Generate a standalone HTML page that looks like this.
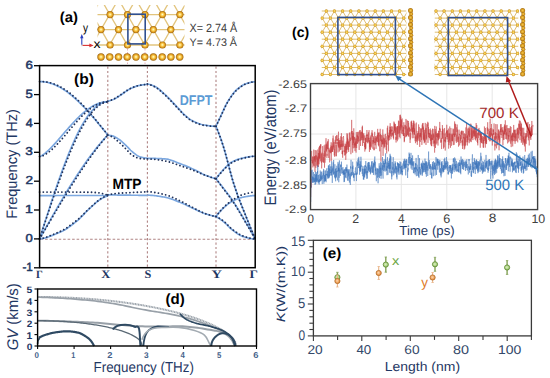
<!DOCTYPE html>
<html><head><meta charset="utf-8"><style>
html,body{margin:0;padding:0;background:#fff;}
svg{display:block;font-family:"Liberation Sans", sans-serif;text-rendering:geometricPrecision;}
</style></head><body>
<svg width="550" height="378" viewBox="0 0 550 378">
<rect width="550" height="378" fill="#fff"/>
<defs><radialGradient id="au" cx="0.5" cy="0.5" r="0.5" fx="0.5" fy="0.48"><stop offset="0" stop-color="#fffbe0"/><stop offset="0.28" stop-color="#fde070"/><stop offset="0.6" stop-color="#eeac2c"/><stop offset="0.85" stop-color="#c08216"/><stop offset="1" stop-color="#9a620e"/></radialGradient></defs>
<g stroke="#e2c47c" stroke-width="1.3" fill="none">
<line x1="145.0" y1="48.5" x2="145.0" y2="64" stroke="#e0a0b0" stroke-width="0.8" stroke-dasharray="2 1.5"/>
<line x1="127.5" y1="48.5" x2="127.5" y2="64" stroke="#e0a0b0" stroke-width="0.8" stroke-dasharray="2 1.5"/>
<line x1="97.5" y1="57" x2="184" y2="57" stroke="#e8d8a8" stroke-width="1"/>
<line x1="97.5" y1="14.6" x2="184.5" y2="14.6"/>
<line x1="97.5" y1="29.6" x2="184.5" y2="29.6"/>
<line x1="97.5" y1="45.0" x2="184.5" y2="45.0"/>
</g>
<clipPath id="aclip"><rect x="97.5" y="5" width="87" height="40"/></clipPath>
<g stroke="#e2c47c" stroke-width="1.3" clip-path="url(#aclip)">
<line x1="-3.7" y1="90.4" x2="66.1" y2="-31.2"/>
<line x1="-3.7" y1="-31.2" x2="66.1" y2="90.4"/>
<line x1="13.8" y1="90.4" x2="83.6" y2="-31.2"/>
<line x1="13.8" y1="-31.2" x2="83.6" y2="90.4"/>
<line x1="31.2" y1="90.4" x2="101.0" y2="-31.2"/>
<line x1="31.2" y1="-31.2" x2="101.0" y2="90.4"/>
<line x1="48.6" y1="90.4" x2="118.4" y2="-31.2"/>
<line x1="48.6" y1="-31.2" x2="118.4" y2="90.4"/>
<line x1="66.1" y1="90.4" x2="135.9" y2="-31.2"/>
<line x1="66.1" y1="-31.2" x2="135.9" y2="90.4"/>
<line x1="83.6" y1="90.4" x2="153.3" y2="-31.2"/>
<line x1="83.6" y1="-31.2" x2="153.3" y2="90.4"/>
<line x1="101.0" y1="90.4" x2="170.8" y2="-31.2"/>
<line x1="101.0" y1="-31.2" x2="170.8" y2="90.4"/>
<line x1="118.4" y1="90.4" x2="188.2" y2="-31.2"/>
<line x1="118.4" y1="-31.2" x2="188.2" y2="90.4"/>
<line x1="135.9" y1="90.4" x2="205.7" y2="-31.2"/>
<line x1="135.9" y1="-31.2" x2="205.7" y2="90.4"/>
<line x1="153.3" y1="90.4" x2="223.2" y2="-31.2"/>
<line x1="153.3" y1="-31.2" x2="223.2" y2="90.4"/>
<line x1="170.8" y1="90.4" x2="240.6" y2="-31.2"/>
<line x1="170.8" y1="-31.2" x2="240.6" y2="90.4"/>
<line x1="188.2" y1="90.4" x2="258.0" y2="-31.2"/>
<line x1="188.2" y1="-31.2" x2="258.0" y2="90.4"/>
</g>
<circle cx="110.1" cy="14.6" r="3.6" fill="url(#au)"/>
<circle cx="127.5" cy="14.6" r="3.6" fill="url(#au)"/>
<circle cx="145.0" cy="14.6" r="3.6" fill="url(#au)"/>
<circle cx="162.4" cy="14.6" r="3.6" fill="url(#au)"/>
<circle cx="179.9" cy="14.6" r="3.6" fill="url(#au)"/>
<circle cx="101.0" cy="29.6" r="3.6" fill="url(#au)"/>
<circle cx="118.5" cy="29.6" r="3.6" fill="url(#au)"/>
<circle cx="135.9" cy="29.6" r="3.6" fill="url(#au)"/>
<circle cx="153.3" cy="29.6" r="3.6" fill="url(#au)"/>
<circle cx="170.8" cy="29.6" r="3.6" fill="url(#au)"/>
<circle cx="110.1" cy="45.0" r="3.6" fill="url(#au)"/>
<circle cx="127.5" cy="45.0" r="3.6" fill="url(#au)"/>
<circle cx="145.0" cy="45.0" r="3.6" fill="url(#au)"/>
<circle cx="162.4" cy="45.0" r="3.6" fill="url(#au)"/>
<circle cx="179.9" cy="45.0" r="3.6" fill="url(#au)"/>
<circle cx="101.0" cy="57.0" r="3.7" fill="url(#au)"/>
<circle cx="109.7" cy="57.0" r="3.7" fill="url(#au)"/>
<circle cx="118.5" cy="57.0" r="3.7" fill="url(#au)"/>
<circle cx="127.2" cy="57.0" r="3.7" fill="url(#au)"/>
<circle cx="136.0" cy="57.0" r="3.7" fill="url(#au)"/>
<circle cx="144.7" cy="57.0" r="3.7" fill="url(#au)"/>
<circle cx="153.4" cy="57.0" r="3.7" fill="url(#au)"/>
<circle cx="162.2" cy="57.0" r="3.7" fill="url(#au)"/>
<circle cx="170.9" cy="57.0" r="3.7" fill="url(#au)"/>
<circle cx="179.7" cy="57.0" r="3.7" fill="url(#au)"/>
<rect x="127.9" y="14.2" width="17.3" height="29.7" fill="none" stroke="#2f4f8f" stroke-width="1.6"/>
<line x1="81.8" y1="45.4" x2="81.8" y2="37.5" stroke="#2840c0" stroke-width="1.1"/><path d="M80.1,38.2 L81.8,33.9 L83.5,38.2Z" fill="#2840c0"/>
<line x1="81.8" y1="45.4" x2="90" y2="45.4" stroke="#d83030" stroke-width="1.1"/><path d="M89.4,43.6 L93.6,45.4 L89.4,47.2Z" fill="#d83030"/><circle cx="81.8" cy="45.4" r="0.9" fill="#ddd"/>
<line x1="107.8" y1="66.5" x2="107.8" y2="267" stroke="#b08484" stroke-width="1.1" stroke-dasharray="2.2 2.2"/>
<line x1="147.4" y1="66.5" x2="147.4" y2="267" stroke="#b08484" stroke-width="1.1" stroke-dasharray="2.2 2.2"/>
<line x1="216.0" y1="66.5" x2="216.0" y2="267" stroke="#b08484" stroke-width="1.1" stroke-dasharray="2.2 2.2"/>
<line x1="40.6" y1="239.3" x2="255.2" y2="239.3" stroke="#b08484" stroke-width="1.1" stroke-dasharray="2.6 1.9"/>
<path d="M39.60,81.56 L40.99,81.59 L42.38,81.67 L43.78,81.81 L45.17,82.00 L46.56,82.24 L47.95,82.54 L49.34,82.90 L50.73,83.31 L52.13,83.77 L53.52,84.28 L54.91,84.84 L56.30,85.46 L57.69,86.13 L59.09,86.85 L60.48,87.62 L61.87,88.43 L63.26,89.30 L64.65,90.21 L66.04,91.16 L67.44,92.16 L68.83,93.21 L70.22,94.30 L71.61,95.43 L73.00,96.60 L74.40,97.81 L75.79,99.06 L77.18,100.35 L78.57,101.67 L79.96,103.02 L81.36,104.41 L82.75,105.83 L84.14,107.28 L85.53,108.76 L86.92,110.26 L88.31,111.79 L89.71,113.35 L91.10,114.93 L92.49,116.52 L93.88,118.14 L95.27,119.77 L96.67,121.42 L98.06,123.08 L99.45,124.76 L100.84,126.44 L102.23,128.14 L103.62,129.84 L105.02,131.55 L106.41,133.26 L107.80,134.97" fill="none" stroke="#7ca8e0" stroke-width="1.7"/>
<path d="M39.60,156.62 L40.99,156.09 L42.38,155.28 L43.78,154.30 L45.17,153.21 L46.56,152.01 L47.95,150.74 L49.34,149.41 L50.73,148.01 L52.13,146.57 L53.52,145.08 L54.91,143.56 L56.30,142.01 L57.69,140.44 L59.09,138.85 L60.48,137.25 L61.87,135.64 L63.26,134.03 L64.65,132.42 L66.04,130.81 L67.44,129.21 L68.83,127.63 L70.22,126.07 L71.61,124.53 L73.00,123.01 L74.40,121.52 L75.79,120.07 L77.18,118.65 L78.57,117.27 L79.96,115.94 L81.36,114.65 L82.75,113.40 L84.14,112.21 L85.53,111.08 L86.92,109.99 L88.31,108.97 L89.71,108.01 L91.10,107.11 L92.49,106.27 L93.88,105.51 L95.27,104.81 L96.67,104.18 L98.06,103.62 L99.45,103.13 L100.84,102.71 L102.23,102.37 L103.62,102.11 L105.02,101.92 L106.41,101.81 L107.80,101.77" fill="none" stroke="#7ca8e0" stroke-width="1.7"/>
<path d="M39.60,238.90 L40.99,234.50 L42.38,230.11 L43.78,225.73 L45.17,221.36 L46.56,217.01 L47.95,212.69 L49.34,208.39 L50.73,204.12 L52.13,199.88 L53.52,195.69 L54.91,191.54 L56.30,187.44 L57.69,183.39 L59.09,179.40 L60.48,175.47 L61.87,171.61 L63.26,167.81 L64.65,164.09 L66.04,160.44 L67.44,156.88 L68.83,153.40 L70.22,150.01 L71.61,146.71 L73.00,143.50 L74.40,140.39 L75.79,137.38 L77.18,134.48 L78.57,131.69 L79.96,129.00 L81.36,126.43 L82.75,123.97 L84.14,121.63 L85.53,119.41 L86.92,117.32 L88.31,115.35 L89.71,113.50 L91.10,111.79 L92.49,110.21 L93.88,108.75 L95.27,107.44 L96.67,106.25 L98.06,105.21 L99.45,104.30 L100.84,103.53 L102.23,102.89 L103.62,102.40 L105.02,102.05 L106.41,101.84 L107.80,101.77" fill="none" stroke="#7ca8e0" stroke-width="1.7"/>
<path d="M39.60,238.90 L40.99,236.42 L42.38,233.93 L43.78,231.45 L45.17,228.97 L46.56,226.50 L47.95,224.03 L49.34,221.57 L50.73,219.11 L52.13,216.67 L53.52,214.23 L54.91,211.80 L56.30,209.38 L57.69,206.98 L59.09,204.59 L60.48,202.21 L61.87,199.84 L63.26,197.50 L64.65,195.17 L66.04,192.85 L67.44,190.56 L68.83,188.28 L70.22,186.02 L71.61,183.79 L73.00,181.58 L74.40,179.38 L75.79,177.22 L77.18,175.07 L78.57,172.95 L79.96,170.85 L81.36,168.79 L82.75,166.74 L84.14,164.73 L85.53,162.74 L86.92,160.77 L88.31,158.84 L89.71,156.94 L91.10,155.06 L92.49,153.22 L93.88,151.40 L95.27,149.62 L96.67,147.87 L98.06,146.14 L99.45,144.45 L100.84,142.79 L102.23,141.16 L103.62,139.57 L105.02,138.00 L106.41,136.47 L107.80,134.97" fill="none" stroke="#7ca8e0" stroke-width="1.7"/>
<path d="M39.60,195.60 L40.76,195.59 L41.91,195.59 L43.07,195.58 L44.22,195.58 L45.38,195.57 L46.54,195.57 L47.69,195.56 L48.85,195.56 L50.00,195.55 L51.16,195.55 L52.32,195.54 L53.47,195.54 L54.63,195.53 L55.78,195.53 L56.94,195.52 L58.09,195.52 L59.25,195.52 L60.41,195.51 L61.56,195.51 L62.72,195.51 L63.87,195.51 L65.03,195.50 L66.19,195.50 L67.34,195.50 L68.50,195.50 L69.65,195.50 L70.81,195.50 L71.97,195.50 L73.12,195.50 L74.28,195.50 L75.43,195.50 L76.59,195.50 L77.75,195.50 L78.90,195.50 L80.06,195.50 L81.21,195.50 L82.37,195.50 L83.53,195.50 L84.68,195.50 L85.84,195.50 L86.99,195.50 L88.15,195.50 L89.31,195.50 L90.46,195.50 L91.62,195.50 L92.77,195.50 L93.93,195.50 L95.08,195.50 L96.24,195.50 L97.40,195.50 L98.55,195.50 L99.71,195.50 L100.86,195.50 L102.02,195.50 L103.18,195.50 L104.33,195.50 L105.49,195.50 L106.64,195.50 L107.80,195.50" fill="none" stroke="#7ca8e0" stroke-width="1.7"/>
<path d="M39.60,238.90 L40.76,238.75 L41.91,238.59 L43.07,238.40 L44.22,238.18 L45.38,237.90 L46.54,237.57 L47.69,237.19 L48.85,236.78 L50.00,236.33 L51.16,235.86 L52.32,235.39 L53.47,234.91 L54.63,234.42 L55.78,233.93 L56.94,233.45 L58.09,232.96 L59.25,232.47 L60.41,231.98 L61.56,231.46 L62.72,230.91 L63.87,230.32 L65.03,229.68 L66.19,228.97 L67.34,228.21 L68.50,227.40 L69.65,226.56 L70.81,225.70 L71.97,224.83 L73.12,223.96 L74.28,223.08 L75.43,222.19 L76.59,221.27 L77.75,220.30 L78.90,219.27 L80.06,218.17 L81.21,217.01 L82.37,215.81 L83.53,214.59 L84.68,213.37 L85.84,212.17 L86.99,211.00 L88.15,209.88 L89.31,208.79 L90.46,207.71 L91.62,206.65 L92.77,205.60 L93.93,204.54 L95.08,203.49 L96.24,202.47 L97.40,201.49 L98.55,200.57 L99.71,199.72 L100.86,198.95 L102.02,198.26 L103.18,197.66 L104.33,197.15 L105.49,196.70 L106.64,196.29 L107.80,195.90" fill="none" stroke="#7ca8e0" stroke-width="1.7"/>
<path d="M107.80,101.10 L108.47,100.98 L109.14,100.83 L109.81,100.66 L110.48,100.47 L111.16,100.26 L111.83,100.03 L112.50,99.79 L113.17,99.53 L113.84,99.25 L114.51,98.92 L115.18,98.56 L115.85,98.17 L116.53,97.76 L117.20,97.33 L117.87,96.90 L118.54,96.45 L119.21,96.01 L119.88,95.58 L120.55,95.14 L121.22,94.68 L121.89,94.20 L122.57,93.71 L123.24,93.22 L123.91,92.73 L124.58,92.25 L125.25,91.79 L125.92,91.35 L126.59,90.93 L127.26,90.51 L127.94,90.09 L128.61,89.68 L129.28,89.28 L129.95,88.90 L130.62,88.55 L131.29,88.22 L131.96,87.92 L132.63,87.64 L133.31,87.36 L133.98,87.10 L134.65,86.84 L135.32,86.60 L135.99,86.36 L136.66,86.14 L137.33,85.93 L138.00,85.75 L138.67,85.58 L139.35,85.43 L140.02,85.30 L140.69,85.18 L141.36,85.07 L142.03,84.96 L142.70,84.85 L143.37,84.75 L144.04,84.67 L144.72,84.59 L145.39,84.52 L146.06,84.46 L146.73,84.42 L147.40,84.40" fill="none" stroke="#7ca8e0" stroke-width="1.7"/>
<path d="M107.80,135.20 L108.47,135.22 L109.14,135.28 L109.81,135.38 L110.48,135.49 L111.16,135.62 L111.83,135.76 L112.50,135.92 L113.17,136.14 L113.84,136.40 L114.51,136.70 L115.18,137.05 L115.85,137.42 L116.53,137.82 L117.20,138.24 L117.87,138.67 L118.54,139.10 L119.21,139.54 L119.88,140.01 L120.55,140.53 L121.22,141.08 L121.89,141.66 L122.57,142.26 L123.24,142.88 L123.91,143.52 L124.58,144.16 L125.25,144.79 L125.92,145.43 L126.59,146.07 L127.26,146.75 L127.94,147.46 L128.61,148.18 L129.28,148.89 L129.95,149.59 L130.62,150.26 L131.29,150.89 L131.96,151.47 L132.63,152.01 L133.31,152.56 L133.98,153.11 L134.65,153.65 L135.32,154.17 L135.99,154.67 L136.66,155.14 L137.33,155.58 L138.00,155.97 L138.67,156.30 L139.35,156.59 L140.02,156.80 L140.69,156.99 L141.36,157.17 L142.03,157.33 L142.70,157.49 L143.37,157.64 L144.04,157.77 L144.72,157.88 L145.39,157.97 L146.06,158.04 L146.73,158.09 L147.40,158.10" fill="none" stroke="#7ca8e0" stroke-width="1.7"/>
<path d="M107.80,194.80 L108.47,194.82 L109.14,194.84 L109.81,194.85 L110.48,194.87 L111.16,194.89 L111.83,194.91 L112.50,194.92 L113.17,194.94 L113.84,194.96 L114.51,194.97 L115.18,194.99 L115.85,195.00 L116.53,195.02 L117.20,195.03 L117.87,195.05 L118.54,195.06 L119.21,195.07 L119.88,195.09 L120.55,195.10 L121.22,195.11 L121.89,195.12 L122.57,195.13 L123.24,195.14 L123.91,195.15 L124.58,195.16 L125.25,195.17 L125.92,195.18 L126.59,195.19 L127.26,195.19 L127.94,195.20 L128.61,195.20 L129.28,195.21 L129.95,195.22 L130.62,195.22 L131.29,195.23 L131.96,195.23 L132.63,195.24 L133.31,195.24 L133.98,195.25 L134.65,195.25 L135.32,195.26 L135.99,195.26 L136.66,195.26 L137.33,195.27 L138.00,195.27 L138.67,195.28 L139.35,195.28 L140.02,195.28 L140.69,195.28 L141.36,195.29 L142.03,195.29 L142.70,195.29 L143.37,195.29 L144.04,195.30 L144.72,195.30 L145.39,195.30 L146.06,195.30 L146.73,195.30 L147.40,195.30" fill="none" stroke="#7ca8e0" stroke-width="1.7"/>
<path d="M147.40,84.00 L148.56,84.21 L149.73,84.51 L150.89,84.88 L152.05,85.31 L153.21,85.79 L154.38,86.31 L155.54,86.87 L156.70,87.55 L157.86,88.36 L159.03,89.26 L160.19,90.22 L161.35,91.24 L162.52,92.27 L163.68,93.29 L164.84,94.33 L166.00,95.43 L167.17,96.57 L168.33,97.75 L169.49,98.94 L170.65,100.14 L171.82,101.35 L172.98,102.58 L174.14,103.84 L175.31,105.10 L176.47,106.36 L177.63,107.61 L178.79,108.85 L179.96,110.12 L181.12,111.40 L182.28,112.65 L183.44,113.84 L184.61,114.95 L185.77,115.97 L186.93,116.96 L188.09,117.92 L189.26,118.82 L190.42,119.64 L191.58,120.37 L192.75,120.97 L193.91,121.52 L195.07,122.05 L196.23,122.55 L197.40,123.02 L198.56,123.46 L199.72,123.85 L200.88,124.21 L202.05,124.53 L203.21,124.79 L204.37,125.01 L205.54,125.21 L206.70,125.40 L207.86,125.58 L209.02,125.75 L210.19,125.90 L211.35,126.04 L212.51,126.15 L213.67,126.23 L214.84,126.28 L216.00,126.30" fill="none" stroke="#7ca8e0" stroke-width="1.7"/>
<path d="M147.40,158.30 L148.56,158.30 L149.73,158.31 L150.89,158.33 L152.05,158.35 L153.21,158.37 L154.38,158.41 L155.54,158.44 L156.70,158.49 L157.86,158.53 L159.03,158.58 L160.19,158.64 L161.35,158.70 L162.52,158.76 L163.68,158.83 L164.84,158.90 L166.00,159.02 L167.17,159.20 L168.33,159.44 L169.49,159.74 L170.65,160.09 L171.82,160.47 L172.98,160.89 L174.14,161.33 L175.31,161.79 L176.47,162.25 L177.63,162.72 L178.79,163.18 L179.96,163.63 L181.12,164.05 L182.28,164.49 L183.44,164.94 L184.61,165.40 L185.77,165.88 L186.93,166.37 L188.09,166.87 L189.26,167.37 L190.42,167.89 L191.58,168.42 L192.75,168.95 L193.91,169.48 L195.07,170.02 L196.23,170.60 L197.40,171.20 L198.56,171.83 L199.72,172.45 L200.88,173.07 L202.05,173.67 L203.21,174.23 L204.37,174.75 L205.54,175.22 L206.70,175.69 L207.86,176.14 L209.02,176.57 L210.19,176.99 L211.35,177.40 L212.51,177.78 L213.67,178.14 L214.84,178.48 L216.00,178.80" fill="none" stroke="#7ca8e0" stroke-width="1.7"/>
<path d="M147.40,195.20 L148.56,195.21 L149.73,195.25 L150.89,195.31 L152.05,195.39 L153.21,195.50 L154.38,195.62 L155.54,195.75 L156.70,195.90 L157.86,196.07 L159.03,196.24 L160.19,196.42 L161.35,196.61 L162.52,196.81 L163.68,197.01 L164.84,197.21 L166.00,197.43 L167.17,197.70 L168.33,198.01 L169.49,198.35 L170.65,198.72 L171.82,199.12 L172.98,199.54 L174.14,199.98 L175.31,200.44 L176.47,200.90 L177.63,201.37 L178.79,201.84 L179.96,202.30 L181.12,202.77 L182.28,203.25 L183.44,203.76 L184.61,204.29 L185.77,204.84 L186.93,205.40 L188.09,205.96 L189.26,206.54 L190.42,207.11 L191.58,207.68 L192.75,208.23 L193.91,208.78 L195.07,209.32 L196.23,209.86 L197.40,210.42 L198.56,210.98 L199.72,211.53 L200.88,212.07 L202.05,212.57 L203.21,213.04 L204.37,213.46 L205.54,213.84 L206.70,214.21 L207.86,214.56 L209.02,214.90 L210.19,215.23 L211.35,215.53 L212.51,215.81 L213.67,216.07 L214.84,216.30 L216.00,216.50" fill="none" stroke="#7ca8e0" stroke-width="1.7"/>
<path d="M216.00,126.30 L216.66,124.84 L217.33,123.39 L217.99,121.94 L218.66,120.50 L219.32,119.07 L219.99,117.65 L220.65,116.24 L221.32,114.83 L221.98,113.39 L222.64,111.93 L223.31,110.47 L223.97,109.01 L224.64,107.58 L225.30,106.18 L225.97,104.83 L226.63,103.55 L227.29,102.35 L227.96,101.24 L228.62,100.18 L229.29,99.13 L229.95,98.10 L230.62,97.10 L231.28,96.12 L231.95,95.18 L232.61,94.27 L233.27,93.41 L233.94,92.58 L234.60,91.80 L235.27,91.06 L235.93,90.38 L236.60,89.75 L237.26,89.18 L237.93,88.63 L238.59,88.09 L239.25,87.57 L239.92,87.07 L240.58,86.59 L241.25,86.13 L241.91,85.70 L242.58,85.30 L243.24,84.92 L243.91,84.57 L244.57,84.25 L245.23,83.97 L245.90,83.73 L246.56,83.52 L247.23,83.32 L247.89,83.12 L248.56,82.93 L249.22,82.74 L249.88,82.57 L250.55,82.41 L251.21,82.26 L251.88,82.13 L252.54,82.02 L253.21,81.92 L253.87,81.86 L254.54,81.81 L255.20,81.80" fill="none" stroke="#7ca8e0" stroke-width="1.7"/>
<path d="M216.00,126.30 L216.66,127.96 L217.33,129.62 L217.99,131.30 L218.66,133.01 L219.32,134.74 L219.99,136.51 L220.65,138.34 L221.32,140.21 L221.98,142.15 L222.64,144.15 L223.31,146.24 L223.97,148.41 L224.64,150.67 L225.30,153.01 L225.97,155.42 L226.63,157.87 L227.29,160.37 L227.96,162.88 L228.62,165.41 L229.29,167.93 L229.95,170.43 L230.62,172.89 L231.28,175.31 L231.95,177.66 L232.61,179.94 L233.27,182.14 L233.94,184.28 L234.60,186.36 L235.27,188.38 L235.93,190.34 L236.60,192.25 L237.26,194.12 L237.93,195.95 L238.59,197.74 L239.25,199.49 L239.92,201.22 L240.58,202.93 L241.25,204.61 L241.91,206.28 L242.58,207.94 L243.24,209.60 L243.91,211.25 L244.57,212.90 L245.23,214.54 L245.90,216.19 L246.56,217.83 L247.23,219.46 L247.89,221.10 L248.56,222.73 L249.22,224.36 L249.88,226.00 L250.55,227.62 L251.21,229.25 L251.88,230.88 L252.54,232.50 L253.21,234.13 L253.87,235.75 L254.54,237.38 L255.20,239.00" fill="none" stroke="#7ca8e0" stroke-width="1.7"/>
<path d="M216.00,178.80 L216.66,177.88 L217.33,176.98 L217.99,176.09 L218.66,175.23 L219.32,174.38 L219.99,173.55 L220.65,172.74 L221.32,171.95 L221.98,171.19 L222.64,170.44 L223.31,169.72 L223.97,169.03 L224.64,168.34 L225.30,167.65 L225.97,166.97 L226.63,166.29 L227.29,165.63 L227.96,164.99 L228.62,164.38 L229.29,163.81 L229.95,163.27 L230.62,162.79 L231.28,162.35 L231.95,161.98 L232.61,161.64 L233.27,161.31 L233.94,161.00 L234.60,160.70 L235.27,160.41 L235.93,160.14 L236.60,159.88 L237.26,159.63 L237.93,159.40 L238.59,159.18 L239.25,158.97 L239.92,158.77 L240.58,158.58 L241.25,158.41 L241.91,158.24 L242.58,158.09 L243.24,157.95 L243.91,157.81 L244.57,157.67 L245.23,157.54 L245.90,157.41 L246.56,157.28 L247.23,157.16 L247.89,157.04 L248.56,156.92 L249.22,156.81 L249.88,156.71 L250.55,156.62 L251.21,156.53 L251.88,156.45 L252.54,156.38 L253.21,156.32 L253.87,156.27 L254.54,156.23 L255.20,156.20" fill="none" stroke="#7ca8e0" stroke-width="1.7"/>
<path d="M216.00,178.80 L216.66,179.63 L217.33,180.46 L217.99,181.30 L218.66,182.14 L219.32,182.98 L219.99,183.83 L220.65,184.68 L221.32,185.53 L221.98,186.38 L222.64,187.24 L223.31,188.10 L223.97,188.96 L224.64,189.83 L225.30,190.68 L225.97,191.54 L226.63,192.39 L227.29,193.25 L227.96,194.11 L228.62,194.98 L229.29,195.87 L229.95,196.76 L230.62,197.68 L231.28,198.61 L231.95,199.57 L232.61,200.54 L233.27,201.54 L233.94,202.56 L234.60,203.59 L235.27,204.64 L235.93,205.70 L236.60,206.78 L237.26,207.86 L237.93,208.96 L238.59,210.06 L239.25,211.18 L239.92,212.29 L240.58,213.41 L241.25,214.54 L241.91,215.66 L242.58,216.78 L243.24,217.91 L243.91,219.03 L244.57,220.16 L245.23,221.30 L245.90,222.44 L246.56,223.59 L247.23,224.74 L247.89,225.90 L248.56,227.07 L249.22,228.24 L249.88,229.41 L250.55,230.59 L251.21,231.78 L251.88,232.97 L252.54,234.16 L253.21,235.36 L253.87,236.57 L254.54,237.78 L255.20,239.00" fill="none" stroke="#7ca8e0" stroke-width="1.7"/>
<path d="M216.00,216.50 L216.66,215.64 L217.33,214.79 L217.99,213.97 L218.66,213.16 L219.32,212.38 L219.99,211.61 L220.65,210.87 L221.32,210.15 L221.98,209.46 L222.64,208.79 L223.31,208.14 L223.97,207.52 L224.64,206.93 L225.30,206.34 L225.97,205.76 L226.63,205.19 L227.29,204.64 L227.96,204.11 L228.62,203.61 L229.29,203.12 L229.95,202.66 L230.62,202.24 L231.28,201.84 L231.95,201.48 L232.61,201.13 L233.27,200.80 L233.94,200.47 L234.60,200.15 L235.27,199.84 L235.93,199.54 L236.60,199.25 L237.26,198.98 L237.93,198.71 L238.59,198.46 L239.25,198.23 L239.92,198.00 L240.58,197.80 L241.25,197.61 L241.91,197.44 L242.58,197.29 L243.24,197.15 L243.91,197.02 L244.57,196.89 L245.23,196.76 L245.90,196.64 L246.56,196.52 L247.23,196.40 L247.89,196.29 L248.56,196.18 L249.22,196.08 L249.88,195.99 L250.55,195.90 L251.21,195.83 L251.88,195.76 L252.54,195.71 L253.21,195.66 L253.87,195.63 L254.54,195.61 L255.20,195.60" fill="none" stroke="#7ca8e0" stroke-width="1.7"/>
<path d="M216.00,216.50 L216.66,216.88 L217.33,217.27 L217.99,217.68 L218.66,218.11 L219.32,218.55 L219.99,219.00 L220.65,219.47 L221.32,219.94 L221.98,220.44 L222.64,220.94 L223.31,221.45 L223.97,221.98 L224.64,222.53 L225.30,223.13 L225.97,223.77 L226.63,224.43 L227.29,225.10 L227.96,225.79 L228.62,226.47 L229.29,227.15 L229.95,227.80 L230.62,228.42 L231.28,229.00 L231.95,229.54 L232.61,230.05 L233.27,230.56 L233.94,231.07 L234.60,231.57 L235.27,232.07 L235.93,232.56 L236.60,233.04 L237.26,233.50 L237.93,233.95 L238.59,234.37 L239.25,234.78 L239.92,235.15 L240.58,235.50 L241.25,235.82 L241.91,236.11 L242.58,236.36 L243.24,236.57 L243.91,236.78 L244.57,236.99 L245.23,237.19 L245.90,237.38 L246.56,237.57 L247.23,237.76 L247.89,237.93 L248.56,238.10 L249.22,238.25 L249.88,238.40 L250.55,238.53 L251.21,238.65 L251.88,238.75 L252.54,238.84 L253.21,238.91 L253.87,238.96 L254.54,238.99 L255.20,239.00" fill="none" stroke="#7ca8e0" stroke-width="1.7"/>
<path d="M39.60,81.56 L40.99,81.53 L42.38,81.56 L43.78,81.64 L45.17,81.78 L46.56,81.97 L47.95,82.22 L49.34,82.52 L50.73,82.88 L52.13,83.29 L53.52,83.76 L54.91,84.28 L56.30,84.86 L57.69,85.49 L59.09,86.17 L60.48,86.90 L61.87,87.69 L63.26,88.53 L64.65,89.41 L66.04,90.35 L67.44,91.33 L68.83,92.37 L70.22,93.44 L71.61,94.57 L73.00,95.74 L74.40,96.95 L75.79,98.20 L77.18,99.49 L78.57,100.82 L79.96,102.19 L81.36,103.60 L82.75,105.04 L84.14,106.51 L85.53,108.02 L86.92,109.55 L88.31,111.12 L89.71,112.71 L91.10,114.32 L92.49,115.96 L93.88,117.62 L95.27,119.30 L96.67,121.00 L98.06,122.71 L99.45,124.43 L100.84,126.17 L102.23,127.92 L103.62,129.67 L105.02,131.44 L106.41,133.20 L107.80,134.97" fill="none" stroke="#21325a" stroke-width="1.85" stroke-linecap="round" stroke-dasharray="0.01 3.7"/>
<path d="M39.60,156.62 L40.99,156.40 L42.38,155.94 L43.78,155.33 L45.17,154.58 L46.56,153.71 L47.95,152.74 L49.34,151.67 L50.73,150.51 L52.13,149.28 L53.52,147.98 L54.91,146.61 L56.30,145.19 L57.69,143.72 L59.09,142.20 L60.48,140.65 L61.87,139.06 L63.26,137.45 L64.65,135.82 L66.04,134.17 L67.44,132.52 L68.83,130.86 L70.22,129.21 L71.61,127.56 L73.00,125.93 L74.40,124.31 L75.79,122.72 L77.18,121.15 L78.57,119.62 L79.96,118.13 L81.36,116.68 L82.75,115.27 L84.14,113.92 L85.53,112.62 L86.92,111.38 L88.31,110.20 L89.71,109.08 L91.10,108.04 L92.49,107.07 L93.88,106.17 L95.27,105.35 L96.67,104.61 L98.06,103.95 L99.45,103.38 L100.84,102.89 L102.23,102.49 L103.62,102.17 L105.02,101.95 L106.41,101.81 L107.80,101.77" fill="none" stroke="#21325a" stroke-width="1.85" stroke-linecap="round" stroke-dasharray="0.01 3.7"/>
<path d="M39.60,238.90 L40.99,234.65 L42.38,230.41 L43.78,226.17 L45.17,221.95 L46.56,217.74 L47.95,213.55 L49.34,209.39 L50.73,205.25 L52.13,201.14 L53.52,197.07 L54.91,193.04 L56.30,189.05 L57.69,185.10 L59.09,181.21 L60.48,177.37 L61.87,173.58 L63.26,169.86 L64.65,166.20 L66.04,162.61 L67.44,159.09 L68.83,155.65 L70.22,152.29 L71.61,149.00 L73.00,145.81 L74.40,142.70 L75.79,139.68 L77.18,136.76 L78.57,133.94 L79.96,131.21 L81.36,128.60 L82.75,126.08 L84.14,123.68 L85.53,121.39 L86.92,119.21 L88.31,117.15 L89.71,115.21 L91.10,113.40 L92.49,111.70 L93.88,110.14 L95.27,108.70 L96.67,107.39 L98.06,106.21 L99.45,105.16 L100.84,104.25 L102.23,103.48 L103.62,102.84 L105.02,102.34 L106.41,101.99 L107.80,101.77" fill="none" stroke="#21325a" stroke-width="1.85" stroke-linecap="round" stroke-dasharray="0.01 3.7"/>
<path d="M39.60,238.90 L40.99,236.53 L42.38,234.15 L43.78,231.78 L45.17,229.41 L46.56,227.05 L47.95,224.68 L49.34,222.32 L50.73,219.96 L52.13,217.61 L53.52,215.26 L54.91,212.92 L56.30,210.59 L57.69,208.26 L59.09,205.94 L60.48,203.63 L61.87,201.33 L63.26,199.03 L64.65,196.75 L66.04,194.48 L67.44,192.22 L68.83,189.97 L70.22,187.73 L71.61,185.51 L73.00,183.31 L74.40,181.11 L75.79,178.94 L77.18,176.78 L78.57,174.64 L79.96,172.52 L81.36,170.41 L82.75,168.33 L84.14,166.26 L85.53,164.22 L86.92,162.20 L88.31,160.20 L89.71,158.22 L91.10,156.27 L92.49,154.34 L93.88,152.44 L95.27,150.56 L96.67,148.72 L98.06,146.89 L99.45,145.10 L100.84,143.34 L102.23,141.60 L103.62,139.90 L105.02,138.22 L106.41,136.58 L107.80,134.97" fill="none" stroke="#21325a" stroke-width="1.85" stroke-linecap="round" stroke-dasharray="0.01 3.7"/>
<path d="M39.60,192.10 L40.76,192.10 L41.91,192.10 L43.07,192.10 L44.22,192.10 L45.38,192.10 L46.54,192.10 L47.69,192.10 L48.85,192.10 L50.00,192.10 L51.16,192.10 L52.32,192.10 L53.47,192.10 L54.63,192.10 L55.78,192.10 L56.94,192.10 L58.09,192.10 L59.25,192.10 L60.41,192.10 L61.56,192.10 L62.72,192.10 L63.87,192.10 L65.03,192.10 L66.19,192.10 L67.34,192.10 L68.50,192.10 L69.65,192.10 L70.81,192.10 L71.97,192.10 L73.12,192.10 L74.28,192.11 L75.43,192.11 L76.59,192.12 L77.75,192.12 L78.90,192.13 L80.06,192.14 L81.21,192.15 L82.37,192.16 L83.53,192.17 L84.68,192.19 L85.84,192.20 L86.99,192.22 L88.15,192.23 L89.31,192.25 L90.46,192.27 L91.62,192.29 L92.77,192.32 L93.93,192.37 L95.08,192.45 L96.24,192.55 L97.40,192.67 L98.55,192.81 L99.71,192.96 L100.86,193.17 L102.02,193.50 L103.18,193.87 L104.33,194.18 L105.49,194.47 L106.64,194.74 L107.80,195.00" fill="none" stroke="#21325a" stroke-width="1.85" stroke-linecap="round" stroke-dasharray="0.01 3.7"/>
<path d="M39.60,238.90 L40.76,238.66 L41.91,238.40 L43.07,238.13 L44.22,237.83 L45.38,237.48 L46.54,237.09 L47.69,236.67 L48.85,236.22 L50.00,235.75 L51.16,235.27 L52.32,234.79 L53.47,234.31 L54.63,233.83 L55.78,233.34 L56.94,232.86 L58.09,232.36 L59.25,231.85 L60.41,231.32 L61.56,230.77 L62.72,230.18 L63.87,229.56 L65.03,228.89 L66.19,228.16 L67.34,227.39 L68.50,226.58 L69.65,225.74 L70.81,224.89 L71.97,224.03 L73.12,223.16 L74.28,222.30 L75.43,221.41 L76.59,220.50 L77.75,219.55 L78.90,218.56 L80.06,217.50 L81.21,216.39 L82.37,215.25 L83.53,214.09 L84.68,212.92 L85.84,211.76 L86.99,210.63 L88.15,209.52 L89.31,208.44 L90.46,207.38 L91.62,206.33 L92.77,205.29 L93.93,204.26 L95.08,203.25 L96.24,202.25 L97.40,201.29 L98.55,200.36 L99.71,199.50 L100.86,198.69 L102.02,197.98 L103.18,197.36 L104.33,196.83 L105.49,196.38 L106.64,195.98 L107.80,195.60" fill="none" stroke="#21325a" stroke-width="1.85" stroke-linecap="round" stroke-dasharray="0.01 3.7"/>
<path d="M107.80,101.10 L108.47,100.94 L109.14,100.76 L109.81,100.57 L110.48,100.35 L111.16,100.12 L111.83,99.87 L112.50,99.60 L113.17,99.33 L113.84,99.02 L114.51,98.69 L115.18,98.32 L115.85,97.94 L116.53,97.53 L117.20,97.11 L117.87,96.68 L118.54,96.25 L119.21,95.81 L119.88,95.38 L120.55,94.94 L121.22,94.48 L121.89,94.00 L122.57,93.51 L123.24,93.02 L123.91,92.53 L124.58,92.05 L125.25,91.59 L125.92,91.15 L126.59,90.73 L127.26,90.30 L127.94,89.88 L128.61,89.47 L129.28,89.07 L129.95,88.69 L130.62,88.34 L131.29,88.01 L131.96,87.72 L132.63,87.44 L133.31,87.18 L133.98,86.92 L134.65,86.67 L135.32,86.43 L135.99,86.20 L136.66,85.99 L137.33,85.80 L138.00,85.62 L138.67,85.46 L139.35,85.32 L140.02,85.20 L140.69,85.09 L141.36,84.99 L142.03,84.89 L142.70,84.79 L143.37,84.70 L144.04,84.62 L144.72,84.55 L145.39,84.49 L146.06,84.45 L146.73,84.42 L147.40,84.40" fill="none" stroke="#21325a" stroke-width="1.85" stroke-linecap="round" stroke-dasharray="0.01 3.7"/>
<path d="M107.80,135.20 L108.47,135.38 L109.14,135.59 L109.81,135.83 L110.48,136.10 L111.16,136.40 L111.83,136.71 L112.50,137.06 L113.17,137.46 L113.84,137.91 L114.51,138.40 L115.18,138.92 L115.85,139.47 L116.53,140.04 L117.20,140.63 L117.87,141.21 L118.54,141.80 L119.21,142.38 L119.88,142.98 L120.55,143.60 L121.22,144.24 L121.89,144.89 L122.57,145.56 L123.24,146.23 L123.91,146.90 L124.58,147.58 L125.25,148.26 L125.92,148.92 L126.59,149.61 L127.26,150.33 L127.94,151.08 L128.61,151.84 L129.28,152.58 L129.95,153.28 L130.62,153.93 L131.29,154.50 L131.96,154.98 L132.63,155.39 L133.31,155.80 L133.98,156.19 L134.65,156.56 L135.32,156.92 L135.99,157.25 L136.66,157.55 L137.33,157.82 L138.00,158.06 L138.67,158.25 L139.35,158.40 L140.02,158.50 L140.69,158.58 L141.36,158.65 L142.03,158.72 L142.70,158.78 L143.37,158.83 L144.04,158.88 L144.72,158.92 L145.39,158.96 L146.06,158.98 L146.73,158.99 L147.40,159.00" fill="none" stroke="#21325a" stroke-width="1.85" stroke-linecap="round" stroke-dasharray="0.01 3.7"/>
<path d="M107.80,194.80 L108.47,194.67 L109.14,194.53 L109.81,194.40 L110.48,194.28 L111.16,194.15 L111.83,194.04 L112.50,193.93 L113.17,193.83 L113.84,193.73 L114.51,193.65 L115.18,193.58 L115.85,193.52 L116.53,193.46 L117.20,193.40 L117.87,193.34 L118.54,193.29 L119.21,193.24 L119.88,193.19 L120.55,193.14 L121.22,193.10 L121.89,193.05 L122.57,193.01 L123.24,192.97 L123.91,192.93 L124.58,192.89 L125.25,192.86 L125.92,192.82 L126.59,192.78 L127.26,192.75 L127.94,192.71 L128.61,192.68 L129.28,192.64 L129.95,192.60 L130.62,192.57 L131.29,192.53 L131.96,192.49 L132.63,192.46 L133.31,192.42 L133.98,192.39 L134.65,192.35 L135.32,192.32 L135.99,192.29 L136.66,192.25 L137.33,192.22 L138.00,192.19 L138.67,192.16 L139.35,192.13 L140.02,192.10 L140.69,192.07 L141.36,192.04 L142.03,192.01 L142.70,191.98 L143.37,191.95 L144.04,191.93 L144.72,191.90 L145.39,191.87 L146.06,191.85 L146.73,191.82 L147.40,191.80" fill="none" stroke="#21325a" stroke-width="1.85" stroke-linecap="round" stroke-dasharray="0.01 3.7"/>
<path d="M147.40,84.00 L148.56,84.26 L149.73,84.61 L150.89,85.02 L152.05,85.50 L153.21,86.02 L154.38,86.58 L155.54,87.19 L156.70,87.92 L157.86,88.75 L159.03,89.68 L160.19,90.67 L161.35,91.70 L162.52,92.75 L163.68,93.79 L164.84,94.84 L166.00,95.94 L167.17,97.09 L168.33,98.26 L169.49,99.45 L170.65,100.64 L171.82,101.85 L172.98,103.08 L174.14,104.34 L175.31,105.60 L176.47,106.86 L177.63,108.11 L178.79,109.35 L179.96,110.63 L181.12,111.91 L182.28,113.16 L183.44,114.35 L184.61,115.45 L185.77,116.46 L186.93,117.44 L188.09,118.38 L189.26,119.26 L190.42,120.06 L191.58,120.77 L192.75,121.37 L193.91,121.93 L195.07,122.47 L196.23,122.98 L197.40,123.47 L198.56,123.92 L199.72,124.32 L200.88,124.68 L202.05,124.99 L203.21,125.23 L204.37,125.41 L205.54,125.55 L206.70,125.69 L207.86,125.82 L209.02,125.93 L210.19,126.04 L211.35,126.13 L212.51,126.20 L213.67,126.25 L214.84,126.29 L216.00,126.30" fill="none" stroke="#21325a" stroke-width="1.85" stroke-linecap="round" stroke-dasharray="0.01 3.7"/>
<path d="M147.40,158.90 L148.56,158.92 L149.73,158.97 L150.89,159.04 L152.05,159.12 L153.21,159.23 L154.38,159.35 L155.54,159.48 L156.70,159.63 L157.86,159.79 L159.03,159.96 L160.19,160.14 L161.35,160.33 L162.52,160.52 L163.68,160.71 L164.84,160.91 L166.00,161.13 L167.17,161.39 L168.33,161.69 L169.49,162.02 L170.65,162.38 L171.82,162.76 L172.98,163.16 L174.14,163.57 L175.31,163.98 L176.47,164.41 L177.63,164.83 L178.79,165.24 L179.96,165.65 L181.12,166.04 L182.28,166.43 L183.44,166.82 L184.61,167.21 L185.77,167.61 L186.93,168.01 L188.09,168.41 L189.26,168.82 L190.42,169.24 L191.58,169.66 L192.75,170.09 L193.91,170.53 L195.07,170.99 L196.23,171.46 L197.40,171.96 L198.56,172.48 L199.72,172.99 L200.88,173.51 L202.05,174.01 L203.21,174.50 L204.37,174.95 L205.54,175.38 L206.70,175.80 L207.86,176.22 L209.02,176.62 L210.19,177.01 L211.35,177.39 L212.51,177.76 L213.67,178.12 L214.84,178.47 L216.00,178.80" fill="none" stroke="#21325a" stroke-width="1.85" stroke-linecap="round" stroke-dasharray="0.01 3.7"/>
<path d="M147.40,191.70 L148.56,191.76 L149.73,191.84 L150.89,191.95 L152.05,192.08 L153.21,192.24 L154.38,192.42 L155.54,192.61 L156.70,192.82 L157.86,193.05 L159.03,193.28 L160.19,193.53 L161.35,193.79 L162.52,194.06 L163.68,194.33 L164.84,194.61 L166.00,194.91 L167.17,195.27 L168.33,195.66 L169.49,196.09 L170.65,196.55 L171.82,197.04 L172.98,197.55 L174.14,198.09 L175.31,198.63 L176.47,199.18 L177.63,199.74 L178.79,200.30 L179.96,200.85 L181.12,201.40 L182.28,201.96 L183.44,202.54 L184.61,203.15 L185.77,203.77 L186.93,204.39 L188.09,205.03 L189.26,205.66 L190.42,206.30 L191.58,206.93 L192.75,207.54 L193.91,208.15 L195.07,208.74 L196.23,209.34 L197.40,209.96 L198.56,210.57 L199.72,211.17 L200.88,211.75 L202.05,212.30 L203.21,212.80 L204.37,213.25 L205.54,213.66 L206.70,214.06 L207.86,214.44 L209.02,214.81 L210.19,215.15 L211.35,215.48 L212.51,215.77 L213.67,216.05 L214.84,216.29 L216.00,216.50" fill="none" stroke="#21325a" stroke-width="1.85" stroke-linecap="round" stroke-dasharray="0.01 3.7"/>
<path d="M216.00,126.30 L216.66,124.89 L217.33,123.49 L217.99,122.08 L218.66,120.69 L219.32,119.29 L219.99,117.91 L220.65,116.52 L221.32,115.14 L221.98,113.73 L222.64,112.28 L223.31,110.83 L223.97,109.38 L224.64,107.96 L225.30,106.56 L225.97,105.22 L226.63,103.94 L227.29,102.75 L227.96,101.64 L228.62,100.58 L229.29,99.54 L229.95,98.51 L230.62,97.52 L231.28,96.55 L231.95,95.61 L232.61,94.70 L233.27,93.84 L233.94,93.01 L234.60,92.22 L235.27,91.49 L235.93,90.80 L236.60,90.16 L237.26,89.57 L237.93,89.01 L238.59,88.46 L239.25,87.93 L239.92,87.42 L240.58,86.92 L241.25,86.45 L241.91,86.01 L242.58,85.59 L243.24,85.19 L243.91,84.83 L244.57,84.50 L245.23,84.20 L245.90,83.94 L246.56,83.71 L247.23,83.49 L247.89,83.28 L248.56,83.07 L249.22,82.87 L249.88,82.68 L250.55,82.50 L251.21,82.34 L251.88,82.19 L252.54,82.07 L253.21,81.96 L253.87,81.88 L254.54,81.83 L255.20,81.80" fill="none" stroke="#21325a" stroke-width="1.85" stroke-linecap="round" stroke-dasharray="0.01 3.7"/>
<path d="M216.00,126.30 L216.66,127.96 L217.33,129.62 L217.99,131.30 L218.66,133.01 L219.32,134.74 L219.99,136.51 L220.65,138.34 L221.32,140.21 L221.98,142.15 L222.64,144.15 L223.31,146.24 L223.97,148.41 L224.64,150.67 L225.30,153.01 L225.97,155.42 L226.63,157.87 L227.29,160.37 L227.96,162.88 L228.62,165.41 L229.29,167.93 L229.95,170.43 L230.62,172.89 L231.28,175.31 L231.95,177.66 L232.61,179.94 L233.27,182.14 L233.94,184.28 L234.60,186.36 L235.27,188.38 L235.93,190.34 L236.60,192.25 L237.26,194.12 L237.93,195.95 L238.59,197.74 L239.25,199.49 L239.92,201.22 L240.58,202.93 L241.25,204.61 L241.91,206.28 L242.58,207.94 L243.24,209.60 L243.91,211.25 L244.57,212.90 L245.23,214.54 L245.90,216.19 L246.56,217.83 L247.23,219.46 L247.89,221.10 L248.56,222.73 L249.22,224.36 L249.88,226.00 L250.55,227.62 L251.21,229.25 L251.88,230.88 L252.54,232.50 L253.21,234.13 L253.87,235.75 L254.54,237.38 L255.20,239.00" fill="none" stroke="#21325a" stroke-width="1.85" stroke-linecap="round" stroke-dasharray="0.01 3.7"/>
<path d="M216.00,178.80 L216.66,177.94 L217.33,177.09 L217.99,176.26 L218.66,175.44 L219.32,174.64 L219.99,173.86 L220.65,173.09 L221.32,172.34 L221.98,171.61 L222.64,170.89 L223.31,170.20 L223.97,169.53 L224.64,168.86 L225.30,168.19 L225.97,167.53 L226.63,166.87 L227.29,166.22 L227.96,165.60 L228.62,165.00 L229.29,164.43 L229.95,163.90 L230.62,163.41 L231.28,162.96 L231.95,162.57 L232.61,162.22 L233.27,161.88 L233.94,161.55 L234.60,161.23 L235.27,160.93 L235.93,160.64 L236.60,160.36 L237.26,160.09 L237.93,159.84 L238.59,159.60 L239.25,159.37 L239.92,159.16 L240.58,158.95 L241.25,158.76 L241.91,158.58 L242.58,158.40 L243.24,158.24 L243.91,158.08 L244.57,157.93 L245.23,157.78 L245.90,157.63 L246.56,157.48 L247.23,157.34 L247.89,157.21 L248.56,157.08 L249.22,156.95 L249.88,156.84 L250.55,156.73 L251.21,156.62 L251.88,156.53 L252.54,156.44 L253.21,156.37 L253.87,156.30 L254.54,156.25 L255.20,156.20" fill="none" stroke="#21325a" stroke-width="1.85" stroke-linecap="round" stroke-dasharray="0.01 3.7"/>
<path d="M216.00,178.80 L216.66,179.69 L217.33,180.58 L217.99,181.47 L218.66,182.36 L219.32,183.25 L219.99,184.14 L220.65,185.03 L221.32,185.92 L221.98,186.80 L222.64,187.69 L223.31,188.58 L223.97,189.46 L224.64,190.34 L225.30,191.21 L225.97,192.07 L226.63,192.93 L227.29,193.78 L227.96,194.64 L228.62,195.51 L229.29,196.39 L229.95,197.28 L230.62,198.18 L231.28,199.11 L231.95,200.07 L232.61,201.04 L233.27,202.04 L233.94,203.06 L234.60,204.10 L235.27,205.15 L235.93,206.22 L236.60,207.30 L237.26,208.39 L237.93,209.49 L238.59,210.59 L239.25,211.71 L239.92,212.82 L240.58,213.94 L241.25,215.06 L241.91,216.18 L242.58,217.29 L243.24,218.40 L243.91,219.51 L244.57,220.63 L245.23,221.75 L245.90,222.87 L246.56,224.00 L247.23,225.13 L247.89,226.27 L248.56,227.41 L249.22,228.55 L249.88,229.69 L250.55,230.84 L251.21,232.00 L251.88,233.16 L252.54,234.32 L253.21,235.48 L253.87,236.65 L254.54,237.82 L255.20,239.00" fill="none" stroke="#21325a" stroke-width="1.85" stroke-linecap="round" stroke-dasharray="0.01 3.7"/>
<path d="M216.00,216.50 L216.66,215.60 L217.33,214.71 L217.99,213.85 L218.66,213.00 L219.32,212.17 L219.99,211.37 L220.65,210.58 L221.32,209.82 L221.98,209.09 L222.64,208.37 L223.31,207.69 L223.97,207.03 L224.64,206.39 L225.30,205.76 L225.97,205.16 L226.63,204.57 L227.29,203.99 L227.96,203.43 L228.62,202.89 L229.29,202.37 L229.95,201.87 L230.62,201.38 L231.28,200.92 L231.95,200.47 L232.61,200.03 L233.27,199.59 L233.94,199.16 L234.60,198.72 L235.27,198.30 L235.93,197.88 L236.60,197.48 L237.26,197.08 L237.93,196.71 L238.59,196.34 L239.25,196.00 L239.92,195.68 L240.58,195.37 L241.25,195.10 L241.91,194.85 L242.58,194.63 L243.24,194.43 L243.91,194.25 L244.57,194.06 L245.23,193.88 L245.90,193.70 L246.56,193.53 L247.23,193.36 L247.89,193.20 L248.56,193.05 L249.22,192.90 L249.88,192.77 L250.55,192.65 L251.21,192.54 L251.88,192.44 L252.54,192.36 L253.21,192.29 L253.87,192.24 L254.54,192.21 L255.20,192.20" fill="none" stroke="#21325a" stroke-width="1.85" stroke-linecap="round" stroke-dasharray="0.01 3.7"/>
<path d="M216.00,216.50 L216.66,216.82 L217.33,217.16 L217.99,217.51 L218.66,217.89 L219.32,218.29 L219.99,218.70 L220.65,219.13 L221.32,219.57 L221.98,220.03 L222.64,220.50 L223.31,220.98 L223.97,221.48 L224.64,222.01 L225.30,222.59 L225.97,223.22 L226.63,223.88 L227.29,224.56 L227.96,225.25 L228.62,225.94 L229.29,226.62 L229.95,227.28 L230.62,227.91 L231.28,228.50 L231.95,229.04 L232.61,229.54 L233.27,230.05 L233.94,230.55 L234.60,231.05 L235.27,231.54 L235.93,232.02 L236.60,232.49 L237.26,232.94 L237.93,233.38 L238.59,233.80 L239.25,234.20 L239.92,234.58 L240.58,234.94 L241.25,235.27 L241.91,235.57 L242.58,235.84 L243.24,236.09 L243.91,236.32 L244.57,236.55 L245.23,236.78 L245.90,237.00 L246.56,237.22 L247.23,237.43 L247.89,237.63 L248.56,237.83 L249.22,238.01 L249.88,238.18 L250.55,238.34 L251.21,238.48 L251.88,238.61 L252.54,238.72 L253.21,238.82 L253.87,238.90 L254.54,238.96 L255.20,239.00" fill="none" stroke="#21325a" stroke-width="1.85" stroke-linecap="round" stroke-dasharray="0.01 3.7"/>
<rect x="39.6" y="65.6" width="215.6" height="202.1" fill="none" stroke="#000" stroke-width="1.5"/>
<line x1="34" y1="267.8" x2="39.6" y2="267.8" stroke="#000" stroke-width="1.3"/>
<line x1="34" y1="238.9" x2="39.6" y2="238.9" stroke="#000" stroke-width="1.3"/>
<line x1="34" y1="210.0" x2="39.6" y2="210.0" stroke="#000" stroke-width="1.3"/>
<line x1="34" y1="181.2" x2="39.6" y2="181.2" stroke="#000" stroke-width="1.3"/>
<line x1="34" y1="152.3" x2="39.6" y2="152.3" stroke="#000" stroke-width="1.3"/>
<line x1="34" y1="123.4" x2="39.6" y2="123.4" stroke="#000" stroke-width="1.3"/>
<line x1="34" y1="94.6" x2="39.6" y2="94.6" stroke="#000" stroke-width="1.3"/>
<line x1="34" y1="65.7" x2="39.6" y2="65.7" stroke="#000" stroke-width="1.3"/>
<line x1="355.9" y1="83.6" x2="355.9" y2="209.6" stroke="#e6e6e6" stroke-width="1"/>
<line x1="401.3" y1="83.6" x2="401.3" y2="209.6" stroke="#e6e6e6" stroke-width="1"/>
<line x1="446.8" y1="83.6" x2="446.8" y2="209.6" stroke="#e6e6e6" stroke-width="1"/>
<line x1="492.2" y1="83.6" x2="492.2" y2="209.6" stroke="#e6e6e6" stroke-width="1"/>
<line x1="310.5" y1="184.4" x2="537.6" y2="184.4" stroke="#e6e6e6" stroke-width="1"/>
<line x1="310.5" y1="159.2" x2="537.6" y2="159.2" stroke="#e6e6e6" stroke-width="1"/>
<line x1="310.5" y1="134.0" x2="537.6" y2="134.0" stroke="#e6e6e6" stroke-width="1"/>
<line x1="310.5" y1="108.8" x2="537.6" y2="108.8" stroke="#e6e6e6" stroke-width="1"/>
<path d="M310.50,197.00 L310.63,197.00 L310.75,197.00 L310.88,184.49 L311.00,180.66 L311.13,179.04 L311.25,187.51 L311.38,177.25 L311.50,176.94 L311.63,150.92 L311.75,160.76 L311.88,160.27 L312.00,160.20 L312.13,162.22 L312.25,163.11 L312.38,159.26 L312.50,156.57 L312.63,163.47 L312.75,160.56 L312.88,167.41 L313.00,165.59 L313.13,156.62 L313.25,160.59 L313.38,165.63 L313.50,163.64 L313.63,158.44 L313.75,149.60 L313.88,160.00 L314.00,161.25 L314.13,156.70 L314.25,166.31 L314.38,162.75 L314.50,156.43 L314.63,157.59 L314.75,159.59 L314.88,156.08 L315.00,171.80 L315.13,150.04 L315.25,157.63 L315.38,161.73 L315.50,155.40 L315.63,157.03 L315.76,164.82 L315.88,167.81 L316.01,160.35 L316.13,158.35 L316.26,150.35 L316.38,154.84 L316.51,159.31 L316.63,155.47 L316.76,161.88 L316.88,165.67 L317.01,159.11 L317.13,160.13 L317.26,164.33 L317.38,165.66 L317.51,157.31 L317.63,167.08 L317.76,149.54 L317.88,151.42 L318.01,163.80 L318.13,156.13 L318.26,161.12 L318.38,152.99 L318.51,166.94 L318.63,160.14 L318.76,150.28 L318.88,147.40 L319.01,164.35 L319.13,156.93 L319.26,153.23 L319.38,157.68 L319.51,146.10 L319.63,159.09 L319.76,151.23 L319.88,158.08 L320.01,145.56 L320.13,152.33 L320.26,154.34 L320.38,161.34 L320.51,144.44 L320.64,148.33 L320.76,147.05 L320.89,144.18 L321.01,149.02 L321.14,156.83 L321.26,160.76 L321.39,162.84 L321.51,153.51 L321.64,168.40 L321.76,163.93 L321.89,161.02 L322.01,156.17 L322.14,152.50 L322.26,160.15 L322.39,161.73 L322.51,152.66 L322.64,146.10 L322.76,148.37 L322.89,152.59 L323.01,158.31 L323.14,158.43 L323.26,162.52 L323.39,156.61 L323.51,162.45 L323.64,155.58 L323.76,155.85 L323.89,153.39 L324.01,156.21 L324.14,145.33 L324.26,150.62 L324.39,150.58 L324.51,167.69 L324.64,158.41 L324.76,158.33 L324.89,150.79 L325.01,162.68 L325.14,144.41 L325.26,144.83 L325.39,156.60 L325.51,154.16 L325.64,151.81 L325.77,146.80 L325.89,144.17 L326.02,138.17 L326.14,150.57 L326.27,147.43 L326.39,151.60 L326.52,143.64 L326.64,148.05 L326.77,144.98 L326.89,157.88 L327.02,153.88 L327.14,155.76 L327.27,142.13 L327.39,144.84 L327.52,149.03 L327.64,148.31 L327.77,141.08 L327.89,145.93 L328.02,149.37 L328.14,146.29 L328.27,139.20 L328.39,153.02 L328.52,153.99 L328.64,156.90 L328.77,158.02 L328.89,149.24 L329.02,147.82 L329.14,151.57 L329.27,149.53 L329.39,151.18 L329.52,152.70 L329.64,162.38 L329.77,156.72 L329.89,151.26 L330.02,152.57 L330.14,149.77 L330.27,152.38 L330.39,151.80 L330.52,147.16 L330.64,153.24 L330.77,150.97 L330.90,145.55 L331.02,146.71 L331.15,142.19 L331.27,160.96 L331.40,145.88 L331.52,152.44 L331.65,150.31 L331.77,147.92 L331.90,147.23 L332.02,147.35 L332.15,151.12 L332.27,143.13 L332.40,151.92 L332.52,150.88 L332.65,145.72 L332.77,151.96 L332.90,138.30 L333.02,143.03 L333.15,135.55 L333.27,145.07 L333.40,146.81 L333.52,144.82 L333.65,142.62 L333.77,149.60 L333.90,145.44 L334.02,148.36 L334.15,141.91 L334.27,155.42 L334.40,148.67 L334.52,156.72 L334.65,156.22 L334.77,152.48 L334.90,152.83 L335.02,144.88 L335.15,139.77 L335.27,143.81 L335.40,141.43 L335.52,136.26 L335.65,143.13 L335.78,144.47 L335.90,148.35 L336.03,156.29 L336.15,144.85 L336.28,156.18 L336.40,142.43 L336.53,143.59 L336.65,135.30 L336.78,138.37 L336.90,140.57 L337.03,135.19 L337.15,141.02 L337.28,139.95 L337.40,139.03 L337.53,139.92 L337.65,140.42 L337.78,144.23 L337.90,142.03 L338.03,152.41 L338.15,142.40 L338.28,146.28 L338.40,133.34 L338.53,131.68 L338.65,147.54 L338.78,138.13 L338.90,141.21 L339.03,147.27 L339.15,140.07 L339.28,145.08 L339.40,151.56 L339.53,143.94 L339.65,143.06 L339.78,141.64 L339.90,148.34 L340.03,139.91 L340.15,140.36 L340.28,150.13 L340.40,147.41 L340.53,144.25 L340.65,147.01 L340.78,136.29 L340.91,144.18 L341.03,149.76 L341.16,147.78 L341.28,143.87 L341.41,133.16 L341.53,146.71 L341.66,145.86 L341.78,143.83 L341.91,146.71 L342.03,136.90 L342.16,154.02 L342.28,150.66 L342.41,154.38 L342.53,150.97 L342.66,157.75 L342.78,140.61 L342.91,147.07 L343.03,143.54 L343.16,146.12 L343.28,143.88 L343.41,137.34 L343.53,136.03 L343.66,138.81 L343.78,139.25 L343.91,145.31 L344.03,152.12 L344.16,150.16 L344.28,152.05 L344.41,155.45 L344.53,150.55 L344.66,146.08 L344.78,149.55 L344.91,151.96 L345.03,147.70 L345.16,143.64 L345.28,155.18 L345.41,154.29 L345.53,153.41 L345.66,145.70 L345.78,159.90 L345.91,148.22 L346.04,143.94 L346.16,153.77 L346.29,141.62 L346.41,145.19 L346.54,149.96 L346.66,145.76 L346.79,152.89 L346.91,146.04 L347.04,133.04 L347.16,146.79 L347.29,134.28 L347.41,144.18 L347.54,137.76 L347.66,140.17 L347.79,149.50 L347.91,141.29 L348.04,139.46 L348.16,148.19 L348.29,150.20 L348.41,141.68 L348.54,146.39 L348.66,152.02 L348.79,148.12 L348.91,141.11 L349.04,146.98 L349.16,138.01 L349.29,132.88 L349.41,139.39 L349.54,145.73 L349.66,146.72 L349.79,138.80 L349.91,132.35 L350.04,135.11 L350.16,135.02 L350.29,141.12 L350.41,137.63 L350.54,141.34 L350.66,141.95 L350.79,149.85 L350.92,154.24 L351.04,149.26 L351.17,149.26 L351.29,143.42 L351.42,131.11 L351.54,133.60 L351.67,119.89 L351.79,131.29 L351.92,139.59 L352.04,132.83 L352.17,135.25 L352.29,140.36 L352.42,130.98 L352.54,140.19 L352.67,152.74 L352.79,135.98 L352.92,145.12 L353.04,136.04 L353.17,146.76 L353.29,148.28 L353.42,132.60 L353.54,142.98 L353.67,134.76 L353.79,128.31 L353.92,136.36 L354.04,139.36 L354.17,139.80 L354.29,137.33 L354.42,147.67 L354.54,143.42 L354.67,145.32 L354.79,136.84 L354.92,149.23 L355.04,151.10 L355.17,142.29 L355.29,147.72 L355.42,144.34 L355.54,144.74 L355.67,138.50 L355.79,145.72 L355.92,141.29 L356.05,152.65 L356.17,144.17 L356.30,132.05 L356.42,143.38 L356.55,144.65 L356.67,148.06 L356.80,138.41 L356.92,138.55 L357.05,144.01 L357.17,134.72 L357.30,137.32 L357.42,135.80 L357.55,143.50 L357.67,131.97 L357.80,138.24 L357.92,140.28 L358.05,141.03 L358.17,137.87 L358.30,131.73 L358.42,139.24 L358.55,136.46 L358.67,142.35 L358.80,139.32 L358.92,140.04 L359.05,142.08 L359.17,149.98 L359.30,137.67 L359.42,132.61 L359.55,133.21 L359.67,130.45 L359.80,136.22 L359.92,137.11 L360.05,140.97 L360.17,130.04 L360.30,136.36 L360.42,140.51 L360.55,145.97 L360.67,140.97 L360.80,132.37 L360.92,135.37 L361.05,140.55 L361.18,131.56 L361.30,134.26 L361.43,138.47 L361.55,139.78 L361.68,136.43 L361.80,136.42 L361.93,132.09 L362.05,138.00 L362.18,126.80 L362.30,133.98 L362.43,125.68 L362.55,145.94 L362.68,133.00 L362.80,132.83 L362.93,140.08 L363.05,135.91 L363.18,134.34 L363.30,136.18 L363.43,143.03 L363.55,141.43 L363.68,135.01 L363.80,133.20 L363.93,139.38 L364.05,140.20 L364.18,139.85 L364.30,135.39 L364.43,145.27 L364.55,147.13 L364.68,142.25 L364.80,151.58 L364.93,151.11 L365.05,147.56 L365.18,143.76 L365.30,149.10 L365.43,137.75 L365.55,149.35 L365.68,137.99 L365.80,148.64 L365.93,146.20 L366.06,135.33 L366.18,139.92 L366.31,141.96 L366.43,140.03 L366.56,134.60 L366.68,136.03 L366.81,135.23 L366.93,130.00 L367.06,139.99 L367.18,140.83 L367.31,142.55 L367.43,134.41 L367.56,135.47 L367.68,135.07 L367.81,142.68 L367.93,143.41 L368.06,137.61 L368.18,142.14 L368.31,133.77 L368.43,132.31 L368.56,139.11 L368.68,138.04 L368.81,141.12 L368.93,134.01 L369.06,130.11 L369.18,142.38 L369.31,140.73 L369.43,151.91 L369.56,140.18 L369.68,141.75 L369.81,147.11 L369.93,137.77 L370.06,149.15 L370.18,142.62 L370.31,141.91 L370.43,149.94 L370.56,139.29 L370.68,136.44 L370.81,146.07 L370.93,144.50 L371.06,134.94 L371.19,140.14 L371.31,147.42 L371.44,142.26 L371.56,139.33 L371.69,137.69 L371.81,132.50 L371.94,135.73 L372.06,130.19 L372.19,132.88 L372.31,136.69 L372.44,134.84 L372.56,133.63 L372.69,137.44 L372.81,148.75 L372.94,140.03 L373.06,144.26 L373.19,135.94 L373.31,142.57 L373.44,140.15 L373.56,142.09 L373.69,137.33 L373.81,146.72 L373.94,150.21 L374.06,147.44 L374.19,150.15 L374.31,145.91 L374.44,145.20 L374.56,141.73 L374.69,131.84 L374.81,142.97 L374.94,141.47 L375.06,143.18 L375.19,138.20 L375.31,145.34 L375.44,140.84 L375.56,137.30 L375.69,136.18 L375.81,141.60 L375.94,145.90 L376.06,148.87 L376.19,141.97 L376.32,136.43 L376.44,141.08 L376.57,140.65 L376.69,137.46 L376.82,142.48 L376.94,138.68 L377.07,138.29 L377.19,135.01 L377.32,136.04 L377.44,141.96 L377.57,131.09 L377.69,128.89 L377.82,138.66 L377.94,135.00 L378.07,135.01 L378.19,132.44 L378.32,145.18 L378.44,132.95 L378.57,146.30 L378.69,138.63 L378.82,142.30 L378.94,140.94 L379.07,137.20 L379.19,132.38 L379.32,143.51 L379.44,143.56 L379.57,145.22 L379.69,151.31 L379.82,135.34 L379.94,136.25 L380.07,135.98 L380.19,128.81 L380.32,140.95 L380.44,139.80 L380.57,133.96 L380.69,139.97 L380.82,156.90 L380.94,161.61 L381.07,147.91 L381.20,135.07 L381.32,141.85 L381.45,141.84 L381.57,139.43 L381.70,146.88 L381.82,139.87 L381.95,135.30 L382.07,136.40 L382.20,137.64 L382.32,144.08 L382.45,139.67 L382.57,144.46 L382.70,135.50 L382.82,129.42 L382.95,147.05 L383.07,155.85 L383.20,148.24 L383.32,144.23 L383.45,139.88 L383.57,137.60 L383.70,144.26 L383.82,143.42 L383.95,134.65 L384.07,148.35 L384.20,139.06 L384.32,146.47 L384.45,141.41 L384.57,140.32 L384.70,138.57 L384.82,137.95 L384.95,147.15 L385.07,140.79 L385.20,141.60 L385.32,139.29 L385.45,133.90 L385.57,140.64 L385.70,142.69 L385.82,143.71 L385.95,143.43 L386.07,140.13 L386.20,149.96 L386.33,142.50 L386.45,148.34 L386.58,150.43 L386.70,153.50 L386.83,142.34 L386.95,136.25 L387.08,144.82 L387.20,128.78 L387.33,127.78 L387.45,136.13 L387.58,135.97 L387.70,125.74 L387.83,130.24 L387.95,139.60 L388.08,135.14 L388.20,137.12 L388.33,139.06 L388.45,151.33 L388.58,135.55 L388.70,140.90 L388.83,136.02 L388.95,137.63 L389.08,132.58 L389.20,137.73 L389.33,140.10 L389.45,134.13 L389.58,129.95 L389.70,137.26 L389.83,126.60 L389.95,129.82 L390.08,132.75 L390.20,123.18 L390.33,135.85 L390.45,126.89 L390.58,133.77 L390.70,129.45 L390.83,139.36 L390.95,138.87 L391.08,129.53 L391.20,132.17 L391.33,130.37 L391.46,130.91 L391.58,126.34 L391.71,136.67 L391.83,136.80 L391.96,132.67 L392.08,135.91 L392.21,135.43 L392.33,132.98 L392.46,133.85 L392.58,134.78 L392.71,126.53 L392.83,131.08 L392.96,130.31 L393.08,135.31 L393.21,135.51 L393.33,138.09 L393.46,131.33 L393.58,139.42 L393.71,132.11 L393.83,125.98 L393.96,121.54 L394.08,122.97 L394.21,129.80 L394.33,122.69 L394.46,130.92 L394.58,125.87 L394.71,133.17 L394.83,130.65 L394.96,123.84 L395.08,132.29 L395.21,124.08 L395.33,133.09 L395.46,134.87 L395.58,127.16 L395.71,126.78 L395.83,139.88 L395.96,137.13 L396.08,142.56 L396.21,133.81 L396.34,127.56 L396.46,133.19 L396.59,136.15 L396.71,139.47 L396.84,129.17 L396.96,126.34 L397.09,128.33 L397.21,132.13 L397.34,141.25 L397.46,126.19 L397.59,133.79 L397.71,132.28 L397.84,126.22 L397.96,139.53 L398.09,128.51 L398.21,128.24 L398.34,125.44 L398.46,120.61 L398.59,124.20 L398.71,133.65 L398.84,124.25 L398.96,121.24 L399.09,123.43 L399.21,133.20 L399.34,136.89 L399.46,126.24 L399.59,126.29 L399.71,126.37 L399.84,133.10 L399.96,115.04 L400.09,138.33 L400.21,126.32 L400.34,114.68 L400.46,126.23 L400.59,124.23 L400.71,130.34 L400.84,116.62 L400.96,128.38 L401.09,119.28 L401.21,119.31 L401.34,126.74 L401.47,120.26 L401.59,133.63 L401.72,129.54 L401.84,124.31 L401.97,124.22 L402.09,119.14 L402.22,118.49 L402.34,128.25 L402.47,133.11 L402.59,134.18 L402.72,132.30 L402.84,125.49 L402.97,131.38 L403.09,129.94 L403.22,133.01 L403.34,136.14 L403.47,127.03 L403.59,135.98 L403.72,130.10 L403.84,122.25 L403.97,135.98 L404.09,133.10 L404.22,142.21 L404.34,136.93 L404.47,141.27 L404.59,135.60 L404.72,136.68 L404.84,133.08 L404.97,124.76 L405.09,129.26 L405.22,125.31 L405.34,128.12 L405.47,130.26 L405.59,133.95 L405.72,137.30 L405.84,126.13 L405.97,118.96 L406.09,127.97 L406.22,136.27 L406.34,126.40 L406.47,135.64 L406.60,135.04 L406.72,136.52 L406.85,134.16 L406.97,130.52 L407.10,120.24 L407.22,131.68 L407.35,135.29 L407.47,131.95 L407.60,128.61 L407.72,134.76 L407.85,124.84 L407.97,121.19 L408.10,122.25 L408.22,120.93 L408.35,131.81 L408.47,135.92 L408.60,122.63 L408.72,124.08 L408.85,136.92 L408.97,128.13 L409.10,129.25 L409.22,126.79 L409.35,128.22 L409.47,131.64 L409.60,128.27 L409.72,128.34 L409.85,129.08 L409.97,137.55 L410.10,142.95 L410.22,133.09 L410.35,139.51 L410.47,131.83 L410.60,129.27 L410.72,129.88 L410.85,131.16 L410.97,127.66 L411.10,121.52 L411.22,130.32 L411.35,121.73 L411.48,123.03 L411.60,126.00 L411.73,120.64 L411.85,131.95 L411.98,125.38 L412.10,136.97 L412.23,137.59 L412.35,138.23 L412.48,128.27 L412.60,132.86 L412.73,127.49 L412.85,134.43 L412.98,125.19 L413.10,123.01 L413.23,131.93 L413.35,124.67 L413.48,129.05 L413.60,120.58 L413.73,130.72 L413.85,138.17 L413.98,121.33 L414.10,127.91 L414.23,131.92 L414.35,129.83 L414.48,134.56 L414.60,128.30 L414.73,134.58 L414.85,123.60 L414.98,128.79 L415.10,141.21 L415.23,141.15 L415.35,136.63 L415.48,143.19 L415.60,134.56 L415.73,135.06 L415.85,138.86 L415.98,136.56 L416.10,129.25 L416.23,122.87 L416.35,122.58 L416.48,132.30 L416.61,131.61 L416.73,141.43 L416.86,135.58 L416.98,141.57 L417.11,133.62 L417.23,144.90 L417.36,144.65 L417.48,138.99 L417.61,133.25 L417.73,140.02 L417.86,134.16 L417.98,131.22 L418.11,132.07 L418.23,138.45 L418.36,133.57 L418.48,133.95 L418.61,124.39 L418.73,127.81 L418.86,136.62 L418.98,140.91 L419.11,130.31 L419.23,126.96 L419.36,135.24 L419.48,135.15 L419.61,143.42 L419.73,146.92 L419.86,134.89 L419.98,136.99 L420.11,133.07 L420.23,141.94 L420.36,133.14 L420.48,136.25 L420.61,128.38 L420.73,135.29 L420.86,136.57 L420.98,137.59 L421.11,128.54 L421.23,133.94 L421.36,137.41 L421.48,139.08 L421.61,140.08 L421.74,128.56 L421.86,144.90 L421.99,139.00 L422.11,129.51 L422.24,124.60 L422.36,129.54 L422.49,124.17 L422.61,124.19 L422.74,123.31 L422.86,128.89 L422.99,122.94 L423.11,132.20 L423.24,126.50 L423.36,138.91 L423.49,127.84 L423.61,138.41 L423.74,140.43 L423.86,132.09 L423.99,140.20 L424.11,135.13 L424.24,143.28 L424.36,129.83 L424.49,137.09 L424.61,142.48 L424.74,136.33 L424.86,133.48 L424.99,141.76 L425.11,133.72 L425.24,122.89 L425.36,125.93 L425.49,129.69 L425.61,133.49 L425.74,128.41 L425.86,137.99 L425.99,144.95 L426.11,134.70 L426.24,139.64 L426.36,127.55 L426.49,135.06 L426.62,138.51 L426.74,136.10 L426.87,123.81 L426.99,127.35 L427.12,126.01 L427.24,125.53 L427.37,126.10 L427.49,126.06 L427.62,125.91 L427.74,121.74 L427.87,123.24 L427.99,142.92 L428.12,122.75 L428.24,133.61 L428.37,126.99 L428.49,137.09 L428.62,133.00 L428.74,134.27 L428.87,134.21 L428.99,129.13 L429.12,129.39 L429.24,138.08 L429.37,135.29 L429.49,132.86 L429.62,133.96 L429.74,138.19 L429.87,135.85 L429.99,133.60 L430.12,138.12 L430.24,140.28 L430.37,128.54 L430.49,141.03 L430.62,140.42 L430.74,144.53 L430.87,133.27 L430.99,130.22 L431.12,140.33 L431.24,138.12 L431.37,146.10 L431.49,134.82 L431.62,138.85 L431.75,146.11 L431.87,134.39 L432.00,138.86 L432.12,139.21 L432.25,138.31 L432.37,140.10 L432.50,136.10 L432.62,128.64 L432.75,132.43 L432.87,139.71 L433.00,129.00 L433.12,142.50 L433.25,143.72 L433.37,142.51 L433.50,134.66 L433.62,133.54 L433.75,137.67 L433.87,134.76 L434.00,146.45 L434.12,141.30 L434.25,142.93 L434.37,141.96 L434.50,140.37 L434.62,152.64 L434.75,125.87 L434.87,143.52 L435.00,135.20 L435.12,130.74 L435.25,129.09 L435.37,131.59 L435.50,147.99 L435.62,140.25 L435.75,131.52 L435.87,139.24 L436.00,138.94 L436.12,144.50 L436.25,126.47 L436.37,129.92 L436.50,136.89 L436.62,133.89 L436.75,135.75 L436.88,143.37 L437.00,141.34 L437.13,139.88 L437.25,138.30 L437.38,133.18 L437.50,136.82 L437.63,137.52 L437.75,133.50 L437.88,140.48 L438.00,145.52 L438.13,134.28 L438.25,140.38 L438.38,135.26 L438.50,130.73 L438.63,139.68 L438.75,133.16 L438.88,135.61 L439.00,136.94 L439.13,130.93 L439.25,133.40 L439.38,138.66 L439.50,127.93 L439.63,130.32 L439.75,121.91 L439.88,126.32 L440.00,132.26 L440.13,132.00 L440.25,128.59 L440.38,132.46 L440.50,137.94 L440.63,138.29 L440.75,142.45 L440.88,142.84 L441.00,139.82 L441.13,142.17 L441.25,137.95 L441.38,143.80 L441.50,147.37 L441.63,149.06 L441.76,143.11 L441.88,132.84 L442.01,131.00 L442.13,138.83 L442.26,138.55 L442.38,125.06 L442.51,127.15 L442.63,138.37 L442.76,128.52 L442.88,134.05 L443.01,129.34 L443.13,136.30 L443.26,136.78 L443.38,142.13 L443.51,148.57 L443.63,142.76 L443.76,142.25 L443.88,133.68 L444.01,143.44 L444.13,147.36 L444.26,136.57 L444.38,132.55 L444.51,128.21 L444.63,127.97 L444.76,141.32 L444.88,139.72 L445.01,141.31 L445.13,139.82 L445.26,150.59 L445.38,139.59 L445.51,137.09 L445.63,142.36 L445.76,137.59 L445.88,133.40 L446.01,139.33 L446.13,133.50 L446.26,132.37 L446.38,133.53 L446.51,131.19 L446.63,132.88 L446.76,124.76 L446.89,134.68 L447.01,137.09 L447.14,130.22 L447.26,137.00 L447.39,131.88 L447.51,130.44 L447.64,137.62 L447.76,139.47 L447.89,135.34 L448.01,133.55 L448.14,141.95 L448.26,140.08 L448.39,128.58 L448.51,135.22 L448.64,148.63 L448.76,145.85 L448.89,139.92 L449.01,145.10 L449.14,137.04 L449.26,137.28 L449.39,133.41 L449.51,140.31 L449.64,131.43 L449.76,126.46 L449.89,142.58 L450.01,133.72 L450.14,135.47 L450.26,137.48 L450.39,142.30 L450.51,147.76 L450.64,143.22 L450.76,130.79 L450.89,127.97 L451.01,128.78 L451.14,134.06 L451.26,137.51 L451.39,144.32 L451.51,145.74 L451.64,136.40 L451.76,133.81 L451.89,134.68 L452.02,140.93 L452.14,135.17 L452.27,140.77 L452.39,134.44 L452.52,141.37 L452.64,136.78 L452.77,133.70 L452.89,134.48 L453.02,128.50 L453.14,140.30 L453.27,145.11 L453.39,130.19 L453.52,129.30 L453.64,129.72 L453.77,134.90 L453.89,133.62 L454.02,136.70 L454.14,144.84 L454.27,141.35 L454.39,134.36 L454.52,136.61 L454.64,121.43 L454.77,136.73 L454.89,130.80 L455.02,123.63 L455.14,132.63 L455.27,134.86 L455.39,135.12 L455.52,132.40 L455.64,124.07 L455.77,133.27 L455.89,135.37 L456.02,141.29 L456.14,134.65 L456.27,138.39 L456.39,142.89 L456.52,139.01 L456.64,133.88 L456.77,127.27 L456.90,132.03 L457.02,129.76 L457.15,124.49 L457.27,140.07 L457.40,141.83 L457.52,129.57 L457.65,131.94 L457.77,135.49 L457.90,135.16 L458.02,139.58 L458.15,136.76 L458.27,142.27 L458.40,137.53 L458.52,146.65 L458.65,142.94 L458.77,136.39 L458.90,137.53 L459.02,129.65 L459.15,131.97 L459.27,135.34 L459.40,133.90 L459.52,139.42 L459.65,145.36 L459.77,143.52 L459.90,141.94 L460.02,140.78 L460.15,139.49 L460.27,137.61 L460.40,140.77 L460.52,134.90 L460.65,137.05 L460.77,143.16 L460.90,131.72 L461.02,131.77 L461.15,139.09 L461.27,135.28 L461.40,130.75 L461.52,134.23 L461.65,130.78 L461.77,135.26 L461.90,135.45 L462.03,142.36 L462.15,140.89 L462.28,145.63 L462.40,139.62 L462.53,149.03 L462.65,136.83 L462.78,130.75 L462.90,132.75 L463.03,134.59 L463.15,131.20 L463.28,138.12 L463.40,138.61 L463.53,137.26 L463.65,137.71 L463.78,134.27 L463.90,145.58 L464.03,137.21 L464.15,149.58 L464.28,145.14 L464.40,140.75 L464.53,133.40 L464.65,140.81 L464.78,148.69 L464.90,137.76 L465.03,141.36 L465.15,146.25 L465.28,144.41 L465.40,141.19 L465.53,136.78 L465.65,134.16 L465.78,145.20 L465.90,127.43 L466.03,140.01 L466.15,142.30 L466.28,136.61 L466.40,137.33 L466.53,122.67 L466.65,124.62 L466.78,129.36 L466.90,130.27 L467.03,134.37 L467.16,137.95 L467.28,136.53 L467.41,145.51 L467.53,135.26 L467.66,142.11 L467.78,138.56 L467.91,128.70 L468.03,140.07 L468.16,134.11 L468.28,127.79 L468.41,132.68 L468.53,133.69 L468.66,131.06 L468.78,135.37 L468.91,133.91 L469.03,140.85 L469.16,143.19 L469.28,126.36 L469.41,136.69 L469.53,136.88 L469.66,128.56 L469.78,132.03 L469.91,141.06 L470.03,141.50 L470.16,138.71 L470.28,141.38 L470.41,131.09 L470.53,129.41 L470.66,126.70 L470.78,123.63 L470.91,126.65 L471.03,124.55 L471.16,127.56 L471.28,142.15 L471.41,127.30 L471.53,136.91 L471.66,139.29 L471.78,129.71 L471.91,138.06 L472.04,137.52 L472.16,130.66 L472.29,137.93 L472.41,137.92 L472.54,131.25 L472.66,126.18 L472.79,129.23 L472.91,140.12 L473.04,137.13 L473.16,136.36 L473.29,127.57 L473.41,133.52 L473.54,133.42 L473.66,130.32 L473.79,136.24 L473.91,131.48 L474.04,130.84 L474.16,136.78 L474.29,130.43 L474.41,126.92 L474.54,135.70 L474.66,127.86 L474.79,129.91 L474.91,130.01 L475.04,139.32 L475.16,134.37 L475.29,127.26 L475.41,131.13 L475.54,140.42 L475.66,136.66 L475.79,130.97 L475.91,137.68 L476.04,134.47 L476.16,123.04 L476.29,135.52 L476.41,135.12 L476.54,138.30 L476.66,135.51 L476.79,125.08 L476.91,134.79 L477.04,141.85 L477.17,141.07 L477.29,136.05 L477.42,133.06 L477.54,143.12 L477.67,138.65 L477.79,145.37 L477.92,139.53 L478.04,135.68 L478.17,132.30 L478.29,135.37 L478.42,132.82 L478.54,128.93 L478.67,138.16 L478.79,131.93 L478.92,130.96 L479.04,127.91 L479.17,131.97 L479.29,131.75 L479.42,130.35 L479.54,135.54 L479.67,133.33 L479.79,130.18 L479.92,131.52 L480.04,139.99 L480.17,138.36 L480.29,147.75 L480.42,132.32 L480.54,137.46 L480.67,133.53 L480.79,141.76 L480.92,138.59 L481.04,136.18 L481.17,132.30 L481.29,143.18 L481.42,133.10 L481.54,139.33 L481.67,142.92 L481.79,136.38 L481.92,139.18 L482.04,138.28 L482.17,140.16 L482.30,135.97 L482.42,137.22 L482.55,138.69 L482.67,143.57 L482.80,143.25 L482.92,141.39 L483.05,139.69 L483.17,147.53 L483.30,139.98 L483.42,145.10 L483.55,147.77 L483.67,136.91 L483.80,143.55 L483.92,136.53 L484.05,133.55 L484.17,140.94 L484.30,139.97 L484.42,126.47 L484.55,136.35 L484.67,135.94 L484.80,134.00 L484.92,139.15 L485.05,139.28 L485.17,135.87 L485.30,147.65 L485.42,127.94 L485.55,141.29 L485.67,143.18 L485.80,136.10 L485.92,138.44 L486.05,144.13 L486.17,136.18 L486.30,142.15 L486.42,139.59 L486.55,143.85 L486.67,141.32 L486.80,135.69 L486.92,136.02 L487.05,132.67 L487.18,127.29 L487.30,131.07 L487.43,134.07 L487.55,132.13 L487.68,122.26 L487.80,129.82 L487.93,128.38 L488.05,130.88 L488.18,130.07 L488.30,130.61 L488.43,134.74 L488.55,136.99 L488.68,139.83 L488.80,138.21 L488.93,130.42 L489.05,128.90 L489.18,129.39 L489.30,135.41 L489.43,141.27 L489.55,133.90 L489.68,131.02 L489.80,137.12 L489.93,122.53 L490.05,122.80 L490.18,118.65 L490.30,134.52 L490.43,137.21 L490.55,128.09 L490.68,141.18 L490.80,135.76 L490.93,136.02 L491.05,132.71 L491.18,134.83 L491.30,127.07 L491.43,123.97 L491.55,129.58 L491.68,131.07 L491.80,135.80 L491.93,128.44 L492.05,135.10 L492.18,133.55 L492.31,145.54 L492.43,134.83 L492.56,141.67 L492.68,134.38 L492.81,134.74 L492.93,140.73 L493.06,134.36 L493.18,129.59 L493.31,131.88 L493.43,129.56 L493.56,134.88 L493.68,132.87 L493.81,134.52 L493.93,128.20 L494.06,123.47 L494.18,128.94 L494.31,133.86 L494.43,142.10 L494.56,136.37 L494.68,141.06 L494.81,150.37 L494.93,150.43 L495.06,144.09 L495.18,146.32 L495.31,132.06 L495.43,137.60 L495.56,140.44 L495.68,135.53 L495.81,124.09 L495.93,137.78 L496.06,133.04 L496.18,138.87 L496.31,136.57 L496.43,142.67 L496.56,148.36 L496.68,144.16 L496.81,144.79 L496.93,136.30 L497.06,136.69 L497.18,124.24 L497.31,135.82 L497.44,136.71 L497.56,145.20 L497.69,142.38 L497.81,141.79 L497.94,139.10 L498.06,133.74 L498.19,139.49 L498.31,139.95 L498.44,129.64 L498.56,136.27 L498.69,138.30 L498.81,129.70 L498.94,132.22 L499.06,150.27 L499.19,140.75 L499.31,136.12 L499.44,135.74 L499.56,141.64 L499.69,131.31 L499.81,143.63 L499.94,141.50 L500.06,139.20 L500.19,138.24 L500.31,132.18 L500.44,128.89 L500.56,132.24 L500.69,124.35 L500.81,134.88 L500.94,133.16 L501.06,123.97 L501.19,132.17 L501.31,127.63 L501.44,135.08 L501.56,134.67 L501.69,135.07 L501.81,135.09 L501.94,137.99 L502.06,135.25 L502.19,130.62 L502.32,127.16 L502.44,132.39 L502.57,130.03 L502.69,129.72 L502.82,141.16 L502.94,145.30 L503.07,130.42 L503.19,131.23 L503.32,135.84 L503.44,132.92 L503.57,138.33 L503.69,140.05 L503.82,131.41 L503.94,139.56 L504.07,126.68 L504.19,134.10 L504.32,130.57 L504.44,124.42 L504.57,125.17 L504.69,134.26 L504.82,125.52 L504.94,134.36 L505.07,131.13 L505.19,125.37 L505.32,120.27 L505.44,131.69 L505.57,128.89 L505.69,132.63 L505.82,139.02 L505.94,132.71 L506.07,125.47 L506.19,135.35 L506.32,133.92 L506.44,132.43 L506.57,139.43 L506.69,129.05 L506.82,126.91 L506.94,124.95 L507.07,125.03 L507.19,134.51 L507.32,137.96 L507.45,141.71 L507.57,143.40 L507.70,142.57 L507.82,132.53 L507.95,128.04 L508.07,136.20 L508.20,128.32 L508.32,139.33 L508.45,135.36 L508.57,138.67 L508.70,142.29 L508.82,135.21 L508.95,135.61 L509.07,136.61 L509.20,134.13 L509.32,133.42 L509.45,128.26 L509.57,132.18 L509.70,131.03 L509.82,141.27 L509.95,136.47 L510.07,134.97 L510.20,128.42 L510.32,126.15 L510.45,129.83 L510.57,136.01 L510.70,143.73 L510.82,135.65 L510.95,128.60 L511.07,126.98 L511.20,147.12 L511.32,137.82 L511.45,135.97 L511.57,140.33 L511.70,135.22 L511.82,135.87 L511.95,137.65 L512.07,134.26 L512.20,141.41 L512.32,138.70 L512.45,139.72 L512.58,132.69 L512.70,146.42 L512.83,139.48 L512.95,133.57 L513.08,136.87 L513.20,133.00 L513.33,141.09 L513.45,135.64 L513.58,132.26 L513.70,124.94 L513.83,132.79 L513.95,130.18 L514.08,137.31 L514.20,136.54 L514.33,129.99 L514.45,137.48 L514.58,136.50 L514.70,141.28 L514.83,133.08 L514.95,129.50 L515.08,143.81 L515.20,129.95 L515.33,136.69 L515.45,136.11 L515.58,138.59 L515.70,133.62 L515.83,141.27 L515.95,137.98 L516.08,137.79 L516.20,134.01 L516.33,133.37 L516.45,135.74 L516.58,136.62 L516.70,138.33 L516.83,140.84 L516.95,129.29 L517.08,132.43 L517.20,133.28 L517.33,127.74 L517.46,133.94 L517.58,132.57 L517.71,142.39 L517.83,128.15 L517.96,131.41 L518.08,135.10 L518.21,130.16 L518.33,138.43 L518.46,136.67 L518.58,123.68 L518.71,129.15 L518.83,129.43 L518.96,132.08 L519.08,132.95 L519.21,133.51 L519.33,120.46 L519.46,129.52 L519.58,124.02 L519.71,128.56 L519.83,129.63 L519.96,140.13 L520.08,137.65 L520.21,120.76 L520.33,121.36 L520.46,131.00 L520.58,129.17 L520.71,126.61 L520.83,135.64 L520.96,122.65 L521.08,135.76 L521.21,132.70 L521.33,142.81 L521.46,123.87 L521.58,133.75 L521.71,127.70 L521.83,141.45 L521.96,135.27 L522.08,136.92 L522.21,136.63 L522.33,127.79 L522.46,127.83 L522.59,134.04 L522.71,144.80 L522.84,139.34 L522.96,136.54 L523.09,139.09 L523.21,137.81 L523.34,137.16 L523.46,142.64 L523.59,135.53 L523.71,127.84 L523.84,140.41 L523.96,135.48 L524.09,132.64 L524.21,144.60 L524.34,139.23 L524.46,146.39 L524.59,139.56 L524.71,142.41 L524.84,139.32 L524.96,136.91 L525.09,136.28 L525.21,137.96 L525.34,151.59 L525.46,133.24 L525.59,141.50 L525.71,143.36 L525.84,139.56 L525.96,135.51 L526.09,144.10 L526.21,142.40 L526.34,141.15 L526.46,133.13 L526.59,137.55 L526.71,131.05 L526.84,130.74 L526.96,131.40 L527.09,122.86 L527.21,128.86 L527.34,136.66 L527.46,131.40 L527.59,132.49 L527.72,132.35 L527.84,130.95 L527.97,121.99 L528.09,134.70 L528.22,135.70 L528.34,140.37 L528.47,132.17 L528.59,136.53 L528.72,137.29 L528.84,138.10 L528.97,130.74 L529.09,132.30 L529.22,145.46 L529.34,139.96 L529.47,129.41 L529.59,124.09 L529.72,135.17 L529.84,132.10 L529.97,127.11 L530.09,134.22 L530.22,133.97 L530.34,134.54 L530.47,138.32 L530.59,131.69 L530.72,130.93 L530.84,139.98 L530.97,132.65 L531.09,127.62 L531.22,132.48 L531.34,129.24 L531.47,136.39 L531.59,126.05 L531.72,135.44 L531.84,120.96 L531.97,131.88 L532.09,133.58 L532.22,135.01 L532.34,132.09 L532.47,130.67 L532.60,129.97 L532.72,128.11 L532.85,124.91 L532.97,126.64" fill="none" stroke="#c43c40" stroke-width="0.55" stroke-opacity="0.85" stroke-linejoin="bevel"/>
<path d="M310.50,202.04 L310.63,202.04 L310.75,202.04 L310.88,193.22 L311.00,186.49 L311.13,187.33 L311.25,186.45 L311.38,184.21 L311.50,175.69 L311.63,170.32 L311.75,174.37 L311.88,179.74 L312.00,179.45 L312.13,169.73 L312.25,175.08 L312.38,182.50 L312.50,176.56 L312.63,182.49 L312.75,182.36 L312.88,182.56 L313.00,182.86 L313.13,177.08 L313.25,178.77 L313.38,179.56 L313.50,174.19 L313.63,172.04 L313.75,182.46 L313.88,178.29 L314.00,182.01 L314.13,178.42 L314.25,181.05 L314.38,174.03 L314.50,173.96 L314.63,176.71 L314.75,182.02 L314.88,180.98 L315.00,184.21 L315.13,184.99 L315.25,177.62 L315.38,181.34 L315.50,171.51 L315.63,173.18 L315.76,183.93 L315.88,175.04 L316.01,180.39 L316.13,175.59 L316.26,174.68 L316.38,181.46 L316.51,173.93 L316.63,174.92 L316.76,172.16 L316.88,182.18 L317.01,174.96 L317.13,181.81 L317.26,178.54 L317.38,180.46 L317.51,170.97 L317.63,173.39 L317.76,165.29 L317.88,172.92 L318.01,174.14 L318.13,176.44 L318.26,183.37 L318.38,181.13 L318.51,174.92 L318.63,181.71 L318.76,180.12 L318.88,182.10 L319.01,180.63 L319.13,184.56 L319.26,182.60 L319.38,179.45 L319.51,178.93 L319.63,182.14 L319.76,174.29 L319.88,181.46 L320.01,179.69 L320.13,179.32 L320.26,170.54 L320.38,176.26 L320.51,179.44 L320.64,181.04 L320.76,175.43 L320.89,180.75 L321.01,180.46 L321.14,172.00 L321.26,178.82 L321.39,176.41 L321.51,177.08 L321.64,179.85 L321.76,177.81 L321.89,171.38 L322.01,178.25 L322.14,181.30 L322.26,184.09 L322.39,178.18 L322.51,178.63 L322.64,175.32 L322.76,177.40 L322.89,177.43 L323.01,178.38 L323.14,176.85 L323.26,173.35 L323.39,175.48 L323.51,174.56 L323.64,168.91 L323.76,175.54 L323.89,183.75 L324.01,170.51 L324.14,176.18 L324.26,181.94 L324.39,174.94 L324.51,177.58 L324.64,178.68 L324.76,178.28 L324.89,180.83 L325.01,178.53 L325.14,175.62 L325.26,181.18 L325.39,177.54 L325.51,170.48 L325.64,181.03 L325.77,174.17 L325.89,176.68 L326.02,181.14 L326.14,182.24 L326.27,177.79 L326.39,173.91 L326.52,175.19 L326.64,171.18 L326.77,168.32 L326.89,171.29 L327.02,171.14 L327.14,174.59 L327.27,175.71 L327.39,171.13 L327.52,175.99 L327.64,177.50 L327.77,174.23 L327.89,178.90 L328.02,174.38 L328.14,168.29 L328.27,168.67 L328.39,165.44 L328.52,171.75 L328.64,178.06 L328.77,165.52 L328.89,169.50 L329.02,178.18 L329.14,168.29 L329.27,172.09 L329.39,176.84 L329.52,169.50 L329.64,170.18 L329.77,164.15 L329.89,175.92 L330.02,174.78 L330.14,173.77 L330.27,172.05 L330.39,172.96 L330.52,168.83 L330.64,166.38 L330.77,168.78 L330.90,174.85 L331.02,175.21 L331.15,169.69 L331.27,172.48 L331.40,171.68 L331.52,175.50 L331.65,161.12 L331.77,164.99 L331.90,172.56 L332.02,166.37 L332.15,166.73 L332.27,182.93 L332.40,175.49 L332.52,173.51 L332.65,168.41 L332.77,171.10 L332.90,171.43 L333.02,170.75 L333.15,163.34 L333.27,162.33 L333.40,173.11 L333.52,174.67 L333.65,159.94 L333.77,173.90 L333.90,172.83 L334.02,172.23 L334.15,172.59 L334.27,171.50 L334.40,173.67 L334.52,177.38 L334.65,170.34 L334.77,170.35 L334.90,164.22 L335.02,172.54 L335.15,178.50 L335.27,178.13 L335.40,168.99 L335.52,176.55 L335.65,181.29 L335.78,173.91 L335.90,171.53 L336.03,168.00 L336.15,177.83 L336.28,171.61 L336.40,171.01 L336.53,176.74 L336.65,174.46 L336.78,166.18 L336.90,165.74 L337.03,169.09 L337.15,172.08 L337.28,170.46 L337.40,176.80 L337.53,177.22 L337.65,180.43 L337.78,176.79 L337.90,175.76 L338.03,161.90 L338.15,170.85 L338.28,163.65 L338.40,163.74 L338.53,171.32 L338.65,168.01 L338.78,182.28 L338.90,172.71 L339.03,167.58 L339.15,177.79 L339.28,170.63 L339.40,160.39 L339.53,165.63 L339.65,170.73 L339.78,170.17 L339.90,172.64 L340.03,169.22 L340.15,171.80 L340.28,175.37 L340.40,175.98 L340.53,171.74 L340.65,164.68 L340.78,167.14 L340.91,164.59 L341.03,166.36 L341.16,169.63 L341.28,166.62 L341.41,161.62 L341.53,164.84 L341.66,169.77 L341.78,173.56 L341.91,168.09 L342.03,171.16 L342.16,172.28 L342.28,173.42 L342.41,172.16 L342.53,172.54 L342.66,169.40 L342.78,168.72 L342.91,167.04 L343.03,169.87 L343.16,174.95 L343.28,173.73 L343.41,171.24 L343.53,174.24 L343.66,171.06 L343.78,169.46 L343.91,178.06 L344.03,182.14 L344.16,170.12 L344.28,174.74 L344.41,172.93 L344.53,181.70 L344.66,168.91 L344.78,170.95 L344.91,172.96 L345.03,173.74 L345.16,172.43 L345.28,173.92 L345.41,174.43 L345.53,177.47 L345.66,167.37 L345.78,171.35 L345.91,169.74 L346.04,168.80 L346.16,178.21 L346.29,167.21 L346.41,170.96 L346.54,170.89 L346.66,169.32 L346.79,172.83 L346.91,164.58 L347.04,169.60 L347.16,170.41 L347.29,171.75 L347.41,169.99 L347.54,169.25 L347.66,175.40 L347.79,180.37 L347.91,172.02 L348.04,180.84 L348.16,170.69 L348.29,174.22 L348.41,176.37 L348.54,176.06 L348.66,171.20 L348.79,169.24 L348.91,174.49 L349.04,171.96 L349.16,169.45 L349.29,179.53 L349.41,182.58 L349.54,179.76 L349.66,178.25 L349.79,174.00 L349.91,175.18 L350.04,179.18 L350.16,172.65 L350.29,184.93 L350.41,179.78 L350.54,166.33 L350.66,168.49 L350.79,167.61 L350.92,165.44 L351.04,159.80 L351.17,166.02 L351.29,169.79 L351.42,176.31 L351.54,172.26 L351.67,175.04 L351.79,175.21 L351.92,175.25 L352.04,172.01 L352.17,172.28 L352.29,166.93 L352.42,175.13 L352.54,170.12 L352.67,161.72 L352.79,169.01 L352.92,165.64 L353.04,167.80 L353.17,168.34 L353.29,170.23 L353.42,177.39 L353.54,172.45 L353.67,172.95 L353.79,177.81 L353.92,174.37 L354.04,178.74 L354.17,181.17 L354.29,173.59 L354.42,173.50 L354.54,174.63 L354.67,174.97 L354.79,173.81 L354.92,173.94 L355.04,173.79 L355.17,171.35 L355.29,171.78 L355.42,167.95 L355.54,167.43 L355.67,168.71 L355.79,173.89 L355.92,175.21 L356.05,172.31 L356.17,174.91 L356.30,173.17 L356.42,181.06 L356.55,179.95 L356.67,166.11 L356.80,165.11 L356.92,161.45 L357.05,165.64 L357.17,169.06 L357.30,170.22 L357.42,174.43 L357.55,162.57 L357.67,165.90 L357.80,160.08 L357.92,160.49 L358.05,159.98 L358.17,158.29 L358.30,165.38 L358.42,166.30 L358.55,168.07 L358.67,165.27 L358.80,156.83 L358.92,165.43 L359.05,160.62 L359.17,163.43 L359.30,165.25 L359.42,166.47 L359.55,174.74 L359.67,169.48 L359.80,163.80 L359.92,170.92 L360.05,166.54 L360.17,168.55 L360.30,165.52 L360.42,172.06 L360.55,161.30 L360.67,167.69 L360.80,170.76 L360.92,156.77 L361.05,159.51 L361.18,160.95 L361.30,160.99 L361.43,165.41 L361.55,166.70 L361.68,165.38 L361.80,166.72 L361.93,167.85 L362.05,171.15 L362.18,173.94 L362.30,173.03 L362.43,168.76 L362.55,168.76 L362.68,176.19 L362.80,175.30 L362.93,165.99 L363.05,166.65 L363.18,168.11 L363.30,179.41 L363.43,178.42 L363.55,178.80 L363.68,173.75 L363.80,179.83 L363.93,168.93 L364.05,173.68 L364.18,172.34 L364.30,176.75 L364.43,170.83 L364.55,165.46 L364.68,177.61 L364.80,170.68 L364.93,168.87 L365.05,174.05 L365.18,168.40 L365.30,172.91 L365.43,165.32 L365.55,166.04 L365.68,166.71 L365.80,161.07 L365.93,167.30 L366.06,165.93 L366.18,175.33 L366.31,172.70 L366.43,167.05 L366.56,168.00 L366.68,173.46 L366.81,171.33 L366.93,179.02 L367.06,173.89 L367.18,178.27 L367.31,170.92 L367.43,173.09 L367.56,173.46 L367.68,170.62 L367.81,162.76 L367.93,172.55 L368.06,170.53 L368.18,164.49 L368.31,170.69 L368.43,162.07 L368.56,168.73 L368.68,170.31 L368.81,169.27 L368.93,161.96 L369.06,163.67 L369.18,162.68 L369.31,163.71 L369.43,172.13 L369.56,171.66 L369.68,164.59 L369.81,168.31 L369.93,169.06 L370.06,167.32 L370.18,171.46 L370.31,168.62 L370.43,174.34 L370.56,169.47 L370.68,173.25 L370.81,170.23 L370.93,166.54 L371.06,169.20 L371.19,165.58 L371.31,166.28 L371.44,166.04 L371.56,161.56 L371.69,172.09 L371.81,172.50 L371.94,164.48 L372.06,164.41 L372.19,161.10 L372.31,166.23 L372.44,165.81 L372.56,172.65 L372.69,166.57 L372.81,166.84 L372.94,172.67 L373.06,170.28 L373.19,165.30 L373.31,162.54 L373.44,174.90 L373.56,163.21 L373.69,163.47 L373.81,166.67 L373.94,165.88 L374.06,164.13 L374.19,167.57 L374.31,160.26 L374.44,162.53 L374.56,165.27 L374.69,160.69 L374.81,156.50 L374.94,170.26 L375.06,173.53 L375.19,175.24 L375.31,161.72 L375.44,170.51 L375.56,168.96 L375.69,170.46 L375.81,169.91 L375.94,174.25 L376.06,167.66 L376.19,170.48 L376.32,181.23 L376.44,177.37 L376.57,175.49 L376.69,173.19 L376.82,173.51 L376.94,170.80 L377.07,169.48 L377.19,169.82 L377.32,168.18 L377.44,177.76 L377.57,175.23 L377.69,168.91 L377.82,173.48 L377.94,175.81 L378.07,183.30 L378.19,180.71 L378.32,168.67 L378.44,169.89 L378.57,172.78 L378.69,173.00 L378.82,177.08 L378.94,167.62 L379.07,164.72 L379.19,163.25 L379.32,171.16 L379.44,173.74 L379.57,178.12 L379.69,168.76 L379.82,165.70 L379.94,173.32 L380.07,168.32 L380.19,167.84 L380.32,169.38 L380.44,175.93 L380.57,166.50 L380.69,161.83 L380.82,169.67 L380.94,167.86 L381.07,178.78 L381.20,162.83 L381.32,168.10 L381.45,171.45 L381.57,173.58 L381.70,175.55 L381.82,172.95 L381.95,171.74 L382.07,168.26 L382.20,164.66 L382.32,162.66 L382.45,157.00 L382.57,169.83 L382.70,164.95 L382.82,170.37 L382.95,173.58 L383.07,178.62 L383.20,166.26 L383.32,170.95 L383.45,167.85 L383.57,161.22 L383.70,166.75 L383.82,163.04 L383.95,164.19 L384.07,160.61 L384.20,159.34 L384.32,167.55 L384.45,163.01 L384.57,169.68 L384.70,170.01 L384.82,170.62 L384.95,165.12 L385.07,171.65 L385.20,165.11 L385.32,160.46 L385.45,164.38 L385.57,153.40 L385.70,163.21 L385.82,159.42 L385.95,163.03 L386.07,165.55 L386.20,170.24 L386.33,170.04 L386.45,168.47 L386.58,170.79 L386.70,164.09 L386.83,162.43 L386.95,175.21 L387.08,165.97 L387.20,168.05 L387.33,166.97 L387.45,157.17 L387.58,161.43 L387.70,164.90 L387.83,165.75 L387.95,174.81 L388.08,162.80 L388.20,168.48 L388.33,165.14 L388.45,166.40 L388.58,164.22 L388.70,160.74 L388.83,164.73 L388.95,163.10 L389.08,168.87 L389.20,166.19 L389.33,164.65 L389.45,172.73 L389.58,158.46 L389.70,168.54 L389.83,169.31 L389.95,156.17 L390.08,153.81 L390.20,166.54 L390.33,168.80 L390.45,155.59 L390.58,166.71 L390.70,173.25 L390.83,166.72 L390.95,156.48 L391.08,162.89 L391.20,164.68 L391.33,165.42 L391.46,169.55 L391.58,174.35 L391.71,179.39 L391.83,171.10 L391.96,176.46 L392.08,170.84 L392.21,161.99 L392.33,165.69 L392.46,167.91 L392.58,169.51 L392.71,168.40 L392.83,167.21 L392.96,173.22 L393.08,164.16 L393.21,157.09 L393.33,162.00 L393.46,169.35 L393.58,169.50 L393.71,175.18 L393.83,171.26 L393.96,163.60 L394.08,171.18 L394.21,173.50 L394.33,170.88 L394.46,168.55 L394.58,169.32 L394.71,171.05 L394.83,172.43 L394.96,165.84 L395.08,161.23 L395.21,169.05 L395.33,169.14 L395.46,162.72 L395.58,173.44 L395.71,170.24 L395.83,169.14 L395.96,165.89 L396.08,166.78 L396.21,169.80 L396.34,166.64 L396.46,173.48 L396.59,175.79 L396.71,177.37 L396.84,167.98 L396.96,179.36 L397.09,170.39 L397.21,166.48 L397.34,162.19 L397.46,163.79 L397.59,164.77 L397.71,162.94 L397.84,167.18 L397.96,171.96 L398.09,163.80 L398.21,173.38 L398.34,163.01 L398.46,167.50 L398.59,170.73 L398.71,167.07 L398.84,164.14 L398.96,174.81 L399.09,173.11 L399.21,172.61 L399.34,166.08 L399.46,163.84 L399.59,165.00 L399.71,168.09 L399.84,167.50 L399.96,161.32 L400.09,162.58 L400.21,167.60 L400.34,174.30 L400.46,167.20 L400.59,168.42 L400.71,168.22 L400.84,162.04 L400.96,165.20 L401.09,172.35 L401.21,173.42 L401.34,165.89 L401.47,171.85 L401.59,169.41 L401.72,172.38 L401.84,174.62 L401.97,169.71 L402.09,165.57 L402.22,170.52 L402.34,175.24 L402.47,171.06 L402.59,171.85 L402.72,170.03 L402.84,167.44 L402.97,163.49 L403.09,168.90 L403.22,169.14 L403.34,164.59 L403.47,162.68 L403.59,163.14 L403.72,161.06 L403.84,161.19 L403.97,165.75 L404.09,159.45 L404.22,164.73 L404.34,169.32 L404.47,164.42 L404.59,167.77 L404.72,158.70 L404.84,164.11 L404.97,165.69 L405.09,167.89 L405.22,165.41 L405.34,160.57 L405.47,167.90 L405.59,163.67 L405.72,175.39 L405.84,165.20 L405.97,160.69 L406.09,161.11 L406.22,162.37 L406.34,158.94 L406.47,166.77 L406.60,167.74 L406.72,163.91 L406.85,159.67 L406.97,162.42 L407.10,164.90 L407.22,163.84 L407.35,164.70 L407.47,172.19 L407.60,178.01 L407.72,170.17 L407.85,171.60 L407.97,167.89 L408.10,170.14 L408.22,168.78 L408.35,164.03 L408.47,165.61 L408.60,165.51 L408.72,157.24 L408.85,163.28 L408.97,160.66 L409.10,152.55 L409.22,161.61 L409.35,164.49 L409.47,153.80 L409.60,157.96 L409.72,157.30 L409.85,157.80 L409.97,157.24 L410.10,162.94 L410.22,161.46 L410.35,165.12 L410.47,159.63 L410.60,159.63 L410.72,163.87 L410.85,161.15 L410.97,152.85 L411.10,168.56 L411.22,159.98 L411.35,158.92 L411.48,158.03 L411.60,165.34 L411.73,158.19 L411.85,162.04 L411.98,167.36 L412.10,169.92 L412.23,167.83 L412.35,163.83 L412.48,162.18 L412.60,155.36 L412.73,165.29 L412.85,161.37 L412.98,165.80 L413.10,162.35 L413.23,166.90 L413.35,170.88 L413.48,173.14 L413.60,169.72 L413.73,165.40 L413.85,161.26 L413.98,164.94 L414.10,173.18 L414.23,170.30 L414.35,168.09 L414.48,169.12 L414.60,169.32 L414.73,167.35 L414.85,169.39 L414.98,171.50 L415.10,174.51 L415.23,167.18 L415.35,172.20 L415.48,165.84 L415.60,163.03 L415.73,168.74 L415.85,163.82 L415.98,165.16 L416.10,157.92 L416.23,165.65 L416.35,176.19 L416.48,167.44 L416.61,167.44 L416.73,169.44 L416.86,169.60 L416.98,165.36 L417.11,164.76 L417.23,165.35 L417.36,171.15 L417.48,169.22 L417.61,175.59 L417.73,175.81 L417.86,171.36 L417.98,171.49 L418.11,167.03 L418.23,154.96 L418.36,163.71 L418.48,170.67 L418.61,176.65 L418.73,171.67 L418.86,174.19 L418.98,177.82 L419.11,167.17 L419.23,172.47 L419.36,168.94 L419.48,158.17 L419.61,168.59 L419.73,168.46 L419.86,167.18 L419.98,170.15 L420.11,174.00 L420.23,173.49 L420.36,168.84 L420.48,173.15 L420.61,175.17 L420.73,172.61 L420.86,170.52 L420.98,166.01 L421.11,164.35 L421.23,164.92 L421.36,162.77 L421.48,168.71 L421.61,164.82 L421.74,166.60 L421.86,164.53 L421.99,174.45 L422.11,163.40 L422.24,175.81 L422.36,174.50 L422.49,166.13 L422.61,169.56 L422.74,160.56 L422.86,167.18 L422.99,172.68 L423.11,169.00 L423.24,171.75 L423.36,163.79 L423.49,162.77 L423.61,165.69 L423.74,169.66 L423.86,167.13 L423.99,163.11 L424.11,171.10 L424.24,172.12 L424.36,165.38 L424.49,163.63 L424.61,164.77 L424.74,163.52 L424.86,170.19 L424.99,158.56 L425.11,164.76 L425.24,171.60 L425.36,172.13 L425.49,171.86 L425.61,161.31 L425.74,165.20 L425.86,174.12 L425.99,162.85 L426.11,165.00 L426.24,172.76 L426.36,176.78 L426.49,161.35 L426.62,167.94 L426.74,167.54 L426.87,170.48 L426.99,163.96 L427.12,162.36 L427.24,163.85 L427.37,167.47 L427.49,166.89 L427.62,166.70 L427.74,175.98 L427.87,164.91 L427.99,170.57 L428.12,167.30 L428.24,165.93 L428.37,160.14 L428.49,156.97 L428.62,151.53 L428.74,162.22 L428.87,165.54 L428.99,162.17 L429.12,165.42 L429.24,160.06 L429.37,168.47 L429.49,167.16 L429.62,165.45 L429.74,165.53 L429.87,168.99 L429.99,164.68 L430.12,164.83 L430.24,175.02 L430.37,164.92 L430.49,164.17 L430.62,165.48 L430.74,167.24 L430.87,166.00 L430.99,166.81 L431.12,169.42 L431.24,166.87 L431.37,169.55 L431.49,176.67 L431.62,178.18 L431.75,172.61 L431.87,178.51 L432.00,173.27 L432.12,169.10 L432.25,164.40 L432.37,165.41 L432.50,161.91 L432.62,169.52 L432.75,164.68 L432.87,169.64 L433.00,166.60 L433.12,167.01 L433.25,170.59 L433.37,176.17 L433.50,161.20 L433.62,162.86 L433.75,163.91 L433.87,168.67 L434.00,169.33 L434.12,167.73 L434.25,169.31 L434.37,162.97 L434.50,164.63 L434.62,167.09 L434.75,162.26 L434.87,169.07 L435.00,167.21 L435.12,175.55 L435.25,169.43 L435.37,165.35 L435.50,169.76 L435.62,166.92 L435.75,163.56 L435.87,164.31 L436.00,157.04 L436.12,166.02 L436.25,167.13 L436.37,167.75 L436.50,174.92 L436.62,172.90 L436.75,163.90 L436.88,165.98 L437.00,158.49 L437.13,164.21 L437.25,164.37 L437.38,159.42 L437.50,162.96 L437.63,158.86 L437.75,169.74 L437.88,163.24 L438.00,161.68 L438.13,162.62 L438.25,161.31 L438.38,161.84 L438.50,164.52 L438.63,165.62 L438.75,159.28 L438.88,163.57 L439.00,161.30 L439.13,161.55 L439.25,167.67 L439.38,172.33 L439.50,168.49 L439.63,162.31 L439.75,165.02 L439.88,159.94 L440.00,166.43 L440.13,168.31 L440.25,172.87 L440.38,171.92 L440.50,168.14 L440.63,174.20 L440.75,174.03 L440.88,175.55 L441.00,169.17 L441.13,177.38 L441.25,172.29 L441.38,164.47 L441.50,161.88 L441.63,168.50 L441.76,163.39 L441.88,173.52 L442.01,161.01 L442.13,161.68 L442.26,167.70 L442.38,171.47 L442.51,168.89 L442.63,167.91 L442.76,168.40 L442.88,169.37 L443.01,166.00 L443.13,165.02 L443.26,172.40 L443.38,169.06 L443.51,171.11 L443.63,166.14 L443.76,171.95 L443.88,165.06 L444.01,167.87 L444.13,159.13 L444.26,169.19 L444.38,169.35 L444.51,169.71 L444.63,168.04 L444.76,157.69 L444.88,167.63 L445.01,168.33 L445.13,165.94 L445.26,162.96 L445.38,169.39 L445.51,161.81 L445.63,161.31 L445.76,164.65 L445.88,165.22 L446.01,167.84 L446.13,165.91 L446.26,167.46 L446.38,158.85 L446.51,157.07 L446.63,164.35 L446.76,162.88 L446.89,169.48 L447.01,163.65 L447.14,160.79 L447.26,162.82 L447.39,165.72 L447.51,164.96 L447.64,169.22 L447.76,171.05 L447.89,161.90 L448.01,174.40 L448.14,171.76 L448.26,172.13 L448.39,173.90 L448.51,174.37 L448.64,171.42 L448.76,172.36 L448.89,169.16 L449.01,166.36 L449.14,168.31 L449.26,167.36 L449.39,170.99 L449.51,171.69 L449.64,168.96 L449.76,165.09 L449.89,167.83 L450.01,165.05 L450.14,165.30 L450.26,165.01 L450.39,173.16 L450.51,166.21 L450.64,169.54 L450.76,165.31 L450.89,170.67 L451.01,170.34 L451.14,171.22 L451.26,170.36 L451.39,178.46 L451.51,173.87 L451.64,173.16 L451.76,168.18 L451.89,173.44 L452.02,170.36 L452.14,164.58 L452.27,173.80 L452.39,166.97 L452.52,170.19 L452.64,166.89 L452.77,164.52 L452.89,163.71 L453.02,169.44 L453.14,170.40 L453.27,158.56 L453.39,162.10 L453.52,158.78 L453.64,158.24 L453.77,159.83 L453.89,165.45 L454.02,166.32 L454.14,172.17 L454.27,164.66 L454.39,166.11 L454.52,164.03 L454.64,157.36 L454.77,162.74 L454.89,165.12 L455.02,169.89 L455.14,161.34 L455.27,158.59 L455.39,168.47 L455.52,164.13 L455.64,167.75 L455.77,166.00 L455.89,166.48 L456.02,171.09 L456.14,166.93 L456.27,171.74 L456.39,160.89 L456.52,163.02 L456.64,167.33 L456.77,166.13 L456.90,165.94 L457.02,164.30 L457.15,163.89 L457.27,165.67 L457.40,165.68 L457.52,170.93 L457.65,170.97 L457.77,171.19 L457.90,169.25 L458.02,171.57 L458.15,162.46 L458.27,170.86 L458.40,172.07 L458.52,168.93 L458.65,166.09 L458.77,162.70 L458.90,166.29 L459.02,172.52 L459.15,170.62 L459.27,164.73 L459.40,166.00 L459.52,162.48 L459.65,165.63 L459.77,159.99 L459.90,161.37 L460.02,162.64 L460.15,166.10 L460.27,172.90 L460.40,171.97 L460.52,165.18 L460.65,162.65 L460.77,174.26 L460.90,163.03 L461.02,156.47 L461.15,158.33 L461.27,164.93 L461.40,160.57 L461.52,162.66 L461.65,164.16 L461.77,159.79 L461.90,159.60 L462.03,165.30 L462.15,166.50 L462.28,168.04 L462.40,169.10 L462.53,159.60 L462.65,158.92 L462.78,166.48 L462.90,163.36 L463.03,168.83 L463.15,164.82 L463.28,160.23 L463.40,162.87 L463.53,164.57 L463.65,169.94 L463.78,167.33 L463.90,162.13 L464.03,162.87 L464.15,162.14 L464.28,165.38 L464.40,164.53 L464.53,164.29 L464.65,163.44 L464.78,165.37 L464.90,166.96 L465.03,165.00 L465.15,160.51 L465.28,165.96 L465.40,170.24 L465.53,171.03 L465.65,165.90 L465.78,164.44 L465.90,161.86 L466.03,167.98 L466.15,161.59 L466.28,168.15 L466.40,167.22 L466.53,167.25 L466.65,161.76 L466.78,159.27 L466.90,163.59 L467.03,165.73 L467.16,170.05 L467.28,164.07 L467.41,166.60 L467.53,166.62 L467.66,168.67 L467.78,170.42 L467.91,170.51 L468.03,169.71 L468.16,170.05 L468.28,174.48 L468.41,171.56 L468.53,170.11 L468.66,166.21 L468.78,168.51 L468.91,159.02 L469.03,160.71 L469.16,159.30 L469.28,169.51 L469.41,168.22 L469.53,172.72 L469.66,168.39 L469.78,169.91 L469.91,166.81 L470.03,169.66 L470.16,166.16 L470.28,169.45 L470.41,163.69 L470.53,165.85 L470.66,166.51 L470.78,165.79 L470.91,166.07 L471.03,174.19 L471.16,176.28 L471.28,170.88 L471.41,171.19 L471.53,176.98 L471.66,174.00 L471.78,168.61 L471.91,162.32 L472.04,161.17 L472.16,157.79 L472.29,157.81 L472.41,154.30 L472.54,169.97 L472.66,165.61 L472.79,162.08 L472.91,171.48 L473.04,172.54 L473.16,166.66 L473.29,163.12 L473.41,162.07 L473.54,173.16 L473.66,170.93 L473.79,167.01 L473.91,168.83 L474.04,164.99 L474.16,164.78 L474.29,157.98 L474.41,164.48 L474.54,162.95 L474.66,163.13 L474.79,159.84 L474.91,169.72 L475.04,165.65 L475.16,171.20 L475.29,173.93 L475.41,163.48 L475.54,165.12 L475.66,161.11 L475.79,164.79 L475.91,162.33 L476.04,163.84 L476.16,162.80 L476.29,167.35 L476.41,159.34 L476.54,169.25 L476.66,160.00 L476.79,168.45 L476.91,165.15 L477.04,168.06 L477.17,167.00 L477.29,163.45 L477.42,168.38 L477.54,170.83 L477.67,164.00 L477.79,161.13 L477.92,173.24 L478.04,161.10 L478.17,161.43 L478.29,172.23 L478.42,165.37 L478.54,161.73 L478.67,170.44 L478.79,168.60 L478.92,168.57 L479.04,165.04 L479.17,162.56 L479.29,166.26 L479.42,165.33 L479.54,161.63 L479.67,162.49 L479.79,164.63 L479.92,159.82 L480.04,171.85 L480.17,166.73 L480.29,168.98 L480.42,168.86 L480.54,165.10 L480.67,163.89 L480.79,152.73 L480.92,158.96 L481.04,160.52 L481.17,156.31 L481.29,159.02 L481.42,170.07 L481.54,163.33 L481.67,163.22 L481.79,170.58 L481.92,167.50 L482.04,169.30 L482.17,164.93 L482.30,172.37 L482.42,173.75 L482.55,168.19 L482.67,164.81 L482.80,160.76 L482.92,168.52 L483.05,172.54 L483.17,167.33 L483.30,170.35 L483.42,161.96 L483.55,167.00 L483.67,171.61 L483.80,165.27 L483.92,165.85 L484.05,169.58 L484.17,170.01 L484.30,171.37 L484.42,169.28 L484.55,167.86 L484.67,161.26 L484.80,159.83 L484.92,161.25 L485.05,162.46 L485.17,171.66 L485.30,171.40 L485.42,168.05 L485.55,162.61 L485.67,168.00 L485.80,163.06 L485.92,160.57 L486.05,154.91 L486.17,163.11 L486.30,167.44 L486.42,161.51 L486.55,164.68 L486.67,166.44 L486.80,161.05 L486.92,168.87 L487.05,164.12 L487.18,164.05 L487.30,160.55 L487.43,168.61 L487.55,169.80 L487.68,167.61 L487.80,169.12 L487.93,169.85 L488.05,172.75 L488.18,169.93 L488.30,168.26 L488.43,168.35 L488.55,170.87 L488.68,160.03 L488.80,169.22 L488.93,163.56 L489.05,159.40 L489.18,166.20 L489.30,160.30 L489.43,159.12 L489.55,160.64 L489.68,164.30 L489.80,160.97 L489.93,165.57 L490.05,161.25 L490.18,161.62 L490.30,165.09 L490.43,167.07 L490.55,170.23 L490.68,178.98 L490.80,171.51 L490.93,171.90 L491.05,162.82 L491.18,164.80 L491.30,164.92 L491.43,160.76 L491.55,161.40 L491.68,163.51 L491.80,164.62 L491.93,169.32 L492.05,164.63 L492.18,160.65 L492.31,175.36 L492.43,171.92 L492.56,165.74 L492.68,169.37 L492.81,169.70 L492.93,178.55 L493.06,172.45 L493.18,166.56 L493.31,164.70 L493.43,165.34 L493.56,170.93 L493.68,166.64 L493.81,173.57 L493.93,171.80 L494.06,171.83 L494.18,160.71 L494.31,167.11 L494.43,165.34 L494.56,175.04 L494.68,162.67 L494.81,164.75 L494.93,172.42 L495.06,172.16 L495.18,159.84 L495.31,170.30 L495.43,158.72 L495.56,166.54 L495.68,173.81 L495.81,160.14 L495.93,163.38 L496.06,163.53 L496.18,169.04 L496.31,168.38 L496.43,163.29 L496.56,169.07 L496.68,172.79 L496.81,161.43 L496.93,167.44 L497.06,159.89 L497.18,166.30 L497.31,164.67 L497.44,161.89 L497.56,168.84 L497.69,155.29 L497.81,163.39 L497.94,162.27 L498.06,156.11 L498.19,162.45 L498.31,161.43 L498.44,165.99 L498.56,165.75 L498.69,167.52 L498.81,162.40 L498.94,165.19 L499.06,159.94 L499.19,162.66 L499.31,154.21 L499.44,166.98 L499.56,157.90 L499.69,158.60 L499.81,161.26 L499.94,165.68 L500.06,162.18 L500.19,158.23 L500.31,166.09 L500.44,169.03 L500.56,165.71 L500.69,166.26 L500.81,165.65 L500.94,166.92 L501.06,163.66 L501.19,170.54 L501.31,169.51 L501.44,169.15 L501.56,173.57 L501.69,171.85 L501.81,159.16 L501.94,168.53 L502.06,169.71 L502.19,172.70 L502.32,159.30 L502.44,165.02 L502.57,167.35 L502.69,156.36 L502.82,160.84 L502.94,172.99 L503.07,167.36 L503.19,162.63 L503.32,164.49 L503.44,172.78 L503.57,161.20 L503.69,160.94 L503.82,173.18 L503.94,176.21 L504.07,174.60 L504.19,165.97 L504.32,163.54 L504.44,165.83 L504.57,167.52 L504.69,165.38 L504.82,164.61 L504.94,173.78 L505.07,175.81 L505.19,166.97 L505.32,158.10 L505.44,159.41 L505.57,158.68 L505.69,163.10 L505.82,158.33 L505.94,169.84 L506.07,164.40 L506.19,167.49 L506.32,166.53 L506.44,169.90 L506.57,163.13 L506.69,165.52 L506.82,166.10 L506.94,160.27 L507.07,161.51 L507.19,162.91 L507.32,163.22 L507.45,158.30 L507.57,165.37 L507.70,162.10 L507.82,161.61 L507.95,159.63 L508.07,163.13 L508.20,155.51 L508.32,171.30 L508.45,161.13 L508.57,161.94 L508.70,155.75 L508.82,164.91 L508.95,152.76 L509.07,163.35 L509.20,156.97 L509.32,159.99 L509.45,163.60 L509.57,167.05 L509.70,167.05 L509.82,163.52 L509.95,167.24 L510.07,171.73 L510.20,170.09 L510.32,158.29 L510.45,156.60 L510.57,156.85 L510.70,158.72 L510.82,157.90 L510.95,157.65 L511.07,158.43 L511.20,162.44 L511.32,162.74 L511.45,165.48 L511.57,161.33 L511.70,166.26 L511.82,163.34 L511.95,158.45 L512.07,166.44 L512.20,162.05 L512.32,159.70 L512.45,172.31 L512.58,170.03 L512.70,162.11 L512.83,167.05 L512.95,163.11 L513.08,163.68 L513.20,170.08 L513.33,166.28 L513.45,162.79 L513.58,164.67 L513.70,170.79 L513.83,167.88 L513.95,170.10 L514.08,162.56 L514.20,169.58 L514.33,170.45 L514.45,165.54 L514.58,161.84 L514.70,164.30 L514.83,162.14 L514.95,163.10 L515.08,161.47 L515.20,161.78 L515.33,165.21 L515.45,168.59 L515.58,166.03 L515.70,172.30 L515.83,165.18 L515.95,167.24 L516.08,165.36 L516.20,173.06 L516.33,152.28 L516.45,155.40 L516.58,156.78 L516.70,162.61 L516.83,161.80 L516.95,153.58 L517.08,166.82 L517.20,160.80 L517.33,161.87 L517.46,164.18 L517.58,163.21 L517.71,168.03 L517.83,161.28 L517.96,168.67 L518.08,156.02 L518.21,160.19 L518.33,167.35 L518.46,172.72 L518.58,164.05 L518.71,162.71 L518.83,169.27 L518.96,158.69 L519.08,162.80 L519.21,163.76 L519.33,166.07 L519.46,160.52 L519.58,160.48 L519.71,156.68 L519.83,155.44 L519.96,161.09 L520.08,161.30 L520.21,158.59 L520.33,162.15 L520.46,165.68 L520.58,161.84 L520.71,165.54 L520.83,161.49 L520.96,164.29 L521.08,171.26 L521.21,166.96 L521.33,169.89 L521.46,166.46 L521.58,172.79 L521.71,161.60 L521.83,160.46 L521.96,166.29 L522.08,166.14 L522.21,166.76 L522.33,167.53 L522.46,163.63 L522.59,168.78 L522.71,169.60 L522.84,165.23 L522.96,156.60 L523.09,166.79 L523.21,171.68 L523.34,173.65 L523.46,170.19 L523.59,165.88 L523.71,172.83 L523.84,168.85 L523.96,168.56 L524.09,167.49 L524.21,168.20 L524.34,163.75 L524.46,164.47 L524.59,168.63 L524.71,155.04 L524.84,168.60 L524.96,168.59 L525.09,160.94 L525.21,166.21 L525.34,169.10 L525.46,167.62 L525.59,165.68 L525.71,170.02 L525.84,170.47 L525.96,170.89 L526.09,168.58 L526.21,167.22 L526.34,159.00 L526.46,162.22 L526.59,161.67 L526.71,167.01 L526.84,161.04 L526.96,170.23 L527.09,160.24 L527.21,157.74 L527.34,162.34 L527.46,164.48 L527.59,158.33 L527.72,162.50 L527.84,163.10 L527.97,160.75 L528.09,166.58 L528.22,163.44 L528.34,154.74 L528.47,164.13 L528.59,158.90 L528.72,166.96 L528.84,163.07 L528.97,164.90 L529.09,164.21 L529.22,159.65 L529.34,153.47 L529.47,162.60 L529.59,157.69 L529.72,161.78 L529.84,159.94 L529.97,164.07 L530.09,164.44 L530.22,162.13 L530.34,164.58 L530.47,162.39 L530.59,167.16 L530.72,162.39 L530.84,159.92 L530.97,151.79 L531.09,151.63 L531.22,157.14 L531.34,162.54 L531.47,159.49 L531.59,159.43 L531.72,163.60 L531.84,165.72 L531.97,168.23 L532.09,159.76 L532.22,150.79 L532.34,158.89 L532.47,157.19 L532.60,158.12 L532.72,158.29 L532.85,157.24 L532.97,167.32 L533.10,158.70 L533.22,156.16 L533.35,159.53 L533.47,157.31 L533.60,165.75 L533.72,160.76 L533.85,156.07 L533.97,162.73 L534.10,161.17 L534.22,162.40 L534.35,158.06 L534.47,168.91 L534.60,165.29 L534.72,160.10 L534.85,156.20 L534.97,159.14 L535.10,166.71 L535.22,158.73 L535.35,165.65 L535.47,169.06 L535.60,164.30 L535.72,160.46 L535.85,165.33 L535.97,171.61 L536.10,169.45 L536.22,168.64 L536.35,166.11 L536.47,173.57 L536.60,168.10 L536.72,173.56 L536.85,168.73 L536.97,174.72 L537.10,172.05 L537.22,177.13 L537.35,175.29 L537.47,176.75 L537.60,176.54" fill="none" stroke="#3a72ba" stroke-width="0.55" stroke-opacity="0.85" stroke-linejoin="bevel"/>
<rect x="310.5" y="83.6" width="227.1" height="126.0" fill="none" stroke="#404040" stroke-width="1.4"/>
<defs><radialGradient id="au2" cx="0.5" cy="0.5" r="0.5"><stop offset="0" stop-color="#fbe680"/><stop offset="0.55" stop-color="#efbd38"/><stop offset="1" stop-color="#c08a20"/></radialGradient><radialGradient id="au3" cx="0.5" cy="0.5" r="0.5"><stop offset="0" stop-color="#f0c850"/><stop offset="0.6" stop-color="#d89a20"/><stop offset="1" stop-color="#a06c10"/></radialGradient></defs>
<clipPath id="cl321"><rect x="321.5" y="8" width="85.0" height="70"/></clipPath>
<g clip-path="url(#cl321)" stroke="#d8b25c" stroke-width="0.85">
<line x1="321.5" y1="11.0" x2="406.5" y2="11.0"/>
<line x1="321.5" y1="18.1" x2="406.5" y2="18.1"/>
<line x1="321.5" y1="25.1" x2="406.5" y2="25.1"/>
<line x1="321.5" y1="32.2" x2="406.5" y2="32.2"/>
<line x1="321.5" y1="39.2" x2="406.5" y2="39.2"/>
<line x1="321.5" y1="46.3" x2="406.5" y2="46.3"/>
<line x1="321.5" y1="53.4" x2="406.5" y2="53.4"/>
<line x1="321.5" y1="60.4" x2="406.5" y2="60.4"/>
<line x1="321.5" y1="67.5" x2="406.5" y2="67.5"/>
<line x1="321.5" y1="74.5" x2="406.5" y2="74.5"/>
<line x1="228.50" y1="11.00" x2="265.18" y2="74.54"/>
<line x1="228.50" y1="11.00" x2="191.82" y2="74.54"/>
<line x1="236.65" y1="11.00" x2="273.32" y2="74.54"/>
<line x1="236.65" y1="11.00" x2="199.97" y2="74.54"/>
<line x1="244.80" y1="11.00" x2="281.48" y2="74.54"/>
<line x1="244.80" y1="11.00" x2="208.12" y2="74.54"/>
<line x1="252.95" y1="11.00" x2="289.62" y2="74.54"/>
<line x1="252.95" y1="11.00" x2="216.27" y2="74.54"/>
<line x1="261.10" y1="11.00" x2="297.78" y2="74.54"/>
<line x1="261.10" y1="11.00" x2="224.43" y2="74.54"/>
<line x1="269.25" y1="11.00" x2="305.93" y2="74.54"/>
<line x1="269.25" y1="11.00" x2="232.57" y2="74.54"/>
<line x1="277.40" y1="11.00" x2="314.07" y2="74.54"/>
<line x1="277.40" y1="11.00" x2="240.72" y2="74.54"/>
<line x1="285.55" y1="11.00" x2="322.23" y2="74.54"/>
<line x1="285.55" y1="11.00" x2="248.88" y2="74.54"/>
<line x1="293.70" y1="11.00" x2="330.38" y2="74.54"/>
<line x1="293.70" y1="11.00" x2="257.02" y2="74.54"/>
<line x1="301.85" y1="11.00" x2="338.53" y2="74.54"/>
<line x1="301.85" y1="11.00" x2="265.18" y2="74.54"/>
<line x1="310.00" y1="11.00" x2="346.68" y2="74.54"/>
<line x1="310.00" y1="11.00" x2="273.32" y2="74.54"/>
<line x1="318.15" y1="11.00" x2="354.83" y2="74.54"/>
<line x1="318.15" y1="11.00" x2="281.48" y2="74.54"/>
<line x1="326.30" y1="11.00" x2="362.98" y2="74.54"/>
<line x1="326.30" y1="11.00" x2="289.62" y2="74.54"/>
<line x1="334.45" y1="11.00" x2="371.12" y2="74.54"/>
<line x1="334.45" y1="11.00" x2="297.77" y2="74.54"/>
<line x1="342.60" y1="11.00" x2="379.28" y2="74.54"/>
<line x1="342.60" y1="11.00" x2="305.93" y2="74.54"/>
<line x1="350.75" y1="11.00" x2="387.43" y2="74.54"/>
<line x1="350.75" y1="11.00" x2="314.07" y2="74.54"/>
<line x1="358.90" y1="11.00" x2="395.58" y2="74.54"/>
<line x1="358.90" y1="11.00" x2="322.23" y2="74.54"/>
<line x1="367.05" y1="11.00" x2="403.73" y2="74.54"/>
<line x1="367.05" y1="11.00" x2="330.38" y2="74.54"/>
<line x1="375.20" y1="11.00" x2="411.88" y2="74.54"/>
<line x1="375.20" y1="11.00" x2="338.53" y2="74.54"/>
<line x1="383.35" y1="11.00" x2="420.03" y2="74.54"/>
<line x1="383.35" y1="11.00" x2="346.68" y2="74.54"/>
<line x1="391.50" y1="11.00" x2="428.18" y2="74.54"/>
<line x1="391.50" y1="11.00" x2="354.82" y2="74.54"/>
<line x1="399.65" y1="11.00" x2="436.33" y2="74.54"/>
<line x1="399.65" y1="11.00" x2="362.98" y2="74.54"/>
<line x1="407.80" y1="11.00" x2="444.48" y2="74.54"/>
<line x1="407.80" y1="11.00" x2="371.12" y2="74.54"/>
<line x1="415.95" y1="11.00" x2="452.63" y2="74.54"/>
<line x1="415.95" y1="11.00" x2="379.28" y2="74.54"/>
<line x1="424.10" y1="11.00" x2="460.78" y2="74.54"/>
<line x1="424.10" y1="11.00" x2="387.43" y2="74.54"/>
<line x1="432.25" y1="11.00" x2="468.93" y2="74.54"/>
<line x1="432.25" y1="11.00" x2="395.57" y2="74.54"/>
</g>
<circle cx="326.3" cy="11.0" r="1.65" fill="url(#au2)"/>
<circle cx="334.4" cy="11.0" r="1.65" fill="url(#au2)"/>
<circle cx="342.6" cy="11.0" r="1.65" fill="url(#au2)"/>
<circle cx="350.7" cy="11.0" r="1.65" fill="url(#au2)"/>
<circle cx="358.9" cy="11.0" r="1.65" fill="url(#au2)"/>
<circle cx="367.0" cy="11.0" r="1.65" fill="url(#au2)"/>
<circle cx="375.2" cy="11.0" r="1.65" fill="url(#au2)"/>
<circle cx="383.3" cy="11.0" r="1.65" fill="url(#au2)"/>
<circle cx="391.5" cy="11.0" r="1.65" fill="url(#au2)"/>
<circle cx="399.6" cy="11.0" r="1.65" fill="url(#au2)"/>
<circle cx="322.2" cy="18.1" r="1.65" fill="url(#au2)"/>
<circle cx="330.4" cy="18.1" r="1.65" fill="url(#au2)"/>
<circle cx="338.5" cy="18.1" r="1.65" fill="url(#au2)"/>
<circle cx="346.7" cy="18.1" r="1.65" fill="url(#au2)"/>
<circle cx="354.8" cy="18.1" r="1.65" fill="url(#au2)"/>
<circle cx="363.0" cy="18.1" r="1.65" fill="url(#au2)"/>
<circle cx="371.1" cy="18.1" r="1.65" fill="url(#au2)"/>
<circle cx="379.3" cy="18.1" r="1.65" fill="url(#au2)"/>
<circle cx="387.4" cy="18.1" r="1.65" fill="url(#au2)"/>
<circle cx="395.6" cy="18.1" r="1.65" fill="url(#au2)"/>
<circle cx="403.7" cy="18.1" r="1.65" fill="url(#au2)"/>
<circle cx="326.3" cy="25.1" r="1.65" fill="url(#au2)"/>
<circle cx="334.4" cy="25.1" r="1.65" fill="url(#au2)"/>
<circle cx="342.6" cy="25.1" r="1.65" fill="url(#au2)"/>
<circle cx="350.7" cy="25.1" r="1.65" fill="url(#au2)"/>
<circle cx="358.9" cy="25.1" r="1.65" fill="url(#au2)"/>
<circle cx="367.0" cy="25.1" r="1.65" fill="url(#au2)"/>
<circle cx="375.2" cy="25.1" r="1.65" fill="url(#au2)"/>
<circle cx="383.3" cy="25.1" r="1.65" fill="url(#au2)"/>
<circle cx="391.5" cy="25.1" r="1.65" fill="url(#au2)"/>
<circle cx="399.6" cy="25.1" r="1.65" fill="url(#au2)"/>
<circle cx="322.2" cy="32.2" r="1.65" fill="url(#au2)"/>
<circle cx="330.4" cy="32.2" r="1.65" fill="url(#au2)"/>
<circle cx="338.5" cy="32.2" r="1.65" fill="url(#au2)"/>
<circle cx="346.7" cy="32.2" r="1.65" fill="url(#au2)"/>
<circle cx="354.8" cy="32.2" r="1.65" fill="url(#au2)"/>
<circle cx="363.0" cy="32.2" r="1.65" fill="url(#au2)"/>
<circle cx="371.1" cy="32.2" r="1.65" fill="url(#au2)"/>
<circle cx="379.3" cy="32.2" r="1.65" fill="url(#au2)"/>
<circle cx="387.4" cy="32.2" r="1.65" fill="url(#au2)"/>
<circle cx="395.6" cy="32.2" r="1.65" fill="url(#au2)"/>
<circle cx="403.7" cy="32.2" r="1.65" fill="url(#au2)"/>
<circle cx="326.3" cy="39.2" r="1.65" fill="url(#au2)"/>
<circle cx="334.4" cy="39.2" r="1.65" fill="url(#au2)"/>
<circle cx="342.6" cy="39.2" r="1.65" fill="url(#au2)"/>
<circle cx="350.7" cy="39.2" r="1.65" fill="url(#au2)"/>
<circle cx="358.9" cy="39.2" r="1.65" fill="url(#au2)"/>
<circle cx="367.0" cy="39.2" r="1.65" fill="url(#au2)"/>
<circle cx="375.2" cy="39.2" r="1.65" fill="url(#au2)"/>
<circle cx="383.3" cy="39.2" r="1.65" fill="url(#au2)"/>
<circle cx="391.5" cy="39.2" r="1.65" fill="url(#au2)"/>
<circle cx="399.6" cy="39.2" r="1.65" fill="url(#au2)"/>
<circle cx="322.2" cy="46.3" r="1.65" fill="url(#au2)"/>
<circle cx="330.4" cy="46.3" r="1.65" fill="url(#au2)"/>
<circle cx="338.5" cy="46.3" r="1.65" fill="url(#au2)"/>
<circle cx="346.7" cy="46.3" r="1.65" fill="url(#au2)"/>
<circle cx="354.8" cy="46.3" r="1.65" fill="url(#au2)"/>
<circle cx="363.0" cy="46.3" r="1.65" fill="url(#au2)"/>
<circle cx="371.1" cy="46.3" r="1.65" fill="url(#au2)"/>
<circle cx="379.3" cy="46.3" r="1.65" fill="url(#au2)"/>
<circle cx="387.4" cy="46.3" r="1.65" fill="url(#au2)"/>
<circle cx="395.6" cy="46.3" r="1.65" fill="url(#au2)"/>
<circle cx="403.7" cy="46.3" r="1.65" fill="url(#au2)"/>
<circle cx="326.3" cy="53.4" r="1.65" fill="url(#au2)"/>
<circle cx="334.4" cy="53.4" r="1.65" fill="url(#au2)"/>
<circle cx="342.6" cy="53.4" r="1.65" fill="url(#au2)"/>
<circle cx="350.7" cy="53.4" r="1.65" fill="url(#au2)"/>
<circle cx="358.9" cy="53.4" r="1.65" fill="url(#au2)"/>
<circle cx="367.0" cy="53.4" r="1.65" fill="url(#au2)"/>
<circle cx="375.2" cy="53.4" r="1.65" fill="url(#au2)"/>
<circle cx="383.3" cy="53.4" r="1.65" fill="url(#au2)"/>
<circle cx="391.5" cy="53.4" r="1.65" fill="url(#au2)"/>
<circle cx="399.6" cy="53.4" r="1.65" fill="url(#au2)"/>
<circle cx="322.2" cy="60.4" r="1.65" fill="url(#au2)"/>
<circle cx="330.4" cy="60.4" r="1.65" fill="url(#au2)"/>
<circle cx="338.5" cy="60.4" r="1.65" fill="url(#au2)"/>
<circle cx="346.7" cy="60.4" r="1.65" fill="url(#au2)"/>
<circle cx="354.8" cy="60.4" r="1.65" fill="url(#au2)"/>
<circle cx="363.0" cy="60.4" r="1.65" fill="url(#au2)"/>
<circle cx="371.1" cy="60.4" r="1.65" fill="url(#au2)"/>
<circle cx="379.3" cy="60.4" r="1.65" fill="url(#au2)"/>
<circle cx="387.4" cy="60.4" r="1.65" fill="url(#au2)"/>
<circle cx="395.6" cy="60.4" r="1.65" fill="url(#au2)"/>
<circle cx="403.7" cy="60.4" r="1.65" fill="url(#au2)"/>
<circle cx="326.3" cy="67.5" r="1.65" fill="url(#au2)"/>
<circle cx="334.4" cy="67.5" r="1.65" fill="url(#au2)"/>
<circle cx="342.6" cy="67.5" r="1.65" fill="url(#au2)"/>
<circle cx="350.7" cy="67.5" r="1.65" fill="url(#au2)"/>
<circle cx="358.9" cy="67.5" r="1.65" fill="url(#au2)"/>
<circle cx="367.0" cy="67.5" r="1.65" fill="url(#au2)"/>
<circle cx="375.2" cy="67.5" r="1.65" fill="url(#au2)"/>
<circle cx="383.3" cy="67.5" r="1.65" fill="url(#au2)"/>
<circle cx="391.5" cy="67.5" r="1.65" fill="url(#au2)"/>
<circle cx="399.6" cy="67.5" r="1.65" fill="url(#au2)"/>
<circle cx="322.2" cy="74.5" r="1.65" fill="url(#au2)"/>
<circle cx="330.4" cy="74.5" r="1.65" fill="url(#au2)"/>
<circle cx="338.5" cy="74.5" r="1.65" fill="url(#au2)"/>
<circle cx="346.7" cy="74.5" r="1.65" fill="url(#au2)"/>
<circle cx="354.8" cy="74.5" r="1.65" fill="url(#au2)"/>
<circle cx="363.0" cy="74.5" r="1.65" fill="url(#au2)"/>
<circle cx="371.1" cy="74.5" r="1.65" fill="url(#au2)"/>
<circle cx="379.3" cy="74.5" r="1.65" fill="url(#au2)"/>
<circle cx="387.4" cy="74.5" r="1.65" fill="url(#au2)"/>
<circle cx="395.6" cy="74.5" r="1.65" fill="url(#au2)"/>
<circle cx="403.7" cy="74.5" r="1.65" fill="url(#au2)"/>
<line x1="410.7" y1="10" x2="410.7" y2="73" stroke="#d8aa40" stroke-width="1.6"/>
<circle cx="410.5" cy="10.5" r="2.5" fill="url(#au3)"/>
<circle cx="411.2" cy="14.0" r="2.0" fill="url(#au3)"/>
<circle cx="410.5" cy="17.6" r="2.5" fill="url(#au3)"/>
<circle cx="411.2" cy="21.1" r="2.0" fill="url(#au3)"/>
<circle cx="410.5" cy="24.6" r="2.5" fill="url(#au3)"/>
<circle cx="411.2" cy="28.1" r="2.0" fill="url(#au3)"/>
<circle cx="410.5" cy="31.7" r="2.5" fill="url(#au3)"/>
<circle cx="411.2" cy="35.2" r="2.0" fill="url(#au3)"/>
<circle cx="410.5" cy="38.7" r="2.5" fill="url(#au3)"/>
<circle cx="411.2" cy="42.3" r="2.0" fill="url(#au3)"/>
<circle cx="410.5" cy="45.8" r="2.5" fill="url(#au3)"/>
<circle cx="411.2" cy="49.3" r="2.0" fill="url(#au3)"/>
<circle cx="410.5" cy="52.9" r="2.5" fill="url(#au3)"/>
<circle cx="411.2" cy="56.4" r="2.0" fill="url(#au3)"/>
<circle cx="410.5" cy="59.9" r="2.5" fill="url(#au3)"/>
<circle cx="411.2" cy="63.4" r="2.0" fill="url(#au3)"/>
<circle cx="410.5" cy="67.0" r="2.5" fill="url(#au3)"/>
<circle cx="411.2" cy="70.5" r="2.0" fill="url(#au3)"/>
<circle cx="410.5" cy="74.0" r="2.5" fill="url(#au3)"/>
<rect x="337.9" y="17.4" width="57.5" height="57.2" fill="none" stroke="#2f4f8f" stroke-width="1.6"/>
<clipPath id="cl434"><rect x="434.5" y="8" width="84.0" height="70"/></clipPath>
<g clip-path="url(#cl434)" stroke="#d8b25c" stroke-width="0.85">
<line x1="434.5" y1="11.0" x2="518.5" y2="11.0"/>
<line x1="434.5" y1="18.1" x2="518.5" y2="18.1"/>
<line x1="434.5" y1="25.1" x2="518.5" y2="25.1"/>
<line x1="434.5" y1="32.2" x2="518.5" y2="32.2"/>
<line x1="434.5" y1="39.2" x2="518.5" y2="39.2"/>
<line x1="434.5" y1="46.3" x2="518.5" y2="46.3"/>
<line x1="434.5" y1="53.4" x2="518.5" y2="53.4"/>
<line x1="434.5" y1="60.4" x2="518.5" y2="60.4"/>
<line x1="434.5" y1="67.5" x2="518.5" y2="67.5"/>
<line x1="434.5" y1="74.5" x2="518.5" y2="74.5"/>
<line x1="338.20" y1="11.00" x2="374.88" y2="74.54"/>
<line x1="338.20" y1="11.00" x2="301.52" y2="74.54"/>
<line x1="346.35" y1="11.00" x2="383.03" y2="74.54"/>
<line x1="346.35" y1="11.00" x2="309.68" y2="74.54"/>
<line x1="354.50" y1="11.00" x2="391.18" y2="74.54"/>
<line x1="354.50" y1="11.00" x2="317.82" y2="74.54"/>
<line x1="362.65" y1="11.00" x2="399.32" y2="74.54"/>
<line x1="362.65" y1="11.00" x2="325.97" y2="74.54"/>
<line x1="370.80" y1="11.00" x2="407.48" y2="74.54"/>
<line x1="370.80" y1="11.00" x2="334.12" y2="74.54"/>
<line x1="378.95" y1="11.00" x2="415.62" y2="74.54"/>
<line x1="378.95" y1="11.00" x2="342.27" y2="74.54"/>
<line x1="387.10" y1="11.00" x2="423.78" y2="74.54"/>
<line x1="387.10" y1="11.00" x2="350.43" y2="74.54"/>
<line x1="395.25" y1="11.00" x2="431.93" y2="74.54"/>
<line x1="395.25" y1="11.00" x2="358.57" y2="74.54"/>
<line x1="403.40" y1="11.00" x2="440.07" y2="74.54"/>
<line x1="403.40" y1="11.00" x2="366.72" y2="74.54"/>
<line x1="411.55" y1="11.00" x2="448.23" y2="74.54"/>
<line x1="411.55" y1="11.00" x2="374.88" y2="74.54"/>
<line x1="419.70" y1="11.00" x2="456.38" y2="74.54"/>
<line x1="419.70" y1="11.00" x2="383.02" y2="74.54"/>
<line x1="427.85" y1="11.00" x2="464.53" y2="74.54"/>
<line x1="427.85" y1="11.00" x2="391.18" y2="74.54"/>
<line x1="436.00" y1="11.00" x2="472.68" y2="74.54"/>
<line x1="436.00" y1="11.00" x2="399.32" y2="74.54"/>
<line x1="444.15" y1="11.00" x2="480.82" y2="74.54"/>
<line x1="444.15" y1="11.00" x2="407.47" y2="74.54"/>
<line x1="452.30" y1="11.00" x2="488.98" y2="74.54"/>
<line x1="452.30" y1="11.00" x2="415.62" y2="74.54"/>
<line x1="460.45" y1="11.00" x2="497.12" y2="74.54"/>
<line x1="460.45" y1="11.00" x2="423.77" y2="74.54"/>
<line x1="468.60" y1="11.00" x2="505.28" y2="74.54"/>
<line x1="468.60" y1="11.00" x2="431.93" y2="74.54"/>
<line x1="476.75" y1="11.00" x2="513.42" y2="74.54"/>
<line x1="476.75" y1="11.00" x2="440.07" y2="74.54"/>
<line x1="484.90" y1="11.00" x2="521.57" y2="74.54"/>
<line x1="484.90" y1="11.00" x2="448.22" y2="74.54"/>
<line x1="493.05" y1="11.00" x2="529.73" y2="74.54"/>
<line x1="493.05" y1="11.00" x2="456.38" y2="74.54"/>
<line x1="501.20" y1="11.00" x2="537.88" y2="74.54"/>
<line x1="501.20" y1="11.00" x2="464.52" y2="74.54"/>
<line x1="509.35" y1="11.00" x2="546.02" y2="74.54"/>
<line x1="509.35" y1="11.00" x2="472.68" y2="74.54"/>
<line x1="517.50" y1="11.00" x2="554.17" y2="74.54"/>
<line x1="517.50" y1="11.00" x2="480.82" y2="74.54"/>
<line x1="525.65" y1="11.00" x2="562.32" y2="74.54"/>
<line x1="525.65" y1="11.00" x2="488.97" y2="74.54"/>
<line x1="533.80" y1="11.00" x2="570.47" y2="74.54"/>
<line x1="533.80" y1="11.00" x2="497.12" y2="74.54"/>
<line x1="541.95" y1="11.00" x2="578.62" y2="74.54"/>
<line x1="541.95" y1="11.00" x2="505.28" y2="74.54"/>
</g>
<circle cx="436.0" cy="11.0" r="1.65" fill="url(#au2)"/>
<circle cx="444.1" cy="11.0" r="1.65" fill="url(#au2)"/>
<circle cx="452.3" cy="11.0" r="1.65" fill="url(#au2)"/>
<circle cx="460.4" cy="11.0" r="1.65" fill="url(#au2)"/>
<circle cx="468.6" cy="11.0" r="1.65" fill="url(#au2)"/>
<circle cx="476.7" cy="11.0" r="1.65" fill="url(#au2)"/>
<circle cx="484.9" cy="11.0" r="1.65" fill="url(#au2)"/>
<circle cx="493.0" cy="11.0" r="1.65" fill="url(#au2)"/>
<circle cx="501.2" cy="11.0" r="1.65" fill="url(#au2)"/>
<circle cx="509.3" cy="11.0" r="1.65" fill="url(#au2)"/>
<circle cx="517.5" cy="11.0" r="1.65" fill="url(#au2)"/>
<circle cx="440.1" cy="18.1" r="1.65" fill="url(#au2)"/>
<circle cx="448.2" cy="18.1" r="1.65" fill="url(#au2)"/>
<circle cx="456.4" cy="18.1" r="1.65" fill="url(#au2)"/>
<circle cx="464.5" cy="18.1" r="1.65" fill="url(#au2)"/>
<circle cx="472.7" cy="18.1" r="1.65" fill="url(#au2)"/>
<circle cx="480.8" cy="18.1" r="1.65" fill="url(#au2)"/>
<circle cx="489.0" cy="18.1" r="1.65" fill="url(#au2)"/>
<circle cx="497.1" cy="18.1" r="1.65" fill="url(#au2)"/>
<circle cx="505.3" cy="18.1" r="1.65" fill="url(#au2)"/>
<circle cx="513.4" cy="18.1" r="1.65" fill="url(#au2)"/>
<circle cx="436.0" cy="25.1" r="1.65" fill="url(#au2)"/>
<circle cx="444.1" cy="25.1" r="1.65" fill="url(#au2)"/>
<circle cx="452.3" cy="25.1" r="1.65" fill="url(#au2)"/>
<circle cx="460.4" cy="25.1" r="1.65" fill="url(#au2)"/>
<circle cx="468.6" cy="25.1" r="1.65" fill="url(#au2)"/>
<circle cx="476.7" cy="25.1" r="1.65" fill="url(#au2)"/>
<circle cx="484.9" cy="25.1" r="1.65" fill="url(#au2)"/>
<circle cx="493.0" cy="25.1" r="1.65" fill="url(#au2)"/>
<circle cx="501.2" cy="25.1" r="1.65" fill="url(#au2)"/>
<circle cx="509.3" cy="25.1" r="1.65" fill="url(#au2)"/>
<circle cx="517.5" cy="25.1" r="1.65" fill="url(#au2)"/>
<circle cx="440.1" cy="32.2" r="1.65" fill="url(#au2)"/>
<circle cx="448.2" cy="32.2" r="1.65" fill="url(#au2)"/>
<circle cx="456.4" cy="32.2" r="1.65" fill="url(#au2)"/>
<circle cx="464.5" cy="32.2" r="1.65" fill="url(#au2)"/>
<circle cx="472.7" cy="32.2" r="1.65" fill="url(#au2)"/>
<circle cx="480.8" cy="32.2" r="1.65" fill="url(#au2)"/>
<circle cx="489.0" cy="32.2" r="1.65" fill="url(#au2)"/>
<circle cx="497.1" cy="32.2" r="1.65" fill="url(#au2)"/>
<circle cx="505.3" cy="32.2" r="1.65" fill="url(#au2)"/>
<circle cx="513.4" cy="32.2" r="1.65" fill="url(#au2)"/>
<circle cx="436.0" cy="39.2" r="1.65" fill="url(#au2)"/>
<circle cx="444.1" cy="39.2" r="1.65" fill="url(#au2)"/>
<circle cx="452.3" cy="39.2" r="1.65" fill="url(#au2)"/>
<circle cx="460.4" cy="39.2" r="1.65" fill="url(#au2)"/>
<circle cx="468.6" cy="39.2" r="1.65" fill="url(#au2)"/>
<circle cx="476.7" cy="39.2" r="1.65" fill="url(#au2)"/>
<circle cx="484.9" cy="39.2" r="1.65" fill="url(#au2)"/>
<circle cx="493.0" cy="39.2" r="1.65" fill="url(#au2)"/>
<circle cx="501.2" cy="39.2" r="1.65" fill="url(#au2)"/>
<circle cx="509.3" cy="39.2" r="1.65" fill="url(#au2)"/>
<circle cx="517.5" cy="39.2" r="1.65" fill="url(#au2)"/>
<circle cx="440.1" cy="46.3" r="1.65" fill="url(#au2)"/>
<circle cx="448.2" cy="46.3" r="1.65" fill="url(#au2)"/>
<circle cx="456.4" cy="46.3" r="1.65" fill="url(#au2)"/>
<circle cx="464.5" cy="46.3" r="1.65" fill="url(#au2)"/>
<circle cx="472.7" cy="46.3" r="1.65" fill="url(#au2)"/>
<circle cx="480.8" cy="46.3" r="1.65" fill="url(#au2)"/>
<circle cx="489.0" cy="46.3" r="1.65" fill="url(#au2)"/>
<circle cx="497.1" cy="46.3" r="1.65" fill="url(#au2)"/>
<circle cx="505.3" cy="46.3" r="1.65" fill="url(#au2)"/>
<circle cx="513.4" cy="46.3" r="1.65" fill="url(#au2)"/>
<circle cx="436.0" cy="53.4" r="1.65" fill="url(#au2)"/>
<circle cx="444.1" cy="53.4" r="1.65" fill="url(#au2)"/>
<circle cx="452.3" cy="53.4" r="1.65" fill="url(#au2)"/>
<circle cx="460.4" cy="53.4" r="1.65" fill="url(#au2)"/>
<circle cx="468.6" cy="53.4" r="1.65" fill="url(#au2)"/>
<circle cx="476.7" cy="53.4" r="1.65" fill="url(#au2)"/>
<circle cx="484.9" cy="53.4" r="1.65" fill="url(#au2)"/>
<circle cx="493.0" cy="53.4" r="1.65" fill="url(#au2)"/>
<circle cx="501.2" cy="53.4" r="1.65" fill="url(#au2)"/>
<circle cx="509.3" cy="53.4" r="1.65" fill="url(#au2)"/>
<circle cx="517.5" cy="53.4" r="1.65" fill="url(#au2)"/>
<circle cx="440.1" cy="60.4" r="1.65" fill="url(#au2)"/>
<circle cx="448.2" cy="60.4" r="1.65" fill="url(#au2)"/>
<circle cx="456.4" cy="60.4" r="1.65" fill="url(#au2)"/>
<circle cx="464.5" cy="60.4" r="1.65" fill="url(#au2)"/>
<circle cx="472.7" cy="60.4" r="1.65" fill="url(#au2)"/>
<circle cx="480.8" cy="60.4" r="1.65" fill="url(#au2)"/>
<circle cx="489.0" cy="60.4" r="1.65" fill="url(#au2)"/>
<circle cx="497.1" cy="60.4" r="1.65" fill="url(#au2)"/>
<circle cx="505.3" cy="60.4" r="1.65" fill="url(#au2)"/>
<circle cx="513.4" cy="60.4" r="1.65" fill="url(#au2)"/>
<circle cx="436.0" cy="67.5" r="1.65" fill="url(#au2)"/>
<circle cx="444.1" cy="67.5" r="1.65" fill="url(#au2)"/>
<circle cx="452.3" cy="67.5" r="1.65" fill="url(#au2)"/>
<circle cx="460.4" cy="67.5" r="1.65" fill="url(#au2)"/>
<circle cx="468.6" cy="67.5" r="1.65" fill="url(#au2)"/>
<circle cx="476.7" cy="67.5" r="1.65" fill="url(#au2)"/>
<circle cx="484.9" cy="67.5" r="1.65" fill="url(#au2)"/>
<circle cx="493.0" cy="67.5" r="1.65" fill="url(#au2)"/>
<circle cx="501.2" cy="67.5" r="1.65" fill="url(#au2)"/>
<circle cx="509.3" cy="67.5" r="1.65" fill="url(#au2)"/>
<circle cx="517.5" cy="67.5" r="1.65" fill="url(#au2)"/>
<circle cx="440.1" cy="74.5" r="1.65" fill="url(#au2)"/>
<circle cx="448.2" cy="74.5" r="1.65" fill="url(#au2)"/>
<circle cx="456.4" cy="74.5" r="1.65" fill="url(#au2)"/>
<circle cx="464.5" cy="74.5" r="1.65" fill="url(#au2)"/>
<circle cx="472.7" cy="74.5" r="1.65" fill="url(#au2)"/>
<circle cx="480.8" cy="74.5" r="1.65" fill="url(#au2)"/>
<circle cx="489.0" cy="74.5" r="1.65" fill="url(#au2)"/>
<circle cx="497.1" cy="74.5" r="1.65" fill="url(#au2)"/>
<circle cx="505.3" cy="74.5" r="1.65" fill="url(#au2)"/>
<circle cx="513.4" cy="74.5" r="1.65" fill="url(#au2)"/>
<line x1="522.8" y1="10" x2="522.8" y2="73" stroke="#d8aa40" stroke-width="1.6"/>
<circle cx="522.5999999999999" cy="10.5" r="2.5" fill="url(#au3)"/>
<circle cx="523.3" cy="14.0" r="2.0" fill="url(#au3)"/>
<circle cx="522.5999999999999" cy="17.6" r="2.5" fill="url(#au3)"/>
<circle cx="523.3" cy="21.1" r="2.0" fill="url(#au3)"/>
<circle cx="522.5999999999999" cy="24.6" r="2.5" fill="url(#au3)"/>
<circle cx="523.3" cy="28.1" r="2.0" fill="url(#au3)"/>
<circle cx="522.5999999999999" cy="31.7" r="2.5" fill="url(#au3)"/>
<circle cx="523.3" cy="35.2" r="2.0" fill="url(#au3)"/>
<circle cx="522.5999999999999" cy="38.7" r="2.5" fill="url(#au3)"/>
<circle cx="523.3" cy="42.3" r="2.0" fill="url(#au3)"/>
<circle cx="522.5999999999999" cy="45.8" r="2.5" fill="url(#au3)"/>
<circle cx="523.3" cy="49.3" r="2.0" fill="url(#au3)"/>
<circle cx="522.5999999999999" cy="52.9" r="2.5" fill="url(#au3)"/>
<circle cx="523.3" cy="56.4" r="2.0" fill="url(#au3)"/>
<circle cx="522.5999999999999" cy="59.9" r="2.5" fill="url(#au3)"/>
<circle cx="523.3" cy="63.4" r="2.0" fill="url(#au3)"/>
<circle cx="522.5999999999999" cy="67.0" r="2.5" fill="url(#au3)"/>
<circle cx="523.3" cy="70.5" r="2.0" fill="url(#au3)"/>
<circle cx="522.5999999999999" cy="74.0" r="2.5" fill="url(#au3)"/>
<rect x="448.3" y="17.6" width="59.3" height="57.9" fill="none" stroke="#2f4f8f" stroke-width="1.6"/>
<line x1="398" y1="78.2" x2="537.6" y2="169.5" stroke="#2e75b6" stroke-width="1.5"/>
<path d="M395.3,75.6 L401.8,77.3 L398.2,81.3 Z" fill="#2e75b6"/>
<line x1="531.3" y1="136.2" x2="508.6" y2="81" stroke="#b01c1c" stroke-width="1.5"/>
<path d="M506.5,76 L511.2,81.2 L505.8,82.6 Z" fill="#b01c1c"/>
<path d="M37.60,297.21 L40.10,297.25 L42.61,297.30 L45.11,297.37 L47.61,297.46 L50.12,297.56 L52.62,297.67 L55.12,297.80 L57.62,297.93 L60.13,298.08 L62.63,298.24 L65.13,298.41 L67.64,298.59 L70.14,298.77 L72.64,298.96 L75.15,299.16 L77.65,299.37 L80.15,299.57 L82.65,299.78 L85.16,300.00 L87.66,300.21 L90.16,300.45 L92.67,300.71 L95.17,301.00 L97.67,301.31 L100.18,301.64 L102.68,301.99 L105.18,302.35 L107.68,302.74 L110.19,303.13 L112.69,303.53 L115.19,303.94 L117.70,304.36 L120.20,304.80 L122.70,305.29 L125.21,305.81 L127.71,306.35 L130.21,306.91 L132.72,307.47 L135.22,308.02 L137.72,308.54 L140.22,309.04 L142.73,309.51 L145.23,309.96 L147.73,310.39 L150.24,310.81 L152.74,311.22 L155.24,311.63 L157.75,312.03 L160.25,312.44 L162.75,312.85 L165.25,313.27 L167.76,313.71 L170.26,314.16 L172.76,314.63 L175.27,315.13 L177.77,315.66 L180.27,316.22 L182.78,316.82 L185.28,317.47 L187.78,318.15 L190.29,318.88 L192.79,319.64 L195.29,320.43 L197.79,321.26 L200.30,322.11 L202.80,323.00 L205.30,323.91 L207.81,324.88 L210.31,325.89 L212.81,326.97 L215.32,328.12 L217.82,329.34 L220.32,330.66 L222.82,331.99 L225.33,333.44 L227.83,335.17 L230.33,337.37 L232.84,340.83 L235.34,346.00" fill="none" stroke="#98a0a8" stroke-width="1.7"/>
<path d="M37.60,296.98 L38.85,296.98 L40.10,296.98 L41.35,296.99 L42.60,297.00 L43.85,297.01 L45.10,297.02 L46.35,297.03 L47.60,297.05 L48.85,297.07 L50.11,297.09 L51.36,297.11 L52.61,297.14 L53.86,297.17 L55.11,297.20 L56.36,297.23 L57.61,297.26 L58.86,297.30 L60.11,297.34 L61.36,297.38 L62.61,297.42 L63.86,297.47 L65.11,297.52 L66.36,297.57 L67.61,297.62 L68.86,297.67 L70.11,297.73 L71.36,297.79 L72.61,297.85 L73.87,297.92 L75.12,297.98 L76.37,298.05 L77.62,298.12 L78.87,298.19 L80.12,298.27 L81.37,298.35 L82.62,298.43 L83.87,298.51 L85.12,298.60 L86.37,298.68 L87.62,298.77 L88.87,298.87 L90.12,298.96 L91.37,299.06 L92.62,299.16 L93.87,299.26 L95.12,299.36 L96.37,299.47 L97.63,299.58 L98.88,299.69 L100.13,299.80 L101.38,299.92 L102.63,300.04 L103.88,300.16 L105.13,300.29 L106.38,300.41 L107.63,300.54 L108.88,300.68 L110.13,300.81 L111.38,300.95 L112.63,301.09 L113.88,301.23 L115.13,301.38 L116.38,301.53 L117.63,301.68 L118.88,301.83 L120.13,301.99 L121.39,302.15 L122.64,302.31 L123.89,302.48 L125.14,302.65 L126.39,302.82 L127.64,302.99 L128.89,303.17 L130.14,303.35 L131.39,303.53 L132.64,303.72 L133.89,303.91 L135.14,304.10 L136.39,304.29 L137.64,304.49 L138.89,304.70 L140.14,304.90 L141.39,305.11 L142.64,305.32 L143.89,305.54 L145.15,305.76 L146.40,305.98 L147.65,306.20 L148.90,306.43 L150.15,306.67 L151.40,306.90 L152.65,307.14 L153.90,307.39 L155.15,307.64 L156.40,307.89 L157.65,308.14 L158.90,308.40 L160.15,308.67 L161.40,308.94 L162.65,309.21 L163.90,309.49 L165.15,309.77 L166.40,310.05 L167.66,310.34 L168.91,310.64 L170.16,310.94 L171.41,311.24 L172.66,311.55 L173.91,311.86 L175.16,312.18 L176.41,312.51 L177.66,312.84 L178.91,313.17 L180.16,313.51 L181.41,313.86 L182.66,314.21 L183.91,314.57 L185.16,314.93 L186.41,315.31 L187.66,315.68 L188.91,316.07 L190.16,316.46 L191.42,316.86 L192.67,317.26 L193.92,317.68 L195.17,318.10 L196.42,318.53 L197.67,318.97 L198.92,319.42 L200.17,319.87 L201.42,320.34 L202.67,320.82 L203.92,321.31 L205.17,321.81 L206.42,322.32 L207.67,322.84 L208.92,323.37 L210.17,323.92 L211.42,324.49 L212.67,325.07 L213.92,325.66 L215.18,326.28 L216.43,326.91 L217.68,327.57 L218.93,328.25 L220.18,328.95 L221.43,329.68 L222.68,330.44 L223.93,331.23 L225.18,332.07 L226.43,332.95 L227.68,333.88 L228.93,334.88 L230.18,335.96 L231.43,337.14 L232.68,338.47 L233.93,340.01 L235.18,341.96 L236.43,346.00" fill="none" stroke="#9aa2aa" stroke-width="2.0" stroke-dasharray="1.1 0.5"/>
<path d="M37.60,320.69 L40.10,320.72 L42.60,320.75 L45.10,320.79 L47.59,320.84 L50.09,320.90 L52.59,320.96 L55.09,321.03 L57.59,321.10 L60.09,321.18 L62.58,321.26 L65.08,321.35 L67.58,321.44 L70.08,321.54 L72.58,321.64 L75.08,321.74 L77.57,321.84 L80.07,321.95 L82.57,322.06 L85.07,322.18 L87.57,322.29 L90.07,322.41 L92.57,322.53 L95.06,322.66 L97.56,322.82 L100.06,323.01 L102.56,323.21 L105.06,323.43 L107.56,323.66 L110.05,323.90 L112.55,324.15 L115.05,324.39 L117.55,324.64 L120.05,324.89 L122.55,325.12 L125.04,325.35 L127.54,325.56 L130.04,325.75 L132.54,325.92 L135.04,326.07 L137.54,326.19 L140.04,326.28 L142.53,326.35 L145.03,326.41 L147.53,326.48 L150.03,326.53 L152.53,326.58 L155.03,326.61 L157.52,326.62 L160.02,326.61 L162.52,326.58 L165.02,326.54 L167.52,326.48 L170.02,326.42 L172.51,326.37 L175.01,326.32 L177.51,326.29 L180.01,326.28 L182.51,326.33 L185.01,326.46 L187.50,326.65 L190.00,326.89 L192.50,327.15 L195.00,327.43 L197.50,327.73 L200.00,328.12 L202.50,328.57 L204.99,329.04 L207.49,329.47 L209.99,329.85 L212.49,330.23 L214.99,330.64 L217.49,331.13 L219.98,331.74 L222.48,332.58 L224.98,333.76 L227.48,335.28 L229.98,337.62 L232.48,340.94 L234.97,346.00" fill="none" stroke="#98a0a8" stroke-width="2.0"/>
<path d="M37.60,320.69 L38.93,320.69 L40.25,320.70 L41.58,320.71 L42.90,320.72 L44.23,320.74 L45.55,320.77 L46.88,320.79 L48.20,320.82 L49.53,320.86 L50.85,320.90 L52.18,320.94 L53.50,320.99 L54.83,321.04 L56.16,321.09 L57.48,321.15 L58.81,321.22 L60.13,321.28 L61.46,321.36 L62.78,321.43 L64.11,321.52 L65.43,321.60 L66.76,321.69 L68.08,321.79 L69.41,321.89 L70.74,321.99 L72.06,322.10 L73.39,322.22 L74.71,322.33 L76.04,322.46 L77.36,322.59 L78.69,322.72 L80.01,322.86 L81.34,323.01 L82.66,323.16 L83.99,323.31 L85.31,323.47 L86.64,323.64 L87.97,323.81 L89.29,323.99 L90.62,324.18 L91.94,324.37 L93.27,324.56 L94.59,324.77 L95.92,324.98 L97.24,325.20 L98.57,325.42 L99.89,325.66 L101.22,325.90 L102.54,326.15 L103.87,326.41 L105.20,326.67 L106.52,326.95 L107.85,327.23 L109.17,327.53 L110.50,327.83 L111.82,328.15 L113.15,328.48 L114.47,328.82 L115.80,329.17 L117.12,329.54 L118.45,329.92 L119.78,330.32 L121.10,330.73 L122.43,331.16 L123.75,331.62 L125.08,332.09 L126.40,332.59 L127.73,333.12 L129.05,333.68 L130.38,334.27 L131.70,334.90 L133.03,335.58 L134.35,336.33 L135.68,337.14 L137.01,338.05 L138.33,339.09 L139.66,340.34 L140.98,341.99 L142.31,346.00" fill="none" stroke="#5a6975" stroke-width="1.3"/>
<path d="M38.69,337.79 L39.40,337.44 L40.10,337.09 L40.80,336.75 L41.50,336.42 L42.20,336.10 L42.91,335.80 L43.61,335.52 L44.31,335.26 L45.01,335.02 L45.71,334.79 L46.42,334.57 L47.12,334.35 L47.82,334.14 L48.52,333.93 L49.22,333.73 L49.93,333.54 L50.63,333.35 L51.33,333.18 L52.03,333.01 L52.73,332.86 L53.44,332.71 L54.14,332.58 L54.84,332.47 L55.54,332.36 L56.24,332.27 L56.95,332.18 L57.65,332.09 L58.35,332.00 L59.05,331.91 L59.75,331.83 L60.46,331.75 L61.16,331.67 L61.86,331.60 L62.56,331.53 L63.26,331.47 L63.96,331.42 L64.67,331.38 L65.37,331.34 L66.07,331.32 L66.77,331.30 L67.47,331.29 L68.18,331.30 L68.88,331.32 L69.58,331.36 L70.28,331.41 L70.98,331.47 L71.69,331.55 L72.39,331.63 L73.09,331.73 L73.79,331.83 L74.49,331.95 L75.20,332.07 L75.90,332.19 L76.60,332.33 L77.30,332.46 L78.00,332.61 L78.71,332.79 L79.41,333.03 L80.11,333.31 L80.81,333.62 L81.51,333.97 L82.22,334.34 L82.92,334.73 L83.62,335.13 L84.32,335.55 L85.02,335.97 L85.73,336.39 L86.43,336.85 L87.13,337.33 L87.83,337.86 L88.53,338.43 L89.24,339.04 L89.94,339.72 L90.64,340.45 L91.34,341.32 L92.04,342.34 L92.75,343.48 L93.45,344.71 L94.15,346.00" fill="none" stroke="#2f4a63" stroke-width="2.2"/>
<path d="M39.8,337.8 Q37.6,339.7 37.6,344.3" fill="none" stroke="#2f4a63" stroke-width="1.6"/>
<path d="M112.8,329.5 C114.9,326.1 117.9,324.8 125.2,324.8 S132.5,326.1 134.6,326.8 S137.2,324.9 138.7,327.8 S139.8,341.4 140.5,346.0" fill="none" stroke="#2f4a63" stroke-width="2.0"/>
<path d="M143.4,346.0 C144.1,334.6 147.1,327.8 158.0,326.4 L168.9,326.8" fill="none" stroke="#2f4a63" stroke-width="1.8"/>
<path d="M141.9,339.7 C145.2,330.6 150.7,327.8 161.6,327.5 S179.9,326.1 194.5,330.6 S205.4,338.0 210.9,346.0" fill="none" stroke="#a3abb2" stroke-width="1.6"/>
<path d="M179.88,313.74 L180.58,314.48 L181.28,315.20 L181.98,315.90 L182.67,316.57 L183.37,317.20 L184.07,317.80 L184.77,318.34 L185.46,318.83 L186.16,319.25 L186.86,319.64 L187.56,320.00 L188.25,320.35 L188.95,320.68 L189.65,320.99 L190.35,321.28 L191.04,321.56 L191.74,321.83 L192.44,322.08 L193.13,322.32 L193.83,322.55 L194.53,322.78 L195.23,322.99 L195.92,323.20 L196.62,323.39 L197.32,323.58 L198.02,323.75 L198.71,323.92 L199.41,324.07 L200.11,324.22 L200.81,324.37 L201.50,324.51 L202.20,324.64 L202.90,324.78 L203.59,324.91 L204.29,325.05 L204.99,325.18 L205.69,325.32 L206.38,325.47 L207.08,325.62 L207.78,325.77 L208.48,325.94 L209.17,326.11 L209.87,326.30 L210.57,326.49 L211.27,326.68 L211.96,326.87 L212.66,327.06 L213.36,327.26 L214.05,327.46 L214.75,327.66 L215.45,327.87 L216.15,328.09 L216.84,328.31 L217.54,328.55 L218.24,328.79 L218.94,329.04 L219.63,329.31 L220.33,329.58 L221.03,329.87 L221.73,330.18 L222.42,330.50 L223.12,330.83 L223.82,331.18 L224.51,331.55 L225.21,331.95 L225.91,332.37 L226.61,332.83 L227.30,333.34 L228.00,333.89 L228.70,334.49 L229.40,335.16 L230.09,335.89 L230.79,336.70 L231.49,337.58 L232.19,338.56 L232.88,339.94 L233.58,341.76 L234.28,343.84 L234.97,346.00" fill="none" stroke="#2f4a63" stroke-width="1.7"/>
<path d="M211.26,346.00 L211.57,343.45 L211.87,342.40 L212.18,341.60 L212.48,340.92 L212.78,340.33 L213.09,339.79 L213.39,339.31 L213.70,338.86 L214.00,338.44 L214.31,338.05 L214.61,337.69 L214.92,337.35 L215.22,337.02 L215.53,336.72 L215.83,336.43 L216.14,336.16 L216.44,335.90 L216.75,335.66 L217.05,335.43 L217.36,335.21 L217.66,335.01 L217.97,334.81 L218.27,334.63 L218.58,334.47 L218.88,334.31 L219.19,334.16 L219.49,334.03 L219.79,333.91 L220.10,333.79 L220.40,333.69 L220.71,333.60 L221.01,333.52 L221.32,333.45 L221.62,333.39 L221.93,333.33 L222.23,333.29 L222.54,333.26 L222.84,333.24 L223.15,333.23 L223.45,333.23 L223.76,333.24 L224.06,333.26 L224.37,333.29 L224.67,333.33 L224.98,333.39 L225.28,333.45 L225.59,333.52 L225.89,333.60 L226.20,333.69 L226.50,333.79 L226.81,333.91 L227.11,334.03 L227.41,334.16 L227.72,334.31 L228.02,334.47 L228.33,334.63 L228.63,334.81 L228.94,335.01 L229.24,335.21 L229.55,335.43 L229.85,335.66 L230.16,335.90 L230.46,336.16 L230.77,336.43 L231.07,336.72 L231.38,337.02 L231.68,337.35 L231.99,337.69 L232.29,338.05 L232.60,338.44 L232.90,338.86 L233.21,339.31 L233.51,339.79 L233.82,340.33 L234.12,340.92 L234.43,341.60 L234.73,342.40 L235.03,343.45 L235.34,346.00" fill="none" stroke="#2f4a63" stroke-width="2.0"/>
<rect x="37.6" y="289.0" width="218.9" height="57.0" fill="none" stroke="#000" stroke-width="1.4"/>
<line x1="34.5" y1="346.0" x2="37.6" y2="346.0" stroke="#000" stroke-width="1.1"/>
<line x1="34.5" y1="334.6" x2="37.6" y2="334.6" stroke="#000" stroke-width="1.1"/>
<line x1="34.5" y1="323.2" x2="37.6" y2="323.2" stroke="#000" stroke-width="1.1"/>
<line x1="34.5" y1="311.8" x2="37.6" y2="311.8" stroke="#000" stroke-width="1.1"/>
<line x1="34.5" y1="300.4" x2="37.6" y2="300.4" stroke="#000" stroke-width="1.1"/>
<line x1="34.5" y1="289.0" x2="37.6" y2="289.0" stroke="#000" stroke-width="1.1"/>
<line x1="37.6" y1="346.0" x2="37.6" y2="349.0" stroke="#000" stroke-width="1.1"/>
<line x1="74.1" y1="346.0" x2="74.1" y2="349.0" stroke="#000" stroke-width="1.1"/>
<line x1="110.6" y1="346.0" x2="110.6" y2="349.0" stroke="#000" stroke-width="1.1"/>
<line x1="147.1" y1="346.0" x2="147.1" y2="349.0" stroke="#000" stroke-width="1.1"/>
<line x1="183.5" y1="346.0" x2="183.5" y2="349.0" stroke="#000" stroke-width="1.1"/>
<line x1="220.0" y1="346.0" x2="220.0" y2="349.0" stroke="#000" stroke-width="1.1"/>
<line x1="256.5" y1="346.0" x2="256.5" y2="349.0" stroke="#000" stroke-width="1.1"/>
<rect x="313.4" y="240.3" width="218.0" height="95.6" fill="none" stroke="#3a3a3a" stroke-width="1.3"/>
<line x1="307.8" y1="335.9" x2="313.4" y2="335.9" stroke="#3a3a3a" stroke-width="1.1"/>
<line x1="309.4" y1="329.5" x2="313.4" y2="329.5" stroke="#3a3a3a" stroke-width="1.1"/>
<line x1="309.4" y1="323.2" x2="313.4" y2="323.2" stroke="#3a3a3a" stroke-width="1.1"/>
<line x1="309.4" y1="316.8" x2="313.4" y2="316.8" stroke="#3a3a3a" stroke-width="1.1"/>
<line x1="309.4" y1="310.4" x2="313.4" y2="310.4" stroke="#3a3a3a" stroke-width="1.1"/>
<line x1="307.8" y1="304.0" x2="313.4" y2="304.0" stroke="#3a3a3a" stroke-width="1.1"/>
<line x1="309.4" y1="297.7" x2="313.4" y2="297.7" stroke="#3a3a3a" stroke-width="1.1"/>
<line x1="309.4" y1="291.3" x2="313.4" y2="291.3" stroke="#3a3a3a" stroke-width="1.1"/>
<line x1="309.4" y1="284.9" x2="313.4" y2="284.9" stroke="#3a3a3a" stroke-width="1.1"/>
<line x1="309.4" y1="278.5" x2="313.4" y2="278.5" stroke="#3a3a3a" stroke-width="1.1"/>
<line x1="307.8" y1="272.2" x2="313.4" y2="272.2" stroke="#3a3a3a" stroke-width="1.1"/>
<line x1="309.4" y1="265.8" x2="313.4" y2="265.8" stroke="#3a3a3a" stroke-width="1.1"/>
<line x1="309.4" y1="259.4" x2="313.4" y2="259.4" stroke="#3a3a3a" stroke-width="1.1"/>
<line x1="309.4" y1="253.0" x2="313.4" y2="253.0" stroke="#3a3a3a" stroke-width="1.1"/>
<line x1="309.4" y1="246.7" x2="313.4" y2="246.7" stroke="#3a3a3a" stroke-width="1.1"/>
<line x1="307.8" y1="240.3" x2="313.4" y2="240.3" stroke="#3a3a3a" stroke-width="1.1"/>
<line x1="313.4" y1="335.9" x2="313.4" y2="340.9" stroke="#3a3a3a" stroke-width="1.1"/>
<line x1="337.6" y1="335.9" x2="337.6" y2="339.9" stroke="#3a3a3a" stroke-width="1.1"/>
<line x1="361.8" y1="335.9" x2="361.8" y2="340.9" stroke="#3a3a3a" stroke-width="1.1"/>
<line x1="386.1" y1="335.9" x2="386.1" y2="339.9" stroke="#3a3a3a" stroke-width="1.1"/>
<line x1="410.3" y1="335.9" x2="410.3" y2="340.9" stroke="#3a3a3a" stroke-width="1.1"/>
<line x1="434.5" y1="335.9" x2="434.5" y2="339.9" stroke="#3a3a3a" stroke-width="1.1"/>
<line x1="458.7" y1="335.9" x2="458.7" y2="340.9" stroke="#3a3a3a" stroke-width="1.1"/>
<line x1="483.0" y1="335.9" x2="483.0" y2="339.9" stroke="#3a3a3a" stroke-width="1.1"/>
<line x1="507.2" y1="335.9" x2="507.2" y2="340.9" stroke="#3a3a3a" stroke-width="1.1"/>
<line x1="531.4" y1="335.9" x2="531.4" y2="339.9" stroke="#3a3a3a" stroke-width="1.1"/>
<defs><radialGradient id="gg" cx="0.45" cy="0.45" r="0.6"><stop offset="0" stop-color="#dcefc4"/><stop offset="0.5" stop-color="#b4d88c"/><stop offset="1" stop-color="#82b250"/></radialGradient><radialGradient id="og" cx="0.45" cy="0.45" r="0.6"><stop offset="0" stop-color="#fbd8b0"/><stop offset="0.5" stop-color="#f2aa68"/><stop offset="1" stop-color="#d8802e"/></radialGradient></defs>
<line x1="337.4" y1="272.3" x2="337.4" y2="282.3" stroke="#84a258" stroke-width="1.4"/>
<line x1="336.2" y1="272.3" x2="338.59999999999997" y2="272.3" stroke="#84a258" stroke-width="0.8"/>
<line x1="336.2" y1="282.3" x2="338.59999999999997" y2="282.3" stroke="#84a258" stroke-width="0.8"/>
<circle cx="337.4" cy="277.3" r="2.6" fill="url(#gg)" stroke="#5f8a35" stroke-width="0.8"/>
<line x1="337.4" y1="275.0" x2="337.4" y2="287.0" stroke="#e8b488" stroke-width="1.1"/>
<line x1="336.2" y1="275.0" x2="338.59999999999997" y2="275.0" stroke="#e8b488" stroke-width="0.8"/>
<line x1="336.2" y1="287.0" x2="338.59999999999997" y2="287.0" stroke="#e8b488" stroke-width="0.8"/>
<circle cx="337.4" cy="281.0" r="2.6" fill="url(#og)" stroke="#b46e2c" stroke-width="0.8"/>
<line x1="378.7" y1="266.5" x2="378.7" y2="279.5" stroke="#e8b488" stroke-width="1.1"/>
<line x1="377.5" y1="266.5" x2="379.9" y2="266.5" stroke="#e8b488" stroke-width="0.8"/>
<line x1="377.5" y1="279.5" x2="379.9" y2="279.5" stroke="#e8b488" stroke-width="0.8"/>
<circle cx="378.7" cy="273.0" r="2.6" fill="url(#og)" stroke="#b46e2c" stroke-width="0.8"/>
<line x1="385.8" y1="257.0" x2="385.8" y2="272.2" stroke="#84a258" stroke-width="1.4"/>
<line x1="384.6" y1="257.0" x2="387.0" y2="257.0" stroke="#84a258" stroke-width="0.8"/>
<line x1="384.6" y1="272.2" x2="387.0" y2="272.2" stroke="#84a258" stroke-width="0.8"/>
<circle cx="385.8" cy="264.6" r="2.6" fill="url(#gg)" stroke="#5f8a35" stroke-width="0.8"/>
<line x1="432.6" y1="272.5" x2="432.6" y2="282.5" stroke="#e8b488" stroke-width="1.1"/>
<line x1="431.40000000000003" y1="272.5" x2="433.8" y2="272.5" stroke="#e8b488" stroke-width="0.8"/>
<line x1="431.40000000000003" y1="282.5" x2="433.8" y2="282.5" stroke="#e8b488" stroke-width="0.8"/>
<circle cx="432.6" cy="277.5" r="2.6" fill="url(#og)" stroke="#b46e2c" stroke-width="0.8"/>
<line x1="435.0" y1="257.3" x2="435.0" y2="271.3" stroke="#84a258" stroke-width="1.4"/>
<line x1="433.8" y1="257.3" x2="436.2" y2="257.3" stroke="#84a258" stroke-width="0.8"/>
<line x1="433.8" y1="271.3" x2="436.2" y2="271.3" stroke="#84a258" stroke-width="0.8"/>
<circle cx="435.0" cy="264.3" r="2.6" fill="url(#gg)" stroke="#5f8a35" stroke-width="0.8"/>
<line x1="507.1" y1="260.6" x2="507.1" y2="274.4" stroke="#84a258" stroke-width="1.4"/>
<line x1="505.90000000000003" y1="260.6" x2="508.3" y2="260.6" stroke="#84a258" stroke-width="0.8"/>
<line x1="505.90000000000003" y1="274.4" x2="508.3" y2="274.4" stroke="#84a258" stroke-width="0.8"/>
<circle cx="507.1" cy="267.5" r="2.6" fill="url(#gg)" stroke="#5f8a35" stroke-width="0.8"/>
<text x="59.70" y="22.07" font-size="14.47" font-weight="bold" fill="#000" textLength="18.24" lengthAdjust="spacingAndGlyphs">(a)</text>
<text x="74.07" y="83.63" font-size="14.93" font-weight="bold" fill="#000" textLength="19.92" lengthAdjust="spacingAndGlyphs">(b)</text>
<text x="292.03" y="36.70" font-size="14.27" font-weight="bold" fill="#000" textLength="17.12" lengthAdjust="spacingAndGlyphs">(c)</text>
<text x="165.55" y="303.58" font-size="14.81" font-weight="bold" fill="#000" textLength="19.21" lengthAdjust="spacingAndGlyphs">(d)</text>
<text x="322.74" y="257.65" font-size="14.49" font-weight="bold" fill="#000" textLength="18.59" lengthAdjust="spacingAndGlyphs">(e)</text>
<text x="82.95" y="32.27" font-size="12.42" fill="#000" textLength="5.05" lengthAdjust="spacingAndGlyphs">y</text>
<text x="93.50" y="48.20" font-size="12.50" fill="#000" textLength="7.00" lengthAdjust="spacingAndGlyphs">x</text>
<text x="189.52" y="31.85" font-size="11.94" fill="#404040" textLength="47.66" lengthAdjust="spacingAndGlyphs">X= 2.74 Å</text>
<text x="189.57" y="45.70" font-size="11.09" fill="#404040" textLength="47.44" lengthAdjust="spacingAndGlyphs">Y= 4.73 Å</text>
<text x="179.66" y="105.30" font-size="14.10" font-weight="bold" fill="#5b9bd5" textLength="32.78" lengthAdjust="spacingAndGlyphs">DFPT</text>
<text x="112.47" y="188.58" font-size="14.87" font-weight="bold" fill="#000" textLength="29.09" lengthAdjust="spacingAndGlyphs">MTP</text>
<text x="22.43" y="271.21" font-size="11.96" stroke="#1f3864" stroke-width="0.5" fill="#1f3864" textLength="10.38" lengthAdjust="spacingAndGlyphs">-1</text>
<text x="25.61" y="241.96" font-size="11.50" stroke="#1f3864" stroke-width="0.5" fill="#1f3864" textLength="7.26" lengthAdjust="spacingAndGlyphs">0</text>
<text x="25.14" y="212.79" font-size="11.80" stroke="#1f3864" stroke-width="0.5" fill="#1f3864" textLength="7.89" lengthAdjust="spacingAndGlyphs">1</text>
<text x="25.49" y="183.91" font-size="11.64" stroke="#1f3864" stroke-width="0.5" fill="#1f3864" textLength="7.56" lengthAdjust="spacingAndGlyphs">2</text>
<text x="25.35" y="155.26" font-size="11.43" stroke="#1f3864" stroke-width="0.5" fill="#1f3864" textLength="7.58" lengthAdjust="spacingAndGlyphs">3</text>
<text x="25.76" y="126.64" font-size="12.04" stroke="#1f3864" stroke-width="0.5" fill="#1f3864" textLength="6.99" lengthAdjust="spacingAndGlyphs">4</text>
<text x="25.60" y="97.98" font-size="11.88" stroke="#1f3864" stroke-width="0.5" fill="#1f3864" textLength="7.28" lengthAdjust="spacingAndGlyphs">5</text>
<text x="25.47" y="69.18" font-size="11.76" stroke="#1f3864" stroke-width="0.5" fill="#1f3864" textLength="7.40" lengthAdjust="spacingAndGlyphs">6</text>
<text x="36.12" y="277.79" font-size="11.15" font-weight="bold" font-family='"Liberation Serif", serif' fill="#1f3864" textLength="6.75" lengthAdjust="spacingAndGlyphs">Γ</text>
<text x="101.26" y="278.00" font-size="11.58" font-weight="bold" font-family='"Liberation Serif", serif' fill="#1f3864" textLength="9.08" lengthAdjust="spacingAndGlyphs">X</text>
<text x="144.58" y="278.14" font-size="11.81" font-weight="bold" font-family='"Liberation Serif", serif' fill="#1f3864" textLength="6.78" lengthAdjust="spacingAndGlyphs">S</text>
<text x="211.43" y="278.00" font-size="11.53" font-weight="bold" font-family='"Liberation Serif", serif' fill="#1f3864" textLength="10.43" lengthAdjust="spacingAndGlyphs">Y</text>
<text x="249.53" y="278.00" font-size="11.58" font-weight="bold" font-family='"Liberation Serif", serif' fill="#1f3864" textLength="8.40" lengthAdjust="spacingAndGlyphs">Γ</text>
<text transform="translate(16.84,218.65) rotate(-90)" font-size="15.20" fill="#1f3864" textLength="109.52" lengthAdjust="spacingAndGlyphs">Frequency (THz)</text>
<text x="278.36" y="87.60" font-size="11.05" fill="#404040" textLength="28.63" lengthAdjust="spacingAndGlyphs">-2.65</text>
<text x="284.74" y="111.60" font-size="11.05" fill="#404040" textLength="22.45" lengthAdjust="spacingAndGlyphs">-2.7</text>
<text x="278.40" y="136.74" font-size="10.93" fill="#404040" textLength="28.64" lengthAdjust="spacingAndGlyphs">-2.75</text>
<text x="284.69" y="163.76" font-size="10.90" fill="#404040" textLength="22.44" lengthAdjust="spacingAndGlyphs">-2.8</text>
<text x="278.36" y="188.61" font-size="11.05" fill="#404040" textLength="28.63" lengthAdjust="spacingAndGlyphs">-2.85</text>
<text x="284.70" y="213.25" font-size="10.81" fill="#404040" textLength="22.20" lengthAdjust="spacingAndGlyphs">-2.9</text>
<text x="307.52" y="222.94" font-size="12.26" fill="#404040" textLength="6.47" lengthAdjust="spacingAndGlyphs">0</text>
<text x="352.23" y="222.54" font-size="12.49" fill="#404040" textLength="6.86" lengthAdjust="spacingAndGlyphs">2</text>
<text x="398.04" y="222.77" font-size="12.86" fill="#404040" textLength="6.59" lengthAdjust="spacingAndGlyphs">4</text>
<text x="443.24" y="222.83" font-size="12.43" fill="#404040" textLength="7.00" lengthAdjust="spacingAndGlyphs">6</text>
<text x="488.79" y="222.16" font-size="12.15" fill="#404040" textLength="7.58" lengthAdjust="spacingAndGlyphs">8</text>
<text x="531.42" y="222.85" font-size="12.43" fill="#404040" textLength="13.80" lengthAdjust="spacingAndGlyphs">10</text>
<text x="399.35" y="235.21" font-size="13.02" fill="#1f3864" textLength="55.31" lengthAdjust="spacingAndGlyphs">Time (ps)</text>
<text transform="translate(276.18,205.43) rotate(-90)" font-size="16.70" fill="#1f3864" textLength="115.89" lengthAdjust="spacingAndGlyphs">Energy (eV/atom)</text>
<text x="479.29" y="118.13" font-size="14.95" fill="#a52a2a" textLength="39.49" lengthAdjust="spacingAndGlyphs">700 K</text>
<text x="485.19" y="190.01" font-size="15.04" fill="#2e75b6" textLength="38.98" lengthAdjust="spacingAndGlyphs">500 K</text>
<text x="26.77" y="349.78" font-size="9.27" font-weight="bold" fill="#1f3864" textLength="5.69" lengthAdjust="spacingAndGlyphs">0</text>
<text x="26.42" y="339.08" font-size="9.83" font-weight="bold" fill="#1f3864" textLength="5.80" lengthAdjust="spacingAndGlyphs">1</text>
<text x="26.71" y="327.38" font-size="9.30" font-weight="bold" fill="#1f3864" textLength="5.56" lengthAdjust="spacingAndGlyphs">2</text>
<text x="26.57" y="316.25" font-size="9.18" font-weight="bold" fill="#1f3864" textLength="5.83" lengthAdjust="spacingAndGlyphs">3</text>
<text x="26.73" y="305.13" font-size="9.90" font-weight="bold" fill="#1f3864" textLength="5.40" lengthAdjust="spacingAndGlyphs">4</text>
<text x="26.58" y="293.27" font-size="9.23" font-weight="bold" fill="#1f3864" textLength="5.79" lengthAdjust="spacingAndGlyphs">5</text>
<text x="34.60" y="357.90" font-size="8.38" font-weight="bold" fill="#44618a" textLength="4.45" lengthAdjust="spacingAndGlyphs">0</text>
<text x="71.14" y="357.80" font-size="8.45" font-weight="bold" fill="#44618a" textLength="4.07" lengthAdjust="spacingAndGlyphs">1</text>
<text x="107.36" y="357.60" font-size="8.50" font-weight="bold" fill="#44618a" textLength="5.20" lengthAdjust="spacingAndGlyphs">2</text>
<text x="143.93" y="357.81" font-size="8.22" font-weight="bold" fill="#44618a" textLength="4.61" lengthAdjust="spacingAndGlyphs">3</text>
<text x="180.58" y="358.09" font-size="8.75" font-weight="bold" fill="#44618a" textLength="4.32" lengthAdjust="spacingAndGlyphs">4</text>
<text x="216.97" y="358.07" font-size="8.27" font-weight="bold" fill="#44618a" textLength="4.35" lengthAdjust="spacingAndGlyphs">5</text>
<text x="253.28" y="357.60" font-size="8.50" font-weight="bold" fill="#44618a" textLength="5.20" lengthAdjust="spacingAndGlyphs">6</text>
<text x="93.56" y="372.06" font-size="14.40" fill="#1f3864" textLength="100.37" lengthAdjust="spacingAndGlyphs">Frequency (THz)</text>
<text transform="translate(17.76,350.30) rotate(-90)" font-size="15.49" fill="#1f3864" textLength="67.09" lengthAdjust="spacingAndGlyphs"><tspan font-style="italic">GV</tspan> (km/s)</text>
<text x="291.10" y="246.18" font-size="13.76" fill="#34496a" textLength="14.18" lengthAdjust="spacingAndGlyphs">15</text>
<text x="291.10" y="275.65" font-size="13.79" fill="#34496a" textLength="14.17" lengthAdjust="spacingAndGlyphs">10</text>
<text x="298.01" y="308.32" font-size="14.29" fill="#34496a" textLength="7.28" lengthAdjust="spacingAndGlyphs">5</text>
<text x="298.59" y="339.76" font-size="13.99" fill="#34496a" textLength="6.65" lengthAdjust="spacingAndGlyphs">0</text>
<text x="307.42" y="354.25" font-size="12.64" fill="#34496a" textLength="15.26" lengthAdjust="spacingAndGlyphs">20</text>
<text x="356.45" y="353.98" font-size="12.90" fill="#34496a" textLength="14.87" lengthAdjust="spacingAndGlyphs">40</text>
<text x="404.38" y="354.29" font-size="12.67" fill="#34496a" textLength="15.28" lengthAdjust="spacingAndGlyphs">60</text>
<text x="452.97" y="353.90" font-size="12.71" fill="#34496a" textLength="16.01" lengthAdjust="spacingAndGlyphs">80</text>
<text x="498.01" y="354.25" font-size="12.63" fill="#34496a" textLength="23.31" lengthAdjust="spacingAndGlyphs">100</text>
<text x="384.84" y="371.16" font-size="13.24" fill="#1f3864" textLength="75.21" lengthAdjust="spacingAndGlyphs">Length (nm)</text>
<text transform="translate(285.34,322.22) rotate(-90)" font-size="12.11" fill="#1f3864" textLength="76.36" lengthAdjust="spacingAndGlyphs"><tspan font-style="italic">K</tspan>(W/(m.K))</text>
<text x="392.03" y="264.53" font-size="12.69" fill="#6aa53e" textLength="7.28" lengthAdjust="spacingAndGlyphs">x</text>
<text x="421.25" y="286.79" font-size="13.78" fill="#e07b2a" textLength="6.74" lengthAdjust="spacingAndGlyphs">y</text>
</svg>
</body></html>
